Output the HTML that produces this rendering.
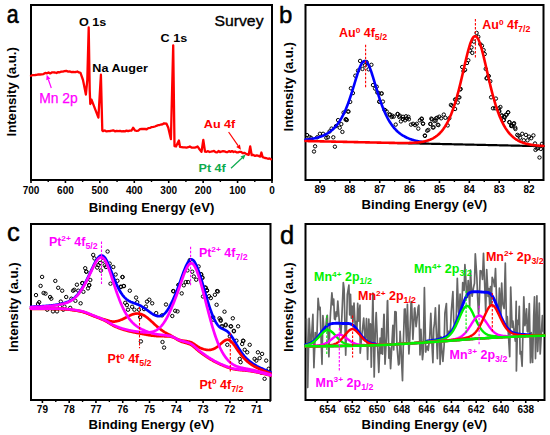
<!DOCTYPE html>
<html><head><meta charset="utf-8"><style>
html,body{margin:0;padding:0;background:#fff;}
svg{display:block;font-family:"Liberation Sans", sans-serif;}
</style></head><body>
<svg width="550" height="435" viewBox="0 0 550 435">
<rect width="550" height="435" fill="#fff"/>
<rect x="31" y="5" width="241" height="175" fill="none" stroke="#000" stroke-width="2"/>
<line x1="272.00" y1="180.00" x2="272.00" y2="183.00" stroke="#000" stroke-width="1.6" />
<line x1="237.57" y1="180.00" x2="237.57" y2="183.00" stroke="#000" stroke-width="1.6" />
<line x1="203.14" y1="180.00" x2="203.14" y2="183.00" stroke="#000" stroke-width="1.6" />
<line x1="168.71" y1="180.00" x2="168.71" y2="183.00" stroke="#000" stroke-width="1.6" />
<line x1="134.29" y1="180.00" x2="134.29" y2="183.00" stroke="#000" stroke-width="1.6" />
<line x1="99.86" y1="180.00" x2="99.86" y2="183.00" stroke="#000" stroke-width="1.6" />
<line x1="65.43" y1="180.00" x2="65.43" y2="183.00" stroke="#000" stroke-width="1.6" />
<line x1="31.00" y1="180.00" x2="31.00" y2="183.00" stroke="#000" stroke-width="1.6" />
<line x1="254.79" y1="180.00" x2="254.79" y2="182.00" stroke="#000" stroke-width="1.4" />
<line x1="220.36" y1="180.00" x2="220.36" y2="182.00" stroke="#000" stroke-width="1.4" />
<line x1="185.93" y1="180.00" x2="185.93" y2="182.00" stroke="#000" stroke-width="1.4" />
<line x1="151.50" y1="180.00" x2="151.50" y2="182.00" stroke="#000" stroke-width="1.4" />
<line x1="117.07" y1="180.00" x2="117.07" y2="182.00" stroke="#000" stroke-width="1.4" />
<line x1="82.64" y1="180.00" x2="82.64" y2="182.00" stroke="#000" stroke-width="1.4" />
<line x1="48.21" y1="180.00" x2="48.21" y2="182.00" stroke="#000" stroke-width="1.4" />
<text x="0" y="0" transform="translate(272.00,193.50) scale(1.0,1)" font-size="10" font-weight="bold" fill="#000" text-anchor="middle" >0</text>
<text x="0" y="0" transform="translate(237.57,193.50) scale(1.0,1)" font-size="10" font-weight="bold" fill="#000" text-anchor="middle" >100</text>
<text x="0" y="0" transform="translate(203.14,193.50) scale(1.0,1)" font-size="10" font-weight="bold" fill="#000" text-anchor="middle" >200</text>
<text x="0" y="0" transform="translate(168.71,193.50) scale(1.0,1)" font-size="10" font-weight="bold" fill="#000" text-anchor="middle" >300</text>
<text x="0" y="0" transform="translate(134.29,193.50) scale(1.0,1)" font-size="10" font-weight="bold" fill="#000" text-anchor="middle" >400</text>
<text x="0" y="0" transform="translate(99.86,193.50) scale(1.0,1)" font-size="10" font-weight="bold" fill="#000" text-anchor="middle" >500</text>
<text x="0" y="0" transform="translate(65.43,193.50) scale(1.0,1)" font-size="10" font-weight="bold" fill="#000" text-anchor="middle" >600</text>
<text x="0" y="0" transform="translate(31.00,193.50) scale(1.0,1)" font-size="10" font-weight="bold" fill="#000" text-anchor="middle" >700</text>
<text x="0" y="0" transform="translate(151.50,212.30) scale(1.07,1)" font-size="12.3" font-weight="bold" fill="#000" text-anchor="middle" >Binding Energy (eV)</text>
<text x="0" y="0" font-size="12" font-weight="bold" text-anchor="middle" transform="translate(16.30,91.80) rotate(-90) scale(1.1,1)">Intensity (a.u.)</text>
<text x="0" y="0" transform="translate(6.80,22.60) scale(0.84,1)" font-size="25.5" font-weight="normal" fill="#000" text-anchor="start" stroke="#000" stroke-width="0.6">a</text>
<path d="M31.00,75.80 L33.00,75.03 L35.00,75.00 L36.67,74.90 L38.33,74.48 L40.00,74.50 L41.75,74.35 L43.50,74.08 L45.25,72.99 L47.00,73.30 L48.60,72.46 L50.20,73.45 L51.80,72.48 L53.40,72.29 L55.00,72.50 L56.58,72.98 L58.17,72.03 L59.75,72.32 L61.33,71.60 L62.92,71.61 L64.50,71.20 L66.33,70.81 L68.17,71.59 L70.00,71.50 L71.50,72.14 L73.00,71.78 L74.50,72.21 L76.00,72.00 L77.30,71.50 L78.90,72.44 L80.50,72.90 L83.00,80.00 L85.90,94.50 L87.30,80.00 L88.70,27.50 L89.70,90.00 L90.30,104.00 L91.50,99.70 L98.40,117.60 L100.90,74.70 L102.30,130.40 L103.00,131.10 L104.75,130.46 L106.50,131.41 L108.25,131.15 L110.00,131.00 L111.67,130.69 L113.33,130.28 L115.00,131.41 L116.67,130.83 L118.33,131.14 L120.00,130.80 L121.63,131.32 L123.26,131.07 L124.89,131.35 L126.51,130.60 L128.14,131.15 L129.77,130.64 L131.40,130.70 L133.10,127.70 L135.00,130.50 L136.67,130.86 L138.33,130.53 L140.00,129.19 L141.67,128.99 L143.33,128.85 L145.00,129.00 L146.67,129.24 L148.33,128.08 L150.00,127.93 L151.67,127.05 L153.33,126.93 L155.00,126.50 L156.50,125.81 L158.00,125.22 L159.50,125.02 L161.00,124.48 L162.50,124.40 L164.00,123.30 L166.50,123.70 L168.20,127.50 L170.90,139.10 L173.20,45.30 L174.50,146.10 L176.00,146.50 L178.90,140.50 L180.00,146.80 L181.64,147.08 L183.28,147.46 L184.92,147.39 L186.56,147.61 L188.20,147.19 L189.84,146.51 L191.48,147.51 L193.12,147.69 L194.76,147.64 L196.40,147.10 L197.50,146.40 L199.50,149.25 L201.50,151.90 L203.30,139.80 L205.00,151.50 L206.50,151.81 L208.00,151.12 L209.50,152.00 L211.00,151.65 L212.50,151.26 L214.00,150.96 L215.50,152.08 L217.00,152.29 L218.50,151.04 L220.00,152.05 L221.50,151.51 L223.00,151.16 L224.50,151.37 L226.00,152.05 L227.50,152.21 L229.00,151.06 L230.50,151.87 L232.00,151.09 L233.50,152.04 L235.00,151.51 L236.50,152.30 L238.00,152.45 L239.50,151.80 L241.00,151.80 L242.67,153.16 L244.33,152.87 L246.00,153.80 L248.70,154.80 L250.20,146.50 L251.70,155.20 L253.40,154.89 L255.10,155.90 L256.80,155.38 L258.50,155.90 L260.20,156.60 L261.40,152.50 L262.70,157.20 L265.00,158.00 L266.50,158.20 L268.00,158.80 L269.50,158.49 L271.00,159.30" fill="none" stroke="#ff0000" stroke-width="2.3" stroke-linejoin="round" stroke-linecap="round" />
<text x="0" y="0" transform="translate(79.00,26.30) scale(1.07,1)" font-size="11.8" font-weight="bold" fill="#000" text-anchor="start" >O 1s</text>
<text x="0" y="0" transform="translate(92.30,72.40) scale(1.07,1)" font-size="11.8" font-weight="bold" fill="#000" text-anchor="start" >Na Auger</text>
<text x="0" y="0" transform="translate(160.60,41.80) scale(1.07,1)" font-size="11.8" font-weight="bold" fill="#000" text-anchor="start" >C 1s</text>
<text x="0" y="0" transform="translate(214.50,26.40) scale(1.03,1)" font-size="15.3" font-weight="normal" fill="#000" text-anchor="start" stroke="#000" stroke-width="0.35">Survey</text>
<text x="0" y="0" transform="translate(39.20,103.00) scale(1.0,1)" font-size="13.9" font-weight="normal" fill="#ff00ff" text-anchor="start" stroke="#ff00ff" stroke-width="0.25">Mn 2p</text>
<text x="0" y="0" transform="translate(203.80,127.50) scale(1.07,1)" font-size="11.8" font-weight="bold" fill="#ff0000" text-anchor="start" >Au 4f</text>
<text x="0" y="0" transform="translate(198.50,172.00) scale(1.07,1)" font-size="11.8" font-weight="bold" fill="#0daa4e" text-anchor="start" >Pt 4f</text>
<line x1="51.30" y1="88.00" x2="48.35" y2="79.52" stroke="#ff00ff" stroke-width="1.2" />
<path d="M46.70,74.80 L50.42,78.80 L46.27,80.25 Z" fill="#ff00ff"/>
<line x1="228.60" y1="132.00" x2="238.06" y2="145.69" stroke="#ff0000" stroke-width="1.2" />
<path d="M240.90,149.80 L236.25,146.94 L239.87,144.44 Z" fill="#ff0000"/>
<line x1="231.00" y1="168.20" x2="242.03" y2="158.00" stroke="#0daa4e" stroke-width="1.2" />
<path d="M245.70,154.60 L243.52,159.61 L240.54,156.38 Z" fill="#0daa4e"/>
<rect x="305.5" y="5" width="238.0" height="175" fill="none" stroke="#000" stroke-width="2"/>
<line x1="529.09" y1="180.00" x2="529.09" y2="183.00" stroke="#000" stroke-width="1.6" />
<line x1="499.22" y1="180.00" x2="499.22" y2="183.00" stroke="#000" stroke-width="1.6" />
<line x1="469.35" y1="180.00" x2="469.35" y2="183.00" stroke="#000" stroke-width="1.6" />
<line x1="439.48" y1="180.00" x2="439.48" y2="183.00" stroke="#000" stroke-width="1.6" />
<line x1="409.61" y1="180.00" x2="409.61" y2="183.00" stroke="#000" stroke-width="1.6" />
<line x1="379.74" y1="180.00" x2="379.74" y2="183.00" stroke="#000" stroke-width="1.6" />
<line x1="349.87" y1="180.00" x2="349.87" y2="183.00" stroke="#000" stroke-width="1.6" />
<line x1="320.00" y1="180.00" x2="320.00" y2="183.00" stroke="#000" stroke-width="1.6" />
<line x1="514.15" y1="180.00" x2="514.15" y2="182.00" stroke="#000" stroke-width="1.4" />
<line x1="484.28" y1="180.00" x2="484.28" y2="182.00" stroke="#000" stroke-width="1.4" />
<line x1="454.41" y1="180.00" x2="454.41" y2="182.00" stroke="#000" stroke-width="1.4" />
<line x1="424.55" y1="180.00" x2="424.55" y2="182.00" stroke="#000" stroke-width="1.4" />
<line x1="394.68" y1="180.00" x2="394.68" y2="182.00" stroke="#000" stroke-width="1.4" />
<line x1="364.81" y1="180.00" x2="364.81" y2="182.00" stroke="#000" stroke-width="1.4" />
<line x1="334.94" y1="180.00" x2="334.94" y2="182.00" stroke="#000" stroke-width="1.4" />
<text x="0" y="0" transform="translate(529.09,193.00) scale(1.0,1)" font-size="10" font-weight="bold" fill="#000" text-anchor="middle" >82</text>
<text x="0" y="0" transform="translate(499.22,193.00) scale(1.0,1)" font-size="10" font-weight="bold" fill="#000" text-anchor="middle" >83</text>
<text x="0" y="0" transform="translate(469.35,193.00) scale(1.0,1)" font-size="10" font-weight="bold" fill="#000" text-anchor="middle" >84</text>
<text x="0" y="0" transform="translate(439.48,193.00) scale(1.0,1)" font-size="10" font-weight="bold" fill="#000" text-anchor="middle" >85</text>
<text x="0" y="0" transform="translate(409.61,193.00) scale(1.0,1)" font-size="10" font-weight="bold" fill="#000" text-anchor="middle" >86</text>
<text x="0" y="0" transform="translate(379.74,193.00) scale(1.0,1)" font-size="10" font-weight="bold" fill="#000" text-anchor="middle" >87</text>
<text x="0" y="0" transform="translate(349.87,193.00) scale(1.0,1)" font-size="10" font-weight="bold" fill="#000" text-anchor="middle" >88</text>
<text x="0" y="0" transform="translate(320.00,193.00) scale(1.0,1)" font-size="10" font-weight="bold" fill="#000" text-anchor="middle" >89</text>
<text x="0" y="0" transform="translate(424.40,208.60) scale(1.07,1)" font-size="12.3" font-weight="bold" fill="#000" text-anchor="middle" >Binding Energy (eV)</text>
<text x="0" y="0" font-size="12" font-weight="bold" text-anchor="middle" transform="translate(292.70,86.80) rotate(-90) scale(1.1,1)">Intensity (a.u.)</text>
<text x="0" y="0" transform="translate(279.00,23.40) scale(1.0,1)" font-size="24" font-weight="normal" fill="#000" text-anchor="start" stroke="#000" stroke-width="0.5">b</text>
<g fill="none" stroke="#000" stroke-width="1.0"><circle cx="307.0" cy="135.1" r="1.7"/><circle cx="309.4" cy="137.0" r="1.7"/><circle cx="311.0" cy="137.8" r="1.7"/><circle cx="315.1" cy="146.3" r="1.7"/><circle cx="314.0" cy="151.5" r="1.7"/><circle cx="317.2" cy="137.3" r="1.7"/><circle cx="319.9" cy="133.8" r="1.7"/><circle cx="323.1" cy="133.8" r="1.7"/><circle cx="326.3" cy="137.8" r="1.7"/><circle cx="328.0" cy="137.3" r="1.7"/><circle cx="329.6" cy="131.4" r="1.7"/><circle cx="331.6" cy="128.6" r="1.7"/><circle cx="333.3" cy="137.3" r="1.7"/><circle cx="334.9" cy="146.7" r="1.7"/><circle cx="336.0" cy="126.1" r="1.7"/><circle cx="338.1" cy="120.1" r="1.7"/><circle cx="339.7" cy="127.7" r="1.7"/><circle cx="341.3" cy="124.1" r="1.7"/><circle cx="342.4" cy="131.9" r="1.7"/><circle cx="343.6" cy="112.6" r="1.7"/><circle cx="345.6" cy="119.6" r="1.7"/><circle cx="346.8" cy="120.1" r="1.7"/><circle cx="348.5" cy="111.6" r="1.7"/><circle cx="350.2" cy="101.9" r="1.7"/><circle cx="348.0" cy="111.5" r="1.7"/><circle cx="350.9" cy="88.3" r="1.7"/><circle cx="352.9" cy="93.1" r="1.7"/><circle cx="355.3" cy="75.7" r="1.7"/><circle cx="358.0" cy="70.6" r="1.7"/><circle cx="360.1" cy="60.9" r="1.7"/><circle cx="362.5" cy="69.0" r="1.7"/><circle cx="365.0" cy="65.3" r="1.7"/><circle cx="366.6" cy="62.1" r="1.7"/><circle cx="368.6" cy="69.3" r="1.7"/><circle cx="371.4" cy="64.8" r="1.7"/><circle cx="373.0" cy="85.1" r="1.7"/><circle cx="375.1" cy="88.6" r="1.7"/><circle cx="376.7" cy="86.7" r="1.7"/><circle cx="378.6" cy="93.1" r="1.7"/><circle cx="381.5" cy="93.5" r="1.7"/><circle cx="379.4" cy="101.8" r="1.7"/><circle cx="384.7" cy="109.9" r="1.7"/><circle cx="386.7" cy="111.5" r="1.7"/><circle cx="389.9" cy="114.4" r="1.7"/><circle cx="392.3" cy="115.7" r="1.7"/><circle cx="397.6" cy="114.0" r="1.7"/><circle cx="399.9" cy="115.7" r="1.7"/><circle cx="403.1" cy="116.8" r="1.7"/><circle cx="406.0" cy="116.3" r="1.7"/><circle cx="408.4" cy="116.8" r="1.7"/><circle cx="346.1" cy="119.2" r="1.7"/><circle cx="377.2" cy="92.4" r="1.7"/><circle cx="381.6" cy="93.5" r="1.7"/><circle cx="379.3" cy="101.6" r="1.7"/><circle cx="382.9" cy="101.6" r="1.7"/><circle cx="384.8" cy="110.1" r="1.7"/><circle cx="389.6" cy="114.9" r="1.7"/><circle cx="391.7" cy="117.0" r="1.7"/><circle cx="393.8" cy="116.6" r="1.7"/><circle cx="395.7" cy="124.6" r="1.7"/><circle cx="397.7" cy="114.1" r="1.7"/><circle cx="399.3" cy="117.0" r="1.7"/><circle cx="400.9" cy="121.4" r="1.7"/><circle cx="403.0" cy="119.0" r="1.7"/><circle cx="405.1" cy="120.3" r="1.7"/><circle cx="407.0" cy="118.6" r="1.7"/><circle cx="408.9" cy="119.3" r="1.7"/><circle cx="411.0" cy="124.6" r="1.7"/><circle cx="413.1" cy="123.8" r="1.7"/><circle cx="415.1" cy="125.1" r="1.7"/><circle cx="416.7" cy="123.8" r="1.7"/><circle cx="418.3" cy="128.6" r="1.7"/><circle cx="419.9" cy="120.3" r="1.7"/><circle cx="421.8" cy="119.0" r="1.7"/><circle cx="423.1" cy="123.8" r="1.7"/><circle cx="425.0" cy="135.9" r="1.7"/><circle cx="428.3" cy="129.9" r="1.7"/><circle cx="430.3" cy="124.1" r="1.7"/><circle cx="432.0" cy="119.3" r="1.7"/><circle cx="433.6" cy="127.3" r="1.7"/><circle cx="435.7" cy="120.6" r="1.7"/><circle cx="437.3" cy="117.7" r="1.7"/><circle cx="438.4" cy="125.1" r="1.7"/><circle cx="455.1" cy="99.5" r="1.7"/><circle cx="458.6" cy="97.3" r="1.7"/><circle cx="460.2" cy="89.5" r="1.7"/><circle cx="462.2" cy="67.0" r="1.7"/><circle cx="463.5" cy="71.0" r="1.7"/><circle cx="465.1" cy="69.9" r="1.7"/><circle cx="467.0" cy="63.0" r="1.7"/><circle cx="468.3" cy="60.3" r="1.7"/><circle cx="469.9" cy="50.6" r="1.7"/><circle cx="471.5" cy="47.4" r="1.7"/><circle cx="472.3" cy="52.9" r="1.7"/><circle cx="473.9" cy="41.6" r="1.7"/><circle cx="476.6" cy="32.9" r="1.7"/><circle cx="478.3" cy="36.8" r="1.7"/><circle cx="480.3" cy="44.2" r="1.7"/><circle cx="482.0" cy="45.8" r="1.7"/><circle cx="483.6" cy="50.1" r="1.7"/><circle cx="484.7" cy="54.1" r="1.7"/><circle cx="485.7" cy="68.9" r="1.7"/><circle cx="486.8" cy="78.0" r="1.7"/><circle cx="488.4" cy="75.9" r="1.7"/><circle cx="488.7" cy="76.1" r="1.7"/><circle cx="486.6" cy="78.5" r="1.7"/><circle cx="490.3" cy="81.2" r="1.7"/><circle cx="491.1" cy="97.3" r="1.7"/><circle cx="495.9" cy="98.6" r="1.7"/><circle cx="493.0" cy="108.3" r="1.7"/><circle cx="495.1" cy="108.3" r="1.7"/><circle cx="498.8" cy="108.3" r="1.7"/><circle cx="500.4" cy="107.0" r="1.7"/><circle cx="499.1" cy="110.7" r="1.7"/><circle cx="502.0" cy="115.5" r="1.7"/><circle cx="504.0" cy="116.6" r="1.7"/><circle cx="505.9" cy="114.7" r="1.7"/><circle cx="508.0" cy="112.3" r="1.7"/><circle cx="503.6" cy="120.3" r="1.7"/><circle cx="509.6" cy="122.4" r="1.7"/><circle cx="511.2" cy="126.0" r="1.7"/><circle cx="513.6" cy="124.0" r="1.7"/><circle cx="515.2" cy="127.6" r="1.7"/><circle cx="499.3" cy="111.6" r="1.7"/><circle cx="501.7" cy="115.6" r="1.7"/><circle cx="503.8" cy="120.0" r="1.7"/><circle cx="504.9" cy="117.2" r="1.7"/><circle cx="506.6" cy="114.8" r="1.7"/><circle cx="508.2" cy="112.4" r="1.7"/><circle cx="509.3" cy="122.1" r="1.7"/><circle cx="511.4" cy="125.3" r="1.7"/><circle cx="512.2" cy="126.1" r="1.7"/><circle cx="514.1" cy="123.2" r="1.7"/><circle cx="515.4" cy="129.0" r="1.7"/><circle cx="517.3" cy="134.9" r="1.7"/><circle cx="518.6" cy="135.7" r="1.7"/><circle cx="520.2" cy="137.7" r="1.7"/><circle cx="522.2" cy="133.8" r="1.7"/><circle cx="523.8" cy="140.3" r="1.7"/><circle cx="525.9" cy="134.9" r="1.7"/><circle cx="527.5" cy="140.3" r="1.7"/><circle cx="529.1" cy="136.6" r="1.7"/><circle cx="531.2" cy="138.2" r="1.7"/><circle cx="533.4" cy="135.4" r="1.7"/><circle cx="535.0" cy="143.5" r="1.7"/><circle cx="535.5" cy="149.9" r="1.7"/><circle cx="537.1" cy="148.6" r="1.7"/><circle cx="538.3" cy="147.8" r="1.7"/><circle cx="539.5" cy="157.5" r="1.7"/><circle cx="540.8" cy="148.9" r="1.7"/><circle cx="542.0" cy="143.8" r="1.7"/><circle cx="421.6" cy="118.6" r="1.7"/><circle cx="422.9" cy="123.5" r="1.7"/><circle cx="424.8" cy="135.5" r="1.7"/><circle cx="427.2" cy="130.7" r="1.7"/><circle cx="431.3" cy="118.6" r="1.7"/><circle cx="430.5" cy="123.8" r="1.7"/><circle cx="432.9" cy="127.5" r="1.7"/><circle cx="434.5" cy="121.0" r="1.7"/><circle cx="436.1" cy="118.3" r="1.7"/><circle cx="437.7" cy="124.7" r="1.7"/><circle cx="439.3" cy="116.7" r="1.7"/><circle cx="441.2" cy="118.3" r="1.7"/><circle cx="443.8" cy="114.6" r="1.7"/><circle cx="445.4" cy="117.8" r="1.7"/><circle cx="447.7" cy="125.4" r="1.7"/><circle cx="449.3" cy="118.3" r="1.7"/><circle cx="450.9" cy="104.9" r="1.7"/><circle cx="452.2" cy="105.7" r="1.7"/><circle cx="455.1" cy="109.0" r="1.7"/><circle cx="455.7" cy="99.6" r="1.7"/><circle cx="457.8" cy="102.5" r="1.7"/><circle cx="459.4" cy="97.4" r="1.7"/><circle cx="460.6" cy="88.9" r="1.7"/></g>
<path d="M305.50,139.66 L306.00,139.62 L306.50,139.57 L307.00,139.51 L307.50,139.46 L308.00,139.40 L308.50,139.34 L309.00,139.27 L309.50,139.21 L310.00,139.14 L310.50,139.06 L311.00,138.99 L311.50,138.91 L312.00,138.82 L312.50,138.73 L313.00,138.64 L313.50,138.55 L314.00,138.45 L314.50,138.34 L315.00,138.23 L315.50,138.12 L316.00,138.00 L316.50,137.88 L317.00,137.75 L317.50,137.61 L318.00,137.47 L318.50,137.33 L319.00,137.18 L319.50,137.02 L320.00,136.85 L320.50,136.68 L321.00,136.50 L321.50,136.32 L322.00,136.12 L322.50,135.92 L323.00,135.71 L323.50,135.49 L324.00,135.27 L324.50,135.03 L325.00,134.78 L325.50,134.53 L326.00,134.26 L326.50,133.98 L327.00,133.70 L327.50,133.40 L328.00,133.09 L328.50,132.76 L329.00,132.42 L329.50,132.07 L330.00,131.71 L330.50,131.33 L331.00,130.94 L331.50,130.53 L332.00,130.11 L332.50,129.67 L333.00,129.21 L333.50,128.73 L334.00,128.23 L334.50,127.72 L335.00,127.19 L335.50,126.63 L336.00,126.05 L336.50,125.46 L337.00,124.83 L337.50,124.19 L338.00,123.52 L338.50,122.82 L339.00,122.10 L339.50,121.35 L340.00,120.57 L340.50,119.77 L341.00,118.93 L341.50,118.06 L342.00,117.17 L342.50,116.24 L343.00,115.27 L343.50,114.27 L344.00,113.24 L344.50,112.18 L345.00,111.07 L345.50,109.93 L346.00,108.76 L346.50,107.54 L347.00,106.29 L347.50,105.00 L348.00,103.68 L348.50,102.32 L349.00,100.92 L349.50,99.49 L350.00,98.02 L350.50,96.52 L351.00,94.99 L351.50,93.43 L352.00,91.85 L352.50,90.24 L353.00,88.61 L353.50,86.97 L354.00,85.32 L354.50,83.66 L355.00,82.00 L355.50,80.35 L356.00,78.72 L356.50,77.10 L357.00,75.51 L357.50,73.96 L358.00,72.45 L358.50,71.00 L359.00,69.62 L359.50,68.30 L360.00,67.07 L360.50,65.93 L361.00,64.89 L361.50,63.96 L362.00,63.15 L362.50,62.46 L363.00,61.89 L363.50,61.47 L364.00,61.18 L364.50,61.03 L365.00,61.03 L365.50,61.17 L366.00,61.45 L366.50,61.87 L367.00,62.43 L367.50,63.12 L368.00,63.93 L368.50,64.86 L369.00,65.90 L369.50,67.04 L370.00,68.28 L370.50,69.60 L371.00,70.99 L371.50,72.45 L372.00,73.97 L372.50,75.54 L373.00,77.14 L373.50,78.77 L374.00,80.43 L374.50,82.10 L375.00,83.78 L375.50,85.46 L376.00,87.13 L376.50,88.80 L377.00,90.45 L377.50,92.09 L378.00,93.70 L378.50,95.28 L379.00,96.84 L379.50,98.37 L380.00,99.87 L380.50,101.33 L381.00,102.75 L381.50,104.15 L382.00,105.50 L382.50,106.82 L383.00,108.10 L383.50,109.34 L384.00,110.55 L384.50,111.71 L385.00,112.85 L385.50,113.94 L386.00,115.00 L386.50,116.03 L387.00,117.02 L387.50,117.98 L388.00,118.91 L388.50,119.80 L389.00,120.67 L389.50,121.50 L390.00,122.31 L390.50,123.08 L391.00,123.83 L391.50,124.55 L392.00,125.25 L392.50,125.92 L393.00,126.57 L393.50,127.20 L394.00,127.80 L394.50,128.38 L395.00,128.94 L395.50,129.48 L396.00,130.01 L396.50,130.51 L397.00,130.99 L397.50,131.46 L398.00,131.91 L398.50,132.34 L399.00,132.76 L399.50,133.16 L400.00,133.55 L400.50,133.93 L401.00,134.29 L401.50,134.64 L402.00,134.97 L402.50,135.30 L403.00,135.61 L403.50,135.91 L404.00,136.20 L404.50,136.48 L405.00,136.75 L405.50,137.01 L406.00,137.26 L406.50,137.50 L407.00,137.74 L407.50,137.96 L408.00,138.18 L408.50,138.39 L409.00,138.59 L409.50,138.79 L410.00,138.97 L410.50,139.16 L411.00,139.33 L411.50,139.50 L412.00,139.66 L412.50,139.82 L413.00,139.97 L413.50,140.12 L414.00,140.26 L414.50,140.40 L415.00,140.53 L415.50,140.66 L416.00,140.78 L416.50,140.90 L417.00,141.01 L417.50,141.12 L418.00,141.23 L418.50,141.33 L419.00,141.43 L419.50,141.53 L420.00,141.62 L420.50,141.71 L421.00,141.80 L421.50,141.88 L422.00,141.96 L422.50,142.04 L423.00,142.12 L423.50,142.19 L424.00,142.26 L424.50,142.33 L425.00,142.39" fill="none" stroke="#0000ff" stroke-width="2.6" stroke-linejoin="round" stroke-linecap="round" />
<path d="M395.00,142.98 L395.50,142.99 L396.00,143.00 L396.50,143.01 L397.00,143.02 L397.50,143.03 L398.00,143.05 L398.50,143.06 L399.00,143.07 L399.50,143.08 L400.00,143.09 L400.50,143.10 L401.00,143.11 L401.50,143.12 L402.00,143.13 L402.50,143.15 L403.00,143.16 L403.50,143.17 L404.00,143.18 L404.50,143.19 L405.00,143.20 L405.50,143.21 L406.00,143.22 L406.50,143.23 L407.00,143.24 L407.50,143.25 L408.00,143.27 L408.50,143.28 L409.00,143.29 L409.50,143.30 L410.00,143.31 L410.50,143.32 L411.00,143.33 L411.50,143.34 L412.00,143.35 L412.50,143.37 L413.00,143.38 L413.50,143.39 L414.00,143.40 L414.50,143.41 L415.00,143.42 L415.50,143.43 L416.00,143.44 L416.50,143.45 L417.00,143.46 L417.50,143.47 L418.00,143.49 L418.50,143.50 L419.00,143.51 L419.50,143.52 L420.00,143.53 L420.50,143.54 L421.00,143.55 L421.50,143.56 L422.00,143.57 L422.50,143.59 L423.00,143.60 L423.50,143.61 L424.00,143.62 L424.50,143.63 L425.00,143.64 L425.50,143.65 L426.00,143.66 L426.50,143.67 L427.00,143.68 L427.50,143.69 L428.00,143.71 L428.50,143.72 L429.00,143.73 L429.50,143.74 L430.00,143.75 L430.50,143.76 L431.00,143.77 L431.50,143.78 L432.00,143.79 L432.50,143.81 L433.00,143.82 L433.50,143.83 L434.00,143.84 L434.50,143.85 L435.00,143.86 L435.50,143.87 L436.00,143.88 L436.50,143.89 L437.00,143.90 L437.50,143.91 L438.00,143.93 L438.50,143.94 L439.00,143.95 L439.50,143.96 L440.00,143.97 L440.50,143.98 L441.00,143.99 L441.50,144.00 L442.00,144.01 L442.50,144.03 L443.00,144.04 L443.50,144.05 L444.00,144.06 L444.50,144.07 L445.00,144.08 L445.50,144.09 L446.00,144.10 L446.50,144.11 L447.00,144.12 L447.50,144.13 L448.00,144.15 L448.50,144.16 L449.00,144.17 L449.50,144.18 L450.00,144.19 L450.50,144.20 L451.00,144.21 L451.50,144.22 L452.00,144.23 L452.50,144.25 L453.00,144.26 L453.50,144.27 L454.00,144.28 L454.50,144.29 L455.00,144.30 L455.50,144.31 L456.00,144.32 L456.50,144.33 L457.00,144.34 L457.50,144.35 L458.00,144.37 L458.50,144.38 L459.00,144.39 L459.50,144.40 L460.00,144.41 L460.50,144.42 L461.00,144.43 L461.50,144.44 L462.00,144.45 L462.50,144.47 L463.00,144.48 L463.50,144.49 L464.00,144.50 L464.50,144.51 L465.00,144.52 L465.50,144.53 L466.00,144.54 L466.50,144.55 L467.00,144.56 L467.50,144.57 L468.00,144.59 L468.50,144.60 L469.00,144.61 L469.50,144.62 L470.00,144.63 L470.50,144.64 L471.00,144.65 L471.50,144.66 L472.00,144.67 L472.50,144.69 L473.00,144.70 L473.50,144.71 L474.00,144.72 L474.50,144.73 L475.00,144.74 L475.50,144.75 L476.00,144.76 L476.50,144.77 L477.00,144.78 L477.50,144.79 L478.00,144.81 L478.50,144.82 L479.00,144.83 L479.50,144.84 L480.00,144.85 L480.50,144.86 L481.00,144.87 L481.50,144.88 L482.00,144.89 L482.50,144.91 L483.00,144.92 L483.50,144.93 L484.00,144.94 L484.50,144.95 L485.00,144.96 L485.50,144.97 L486.00,144.98 L486.50,144.99 L487.00,145.00 L487.50,145.01 L488.00,145.03 L488.50,145.04 L489.00,145.05 L489.50,145.06 L490.00,145.07 L490.50,145.08 L491.00,145.09 L491.50,145.10 L492.00,145.11 L492.50,145.12 L493.00,145.14 L493.50,145.15 L494.00,145.16 L494.50,145.17 L495.00,145.18 L495.50,145.19 L496.00,145.20 L496.50,145.21 L497.00,145.22 L497.50,145.24 L498.00,145.25 L498.50,145.26 L499.00,145.27 L499.50,145.28 L500.00,145.29 L500.50,145.30 L501.00,145.31 L501.50,145.32 L502.00,145.33 L502.50,145.34 L503.00,145.36 L503.50,145.37 L504.00,145.38 L504.50,145.39 L505.00,145.40 L505.50,145.41 L506.00,145.42 L506.50,145.43 L507.00,145.44 L507.50,145.46 L508.00,145.47 L508.50,145.48 L509.00,145.49 L509.50,145.50 L510.00,145.51 L510.50,145.52 L511.00,145.53 L511.50,145.54 L512.00,145.55 L512.50,145.56 L513.00,145.58 L513.50,145.59 L514.00,145.60 L514.50,145.61 L515.00,145.62 L515.50,145.63 L516.00,145.64 L516.50,145.65 L517.00,145.66 L517.50,145.68 L518.00,145.69 L518.50,145.70 L519.00,145.71 L519.50,145.72 L520.00,145.73 L520.50,145.74 L521.00,145.75 L521.50,145.76 L522.00,145.77 L522.50,145.78 L523.00,145.80 L523.50,145.81 L524.00,145.82 L524.50,145.83 L525.00,145.84 L525.50,145.85 L526.00,145.86 L526.50,145.87 L527.00,145.88 L527.50,145.90 L528.00,145.91 L528.50,145.92 L529.00,145.93 L529.50,145.94 L530.00,145.95 L530.50,145.96 L531.00,145.97 L531.50,145.98 L532.00,145.99 L532.50,146.00 L533.00,146.02 L533.50,146.03 L534.00,146.04 L534.50,146.05 L535.00,146.06 L535.50,146.07 L536.00,146.08 L536.50,146.09 L537.00,146.10 L537.50,146.12 L538.00,146.13 L538.50,146.14 L539.00,146.15 L539.50,146.16 L540.00,146.17 L540.50,146.18 L541.00,146.19 L541.50,146.20 L542.00,146.21 L542.50,146.22 L543.00,146.24 L543.50,146.25" fill="none" stroke="#000" stroke-width="2.2" stroke-linejoin="round" stroke-linecap="round" />
<path d="M305.50,141.01 L306.00,141.02 L306.50,141.03 L307.00,141.04 L307.50,141.05 L308.00,141.07 L308.50,141.08 L309.00,141.09 L309.50,141.10 L310.00,141.11 L310.50,141.12 L311.00,141.13 L311.50,141.14 L312.00,141.15 L312.50,141.16 L313.00,141.18 L313.50,141.19 L314.00,141.20 L314.50,141.21 L315.00,141.22 L315.50,141.23 L316.00,141.24 L316.50,141.25 L317.00,141.26 L317.50,141.27 L318.00,141.29 L318.50,141.30 L319.00,141.31 L319.50,141.32 L320.00,141.33 L320.50,141.34 L321.00,141.35 L321.50,141.36 L322.00,141.37 L322.50,141.38 L323.00,141.40 L323.50,141.41 L324.00,141.42 L324.50,141.43 L325.00,141.44 L325.50,141.45 L326.00,141.46 L326.50,141.47 L327.00,141.48 L327.50,141.49 L328.00,141.51 L328.50,141.52 L329.00,141.53 L329.50,141.54 L330.00,141.55 L330.50,141.56 L331.00,141.57 L331.50,141.58 L332.00,141.59 L332.50,141.60 L333.00,141.62 L333.50,141.63 L334.00,141.64 L334.50,141.65 L335.00,141.66 L335.50,141.67 L336.00,141.68 L336.50,141.69 L337.00,141.70 L337.50,141.71 L338.00,141.73 L338.50,141.74 L339.00,141.75 L339.50,141.76 L340.00,141.77 L340.50,141.78 L341.00,141.79 L341.50,141.80 L342.00,141.81 L342.50,141.82 L343.00,141.84 L343.50,141.85 L344.00,141.86 L344.50,141.87 L345.00,141.88 L345.50,141.89 L346.00,141.90 L346.50,141.91 L347.00,141.92 L347.50,141.93 L348.00,141.95 L348.50,141.96 L349.00,141.97 L349.50,141.98 L350.00,141.99 L350.50,142.00 L351.00,142.01 L351.50,142.02 L352.00,142.03 L352.50,142.04 L353.00,142.06 L353.50,142.07 L354.00,142.08 L354.50,142.09 L355.00,142.10 L355.50,142.11 L356.00,142.12 L356.50,142.13 L357.00,142.14 L357.50,142.15 L358.00,142.17 L358.50,142.18 L359.00,142.19 L359.50,142.20 L360.00,142.21 L360.50,142.22 L361.00,142.23 L361.50,142.24 L362.00,142.25 L362.50,142.26 L363.00,142.28 L363.50,142.29 L364.00,142.30 L364.50,142.31 L365.00,142.32 L365.50,142.33 L366.00,142.34 L366.50,142.35 L367.00,142.36 L367.50,142.37 L368.00,142.39 L368.50,142.40 L369.00,142.41 L369.50,142.42 L370.00,142.43 L370.50,142.44 L371.00,142.45 L371.50,142.46 L372.00,142.47 L372.50,142.48 L373.00,142.49 L373.50,142.51 L374.00,142.52 L374.50,142.53 L375.00,142.54 L375.50,142.55 L376.00,142.56 L376.50,142.57 L377.00,142.58 L377.50,142.59 L378.00,142.60 L378.50,142.61 L379.00,142.62 L379.50,142.63 L380.00,142.64 L380.50,142.66 L381.00,142.67 L381.50,142.68 L382.00,142.69 L382.50,142.70 L383.00,142.71 L383.50,142.72 L384.00,142.73 L384.50,142.74 L385.00,142.75 L385.50,142.76 L386.00,142.77 L386.50,142.78 L387.00,142.79 L387.50,142.80 L388.00,142.81 L388.50,142.82 L389.00,142.83 L389.50,142.84 L390.00,142.84 L390.50,142.85 L391.00,142.86 L391.50,142.87 L392.00,142.88 L392.50,142.89 L393.00,142.90 L393.50,142.90 L394.00,142.91 L394.50,142.92 L395.00,142.93 L395.50,142.93 L396.00,142.94 L396.50,142.95 L397.00,142.95 L397.50,142.96 L398.00,142.97 L398.50,142.97 L399.00,142.98 L399.50,142.98 L400.00,142.98 L400.50,142.99 L401.00,142.99 L401.50,142.99 L402.00,142.99 L402.50,142.99 L403.00,143.00 L403.50,142.99 L404.00,142.99 L404.50,142.99 L405.00,142.99 L405.50,142.99 L406.00,142.98 L406.50,142.98 L407.00,142.97 L407.50,142.96 L408.00,142.95 L408.50,142.95 L409.00,142.93 L409.50,142.92 L410.00,142.91 L410.50,142.89 L411.00,142.88 L411.50,142.86 L412.00,142.84 L412.50,142.82 L413.00,142.79 L413.50,142.77 L414.00,142.74 L414.50,142.71 L415.00,142.67 L415.50,142.64 L416.00,142.60 L416.50,142.56 L417.00,142.52 L417.50,142.47 L418.00,142.42 L418.50,142.37 L419.00,142.31 L419.50,142.25 L420.00,142.19 L420.50,142.12 L421.00,142.04 L421.50,141.97 L422.00,141.89 L422.50,141.80 L423.00,141.71 L423.50,141.61 L424.00,141.51 L424.50,141.40 L425.00,141.28 L425.50,141.16 L426.00,141.03 L426.50,140.89 L427.00,140.75 L427.50,140.60 L428.00,140.44 L428.50,140.27 L429.00,140.09 L429.50,139.91 L430.00,139.71 L430.50,139.51 L431.00,139.29 L431.50,139.06 L432.00,138.82 L432.50,138.57 L433.00,138.31 L433.50,138.03 L434.00,137.74 L434.50,137.44 L435.00,137.12 L435.50,136.79 L436.00,136.44 L436.50,136.07 L437.00,135.69 L437.50,135.29 L438.00,134.87 L438.50,134.43 L439.00,133.97 L439.50,133.49 L440.00,132.99 L440.50,132.46 L441.00,131.91 L441.50,131.34 L442.00,130.74 L442.50,130.12 L443.00,129.47 L443.50,128.80 L444.00,128.09 L444.50,127.35 L445.00,126.59 L445.50,125.79 L446.00,124.96 L446.50,124.10 L447.00,123.20 L447.50,122.26 L448.00,121.29 L448.50,120.28 L449.00,119.23 L449.50,118.15 L450.00,117.02 L450.50,115.85 L451.00,114.64 L451.50,113.38 L452.00,112.08 L452.50,110.74 L453.00,109.34 L453.50,107.91 L454.00,106.42 L454.50,104.89 L455.00,103.31 L455.50,101.69 L456.00,100.02 L456.50,98.30 L457.00,96.53 L457.50,94.72 L458.00,92.87 L458.50,90.97 L459.00,89.03 L459.50,87.05 L460.00,85.03 L460.50,82.98 L461.00,80.90 L461.50,78.79 L462.00,76.65 L462.50,74.50 L463.00,72.34 L463.50,70.16 L464.00,67.98 L464.50,65.81 L465.00,63.65 L465.50,61.50 L466.00,59.39 L466.50,57.31 L467.00,55.27 L467.50,53.29 L468.00,51.37 L468.50,49.52 L469.00,47.75 L469.50,46.08 L470.00,44.51 L470.50,43.04 L471.00,41.70 L471.50,40.49 L472.00,39.41 L472.50,38.48 L473.00,37.69 L473.50,37.07 L474.00,36.60 L474.50,36.29 L475.00,36.15 L475.50,36.18 L476.00,36.38 L476.50,36.74 L477.00,37.26 L477.50,37.94 L478.00,38.78 L478.50,39.76 L479.00,40.89 L479.50,42.15 L480.00,43.54 L480.50,45.05 L481.00,46.66 L481.50,48.38 L482.00,50.18 L482.50,52.07 L483.00,54.02 L483.50,56.04 L484.00,58.11 L484.50,60.22 L485.00,62.36 L485.50,64.53 L486.00,66.72 L486.50,68.92 L487.00,71.11 L487.50,73.31 L488.00,75.50 L488.50,77.67 L489.00,79.82 L489.50,81.95 L490.00,84.04 L490.50,86.11 L491.00,88.14 L491.50,90.14 L492.00,92.09 L492.50,94.00 L493.00,95.87 L493.50,97.69 L494.00,99.47 L494.50,101.20 L495.00,102.89 L495.50,104.53 L496.00,106.12 L496.50,107.66 L497.00,109.16 L497.50,110.61 L498.00,112.01 L498.50,113.37 L499.00,114.68 L499.50,115.95 L500.00,117.18 L500.50,118.36 L501.00,119.50 L501.50,120.60 L502.00,121.67 L502.50,122.69 L503.00,123.68 L503.50,124.63 L504.00,125.54 L504.50,126.42 L505.00,127.26 L505.50,128.08 L506.00,128.86 L506.50,129.61 L507.00,130.33 L507.50,131.03 L508.00,131.69 L508.50,132.33 L509.00,132.95 L509.50,133.53 L510.00,134.10 L510.50,134.64 L511.00,135.16 L511.50,135.66 L512.00,136.14 L512.50,136.59 L513.00,137.03 L513.50,137.45 L514.00,137.85 L514.50,138.24 L515.00,138.61 L515.50,138.96 L516.00,139.30 L516.50,139.62 L517.00,139.93 L517.50,140.23 L518.00,140.51 L518.50,140.78 L519.00,141.04 L519.50,141.28 L520.00,141.52 L520.50,141.75 L521.00,141.96 L521.50,142.17 L522.00,142.37 L522.50,142.55 L523.00,142.73 L523.50,142.90 L524.00,143.07 L524.50,143.23 L525.00,143.37 L525.50,143.52 L526.00,143.65 L526.50,143.78 L527.00,143.91 L527.50,144.03 L528.00,144.14 L528.50,144.25 L529.00,144.35 L529.50,144.45 L530.00,144.54 L530.50,144.63 L531.00,144.72 L531.50,144.80 L532.00,144.88 L532.50,144.95 L533.00,145.02 L533.50,145.09 L534.00,145.16 L534.50,145.22 L535.00,145.28 L535.50,145.33 L536.00,145.39 L536.50,145.44 L537.00,145.49 L537.50,145.54 L538.00,145.58 L538.50,145.63 L539.00,145.67 L539.50,145.71 L540.00,145.75 L540.50,145.78 L541.00,145.82 L541.50,145.85 L542.00,145.89 L542.50,145.92 L543.00,145.95 L543.50,145.98" fill="none" stroke="#ff0000" stroke-width="2.6" stroke-linejoin="round" stroke-linecap="round" />
<line x1="365.60" y1="44.70" x2="365.60" y2="88.00" stroke="#ff0000" stroke-width="1.1" stroke-dasharray="2.5,1.5"/>
<line x1="475.40" y1="19.00" x2="475.40" y2="58.00" stroke="#ff0000" stroke-width="1.1" stroke-dasharray="2.5,1.5"/>
<text x="0" y="0" transform="translate(339.00,36.70) scale(1.04,1)" font-size="12" font-weight="bold" fill="#ff0000">Au<tspan font-size="8" dy="-3.5">0</tspan><tspan dy="3.5"> 4f</tspan><tspan font-size="8.5" dy="3.0">5/2</tspan></text>
<text x="0" y="0" transform="translate(482.30,28.90) scale(1.04,1)" font-size="12" font-weight="bold" fill="#ff0000">Au<tspan font-size="8" dy="-3.5">0</tspan><tspan dy="3.5"> 4f</tspan><tspan font-size="8.5" dy="3.0">7/2</tspan></text>
<rect x="31" y="224" width="239.5" height="176" fill="none" stroke="#000" stroke-width="2"/>
<line x1="256.64" y1="400.00" x2="256.64" y2="403.00" stroke="#000" stroke-width="1.6" />
<line x1="229.86" y1="400.00" x2="229.86" y2="403.00" stroke="#000" stroke-width="1.6" />
<line x1="203.08" y1="400.00" x2="203.08" y2="403.00" stroke="#000" stroke-width="1.6" />
<line x1="176.30" y1="400.00" x2="176.30" y2="403.00" stroke="#000" stroke-width="1.6" />
<line x1="149.52" y1="400.00" x2="149.52" y2="403.00" stroke="#000" stroke-width="1.6" />
<line x1="122.74" y1="400.00" x2="122.74" y2="403.00" stroke="#000" stroke-width="1.6" />
<line x1="95.96" y1="400.00" x2="95.96" y2="403.00" stroke="#000" stroke-width="1.6" />
<line x1="69.18" y1="400.00" x2="69.18" y2="403.00" stroke="#000" stroke-width="1.6" />
<line x1="42.40" y1="400.00" x2="42.40" y2="403.00" stroke="#000" stroke-width="1.6" />
<line x1="270.03" y1="400.00" x2="270.03" y2="402.00" stroke="#000" stroke-width="1.4" />
<line x1="243.25" y1="400.00" x2="243.25" y2="402.00" stroke="#000" stroke-width="1.4" />
<line x1="216.47" y1="400.00" x2="216.47" y2="402.00" stroke="#000" stroke-width="1.4" />
<line x1="189.69" y1="400.00" x2="189.69" y2="402.00" stroke="#000" stroke-width="1.4" />
<line x1="162.91" y1="400.00" x2="162.91" y2="402.00" stroke="#000" stroke-width="1.4" />
<line x1="136.13" y1="400.00" x2="136.13" y2="402.00" stroke="#000" stroke-width="1.4" />
<line x1="109.35" y1="400.00" x2="109.35" y2="402.00" stroke="#000" stroke-width="1.4" />
<line x1="82.57" y1="400.00" x2="82.57" y2="402.00" stroke="#000" stroke-width="1.4" />
<line x1="55.79" y1="400.00" x2="55.79" y2="402.00" stroke="#000" stroke-width="1.4" />
<text x="0" y="0" transform="translate(256.64,413.00) scale(1.0,1)" font-size="10" font-weight="bold" fill="#000" text-anchor="middle" >71</text>
<text x="0" y="0" transform="translate(229.86,413.00) scale(1.0,1)" font-size="10" font-weight="bold" fill="#000" text-anchor="middle" >72</text>
<text x="0" y="0" transform="translate(203.08,413.00) scale(1.0,1)" font-size="10" font-weight="bold" fill="#000" text-anchor="middle" >73</text>
<text x="0" y="0" transform="translate(176.30,413.00) scale(1.0,1)" font-size="10" font-weight="bold" fill="#000" text-anchor="middle" >74</text>
<text x="0" y="0" transform="translate(149.52,413.00) scale(1.0,1)" font-size="10" font-weight="bold" fill="#000" text-anchor="middle" >75</text>
<text x="0" y="0" transform="translate(122.74,413.00) scale(1.0,1)" font-size="10" font-weight="bold" fill="#000" text-anchor="middle" >76</text>
<text x="0" y="0" transform="translate(95.96,413.00) scale(1.0,1)" font-size="10" font-weight="bold" fill="#000" text-anchor="middle" >77</text>
<text x="0" y="0" transform="translate(69.18,413.00) scale(1.0,1)" font-size="10" font-weight="bold" fill="#000" text-anchor="middle" >78</text>
<text x="0" y="0" transform="translate(42.40,413.00) scale(1.0,1)" font-size="10" font-weight="bold" fill="#000" text-anchor="middle" >79</text>
<text x="0" y="0" transform="translate(151.30,428.70) scale(1.07,1)" font-size="12.3" font-weight="bold" fill="#000" text-anchor="middle" >Binding Energy (eV)</text>
<text x="0" y="0" font-size="12" font-weight="bold" text-anchor="middle" transform="translate(18.40,307.20) rotate(-90) scale(1.1,1)">Intensity (a.u.)</text>
<text x="0" y="0" transform="translate(7.00,241.00) scale(1.0,1)" font-size="25.5" font-weight="normal" fill="#000" text-anchor="start" stroke="#000" stroke-width="0.5">c</text>
<g fill="none" stroke="#000" stroke-width="1.0"><circle cx="42.1" cy="276.9" r="1.7"/><circle cx="40.6" cy="285.9" r="1.7"/><circle cx="36.0" cy="295.1" r="1.7"/><circle cx="43.6" cy="293.0" r="1.7"/><circle cx="45.5" cy="293.6" r="1.7"/><circle cx="50.1" cy="297.0" r="1.7"/><circle cx="51.3" cy="298.7" r="1.7"/><circle cx="39.2" cy="302.2" r="1.7"/><circle cx="38.0" cy="303.9" r="1.7"/><circle cx="55.3" cy="280.9" r="1.7"/><circle cx="58.2" cy="287.8" r="1.7"/><circle cx="62.2" cy="290.7" r="1.7"/><circle cx="60.8" cy="301.6" r="1.7"/><circle cx="66.2" cy="297.0" r="1.7"/><circle cx="47.2" cy="309.7" r="1.7"/><circle cx="49.0" cy="307.4" r="1.7"/><circle cx="53.0" cy="311.4" r="1.7"/><circle cx="57.0" cy="311.4" r="1.7"/><circle cx="59.9" cy="306.8" r="1.7"/><circle cx="63.3" cy="309.7" r="1.7"/><circle cx="64.5" cy="306.6" r="1.7"/><circle cx="70.2" cy="307.9" r="1.7"/><circle cx="71.4" cy="298.7" r="1.7"/><circle cx="73.1" cy="290.7" r="1.7"/><circle cx="74.3" cy="289.8" r="1.7"/><circle cx="75.4" cy="300.8" r="1.7"/><circle cx="76.9" cy="284.7" r="1.7"/><circle cx="78.3" cy="290.7" r="1.7"/><circle cx="80.6" cy="303.3" r="1.7"/><circle cx="82.3" cy="283.2" r="1.7"/><circle cx="83.4" cy="291.8" r="1.7"/><circle cx="86.3" cy="271.7" r="1.7"/><circle cx="88.0" cy="288.4" r="1.7"/><circle cx="89.2" cy="285.0" r="1.7"/><circle cx="34.0" cy="307.9" r="1.7"/><circle cx="93.2" cy="254.9" r="1.7"/><circle cx="94.4" cy="258.4" r="1.7"/><circle cx="107.6" cy="251.5" r="1.7"/><circle cx="85.2" cy="268.2" r="1.7"/><circle cx="86.3" cy="271.6" r="1.7"/><circle cx="97.2" cy="267.6" r="1.7"/><circle cx="98.4" cy="265.1" r="1.7"/><circle cx="100.1" cy="263.0" r="1.7"/><circle cx="100.9" cy="270.5" r="1.7"/><circle cx="103.0" cy="260.7" r="1.7"/><circle cx="104.7" cy="265.3" r="1.7"/><circle cx="105.9" cy="267.0" r="1.7"/><circle cx="109.7" cy="263.6" r="1.7"/><circle cx="113.3" cy="267.0" r="1.7"/><circle cx="115.6" cy="274.5" r="1.7"/><circle cx="117.4" cy="280.8" r="1.7"/><circle cx="122.5" cy="277.0" r="1.7"/><circle cx="82.3" cy="283.1" r="1.7"/><circle cx="90.3" cy="280.0" r="1.7"/><circle cx="89.2" cy="285.4" r="1.7"/><circle cx="110.5" cy="283.7" r="1.7"/><circle cx="120.8" cy="286.6" r="1.7"/><circle cx="123.7" cy="286.0" r="1.7"/><circle cx="122.5" cy="277.1" r="1.7"/><circle cx="124.0" cy="286.1" r="1.7"/><circle cx="121.1" cy="287.0" r="1.7"/><circle cx="129.8" cy="290.7" r="1.7"/><circle cx="136.1" cy="297.6" r="1.7"/><circle cx="125.2" cy="302.8" r="1.7"/><circle cx="126.9" cy="305.1" r="1.7"/><circle cx="128.0" cy="309.7" r="1.7"/><circle cx="132.1" cy="306.8" r="1.7"/><circle cx="134.4" cy="309.7" r="1.7"/><circle cx="137.2" cy="302.2" r="1.7"/><circle cx="139.0" cy="309.7" r="1.7"/><circle cx="140.1" cy="317.1" r="1.7"/><circle cx="144.1" cy="309.1" r="1.7"/><circle cx="145.9" cy="306.6" r="1.7"/><circle cx="147.0" cy="301.6" r="1.7"/><circle cx="149.3" cy="299.7" r="1.7"/><circle cx="152.2" cy="303.3" r="1.7"/><circle cx="156.2" cy="313.1" r="1.7"/><circle cx="162.0" cy="315.4" r="1.7"/><circle cx="166.0" cy="304.5" r="1.7"/><circle cx="172.3" cy="316.0" r="1.7"/><circle cx="173.4" cy="291.3" r="1.7"/><circle cx="175.2" cy="310.8" r="1.7"/><circle cx="177.5" cy="311.4" r="1.7"/><circle cx="178.6" cy="285.0" r="1.7"/><circle cx="189.8" cy="260.1" r="1.7"/><circle cx="198.6" cy="266.5" r="1.7"/><circle cx="192.2" cy="271.7" r="1.7"/><circle cx="193.8" cy="276.5" r="1.7"/><circle cx="196.2" cy="279.7" r="1.7"/><circle cx="201.0" cy="274.1" r="1.7"/><circle cx="202.2" cy="277.3" r="1.7"/><circle cx="187.4" cy="270.4" r="1.7"/><circle cx="185.7" cy="282.1" r="1.7"/><circle cx="188.2" cy="282.1" r="1.7"/><circle cx="183.8" cy="285.3" r="1.7"/><circle cx="178.5" cy="284.9" r="1.7"/><circle cx="173.2" cy="291.0" r="1.7"/><circle cx="181.7" cy="293.4" r="1.7"/><circle cx="205.9" cy="287.8" r="1.7"/><circle cx="207.0" cy="290.2" r="1.7"/><circle cx="217.1" cy="291.0" r="1.7"/><circle cx="201.3" cy="274.6" r="1.7"/><circle cx="202.5" cy="277.9" r="1.7"/><circle cx="205.0" cy="287.4" r="1.7"/><circle cx="207.0" cy="290.7" r="1.7"/><circle cx="209.1" cy="296.2" r="1.7"/><circle cx="210.8" cy="298.1" r="1.7"/><circle cx="214.9" cy="294.8" r="1.7"/><circle cx="217.9" cy="291.5" r="1.7"/><circle cx="203.0" cy="296.5" r="1.7"/><circle cx="216.6" cy="304.8" r="1.7"/><circle cx="224.5" cy="311.7" r="1.7"/><circle cx="213.2" cy="317.2" r="1.7"/><circle cx="213.2" cy="319.7" r="1.7"/><circle cx="219.5" cy="318.3" r="1.7"/><circle cx="220.7" cy="319.7" r="1.7"/><circle cx="232.8" cy="318.3" r="1.7"/><circle cx="225.7" cy="324.6" r="1.7"/><circle cx="222.4" cy="326.3" r="1.7"/><circle cx="231.1" cy="326.3" r="1.7"/><circle cx="238.1" cy="326.3" r="1.7"/><circle cx="233.9" cy="331.3" r="1.7"/><circle cx="229.8" cy="336.2" r="1.7"/><circle cx="243.4" cy="340.9" r="1.7"/><circle cx="220.7" cy="320.8" r="1.7"/><circle cx="221.5" cy="326.3" r="1.7"/><circle cx="225.7" cy="325.3" r="1.7"/><circle cx="230.6" cy="326.3" r="1.7"/><circle cx="233.9" cy="330.8" r="1.7"/><circle cx="227.3" cy="344.8" r="1.7"/><circle cx="236.4" cy="340.7" r="1.7"/><circle cx="243.0" cy="340.7" r="1.7"/><circle cx="242.2" cy="344.0" r="1.7"/><circle cx="249.7" cy="344.8" r="1.7"/><circle cx="244.7" cy="349.8" r="1.7"/><circle cx="247.2" cy="352.3" r="1.7"/><circle cx="239.7" cy="358.9" r="1.7"/><circle cx="240.6" cy="362.2" r="1.7"/><circle cx="254.6" cy="358.9" r="1.7"/><circle cx="256.3" cy="360.6" r="1.7"/><circle cx="257.9" cy="352.3" r="1.7"/><circle cx="259.6" cy="358.1" r="1.7"/><circle cx="262.1" cy="353.9" r="1.7"/><circle cx="266.2" cy="360.6" r="1.7"/><circle cx="268.7" cy="368.8" r="1.7"/><circle cx="264.6" cy="378.8" r="1.7"/><circle cx="261.3" cy="372.6" r="1.7"/><circle cx="164.1" cy="347.6" r="1.7"/><circle cx="140.9" cy="341.4" r="1.7"/><circle cx="162.5" cy="342.0" r="1.7"/></g>
<path d="M31.00,306.87 L31.50,306.84 L32.00,306.82 L32.50,306.80 L33.00,306.77 L33.50,306.75 L34.00,306.72 L34.50,306.70 L35.00,306.67 L35.50,306.65 L36.00,306.62 L36.50,306.59 L37.00,306.56 L37.50,306.54 L38.00,306.51 L38.50,306.48 L39.00,306.45 L39.50,306.42 L40.00,306.39 L40.50,306.36 L41.00,306.32 L41.50,306.29 L42.00,306.26 L42.50,306.22 L43.00,306.19 L43.50,306.15 L44.00,306.12 L44.50,306.08 L45.00,306.04 L45.50,306.00 L46.00,305.96 L46.50,305.92 L47.00,305.88 L47.50,305.83 L48.00,305.79 L48.50,305.74 L49.00,305.70 L49.50,305.65 L50.00,305.60 L50.50,305.55 L51.00,305.49 L51.50,305.44 L52.00,305.38 L52.50,305.32 L53.00,305.26 L53.50,305.20 L54.00,305.13 L54.50,305.07 L55.00,305.00 L55.50,304.92 L56.00,304.85 L56.50,304.77 L57.00,304.68 L57.50,304.60 L58.00,304.51 L58.50,304.41 L59.00,304.31 L59.50,304.21 L60.00,304.10 L60.50,303.99 L61.00,303.87 L61.50,303.75 L62.00,303.63 L62.50,303.51 L63.00,303.38 L63.50,303.24 L64.00,303.10 L64.50,302.96 L65.00,302.80 L65.50,302.64 L66.00,302.47 L66.50,302.30 L67.00,302.11 L67.50,301.91 L68.00,301.71 L68.50,301.49 L69.00,301.26 L69.50,301.01 L70.00,300.76 L70.50,300.48 L71.00,300.19 L71.50,299.89 L72.00,299.57 L72.50,299.22 L73.00,298.86 L73.50,298.48 L74.00,298.08 L74.50,297.66 L75.00,297.22 L75.50,296.75 L76.00,296.26 L76.50,295.74 L77.00,295.20 L77.50,294.63 L78.00,294.04 L78.50,293.42 L79.00,292.77 L79.50,292.09 L80.00,291.38 L80.50,290.65 L81.00,289.91 L81.50,289.14 L82.00,288.35 L82.50,287.54 L83.00,286.71 L83.50,285.86 L84.00,284.99 L84.50,284.10 L85.00,283.19 L85.50,282.26 L86.00,281.31 L86.50,280.34 L87.00,279.35 L87.50,278.35 L88.00,277.33 L88.50,276.29 L89.00,275.25 L89.50,274.19 L90.00,273.13 L90.50,272.05 L91.00,270.98 L91.50,269.91 L92.00,268.84 L92.50,267.77 L93.00,266.72 L93.50,265.68 L94.00,264.65 L94.50,263.66 L95.00,262.69 L95.50,261.75 L96.00,260.86 L96.50,260.02 L97.00,259.23 L97.50,258.50 L98.00,257.84 L98.50,257.26 L99.00,256.75 L99.50,256.32 L100.00,255.99 L100.50,255.74 L101.00,255.59 L101.50,255.53 L102.00,255.57 L102.50,255.71 L103.00,255.95 L103.50,256.29 L104.00,256.72 L104.50,257.25 L105.00,257.87 L105.50,258.58 L106.00,259.37 L106.50,260.26 L107.00,261.21 L107.50,262.24 L108.00,263.32 L108.50,264.46 L109.00,265.64 L109.50,266.87 L110.00,268.12 L110.50,269.39 L111.00,270.68 L111.50,271.98 L112.00,273.29 L112.50,274.59 L113.00,275.88 L113.50,277.15 L114.00,278.40 L114.50,279.63 L115.00,280.83 L115.50,282.00 L116.00,283.14 L116.50,284.25 L117.00,285.34 L117.50,286.40 L118.00,287.42 L118.50,288.40 L119.00,289.36 L119.50,290.27 L120.00,291.15 L120.50,291.99 L121.00,292.79 L121.50,293.56 L122.00,294.28 L122.50,294.97 L123.00,295.62 L123.50,296.24 L124.00,296.82 L124.50,297.36 L125.00,297.87 L125.50,298.35 L126.00,298.79 L126.50,299.21 L127.00,299.60 L127.50,299.97 L128.00,300.30 L128.50,300.62 L129.00,300.92 L129.50,301.19 L130.00,301.45 L130.50,301.70 L131.00,301.93 L131.50,302.14 L132.00,302.35 L132.50,302.55 L133.00,302.74 L133.50,302.93 L134.00,303.11 L134.50,303.29 L135.00,303.47 L135.50,303.65 L136.00,303.84 L136.50,304.02 L137.00,304.22 L137.50,304.41 L138.00,304.62 L138.50,304.83 L139.00,305.05 L139.50,305.28 L140.00,305.52 L140.50,305.77 L141.00,306.04 L141.50,306.31 L142.00,306.60 L142.50,306.89 L143.00,307.20 L143.50,307.52 L144.00,307.85 L144.50,308.19 L145.00,308.53 L145.50,308.89 L146.00,309.25 L146.50,309.61 L147.00,309.98 L147.50,310.35 L148.00,310.73 L148.50,311.10 L149.00,311.48 L149.50,311.85 L150.00,312.22 L150.50,312.58 L151.00,312.93 L151.50,313.28 L152.00,313.61 L152.50,313.93 L153.00,314.24 L153.50,314.53 L154.00,314.80 L154.50,315.06 L155.00,315.29 L155.50,315.49 L156.00,315.67 L156.50,315.83 L157.00,315.96 L157.50,316.06 L158.00,316.12 L158.50,316.16 L159.00,316.16 L159.50,316.13 L160.00,316.06 L160.50,315.95 L161.00,315.81 L161.50,315.63 L162.00,315.40 L162.50,315.14 L163.00,314.83 L163.50,314.48 L164.00,314.09 L164.50,313.65 L165.00,313.17 L165.50,312.64 L166.00,312.07 L166.50,311.45 L167.00,310.78 L167.50,310.07 L168.00,309.31 L168.50,308.51 L169.00,307.66 L169.50,306.77 L170.00,305.84 L170.50,304.87 L171.00,303.89 L171.50,302.89 L172.00,301.86 L172.50,300.82 L173.00,299.74 L173.50,298.65 L174.00,297.53 L174.50,296.38 L175.00,295.21 L175.50,294.01 L176.00,292.78 L176.50,291.53 L177.00,290.26 L177.50,288.95 L178.00,287.63 L178.50,286.28 L179.00,284.90 L179.50,283.51 L180.00,282.10 L180.50,280.67 L181.00,279.24 L181.50,277.81 L182.00,276.39 L182.50,274.99 L183.00,273.60 L183.50,272.25 L184.00,270.92 L184.50,269.64 L185.00,268.40 L185.50,267.22 L186.00,266.09 L186.50,265.03 L187.00,264.04 L187.50,263.13 L188.00,262.31 L188.50,261.58 L189.00,260.94 L189.50,260.40 L190.00,259.97 L190.50,259.66 L191.00,259.49 L191.50,259.44 L192.00,259.53 L192.50,259.75 L193.00,260.09 L193.50,260.55 L194.00,261.13 L194.50,261.83 L195.00,262.63 L195.50,263.54 L196.00,264.54 L196.50,265.63 L197.00,266.81 L197.50,268.07 L198.00,269.39 L198.50,270.77 L199.00,272.20 L199.50,273.68 L200.00,275.20 L200.50,276.75 L201.00,278.34 L201.50,279.98 L202.00,281.65 L202.50,283.34 L203.00,285.05 L203.50,286.79 L204.00,288.53 L204.50,290.27 L205.00,292.02 L205.50,293.76 L206.00,295.49 L206.50,297.20 L207.00,298.90 L207.50,300.57 L208.00,302.21 L208.50,303.83 L209.00,305.40 L209.50,306.94 L210.00,308.43 L210.50,309.89 L211.00,311.29 L211.50,312.66 L212.00,313.97 L212.50,315.23 L213.00,316.44 L213.50,317.60 L214.00,318.70 L214.50,319.74 L215.00,320.72 L215.50,321.65 L216.00,322.51 L216.50,323.32 L217.00,324.06 L217.50,324.75 L218.00,325.38 L218.50,325.95 L219.00,326.46 L219.50,326.93 L220.00,327.34 L220.50,327.71 L221.00,328.04 L221.50,328.34 L222.00,328.62 L222.50,328.87 L223.00,329.11 L223.50,329.34 L224.00,329.56 L224.50,329.79 L225.00,330.02 L225.50,330.27 L226.00,330.55 L226.50,330.85 L227.00,331.18 L227.50,331.56 L228.00,331.97 L228.50,332.43 L229.00,332.93 L229.50,333.49 L230.00,334.09 L230.50,334.73 L231.00,335.42 L231.50,336.15 L232.00,336.91 L232.50,337.70 L233.00,338.52 L233.50,339.37 L234.00,340.22 L234.50,341.09 L235.00,341.96 L235.50,342.84 L236.00,343.71 L236.50,344.58 L237.00,345.45 L237.50,346.30 L238.00,347.14 L238.50,347.96 L239.00,348.77 L239.50,349.55 L240.00,350.32 L240.50,351.07 L241.00,351.80 L241.50,352.50 L242.00,353.19 L242.50,353.85 L243.00,354.49 L243.50,355.11 L244.00,355.71 L244.50,356.29 L245.00,356.84 L245.50,357.38 L246.00,357.91 L246.50,358.41 L247.00,358.90 L247.50,359.37 L248.00,359.83 L248.50,360.27 L249.00,360.70 L249.50,361.11 L250.00,361.52 L250.50,361.91 L251.00,362.29 L251.50,362.66 L252.00,363.02 L252.50,363.37 L253.00,363.70 L253.50,364.03 L254.00,364.35 L254.50,364.66 L255.00,364.96 L255.50,365.26 L256.00,365.54 L256.50,365.82 L257.00,366.10 L257.50,366.36 L258.00,366.62 L258.50,366.88 L259.00,367.13 L259.50,367.38 L260.00,367.62 L260.50,367.86 L261.00,368.10 L261.50,368.33 L262.00,368.56 L262.50,368.79 L263.00,369.01 L263.50,369.23 L264.00,369.45 L264.50,369.66 L265.00,369.88 L265.50,370.09 L266.00,370.30 L266.50,370.51 L267.00,370.72 L267.50,370.93 L268.00,371.13 L268.50,371.34 L269.00,371.54 L269.50,371.74 L270.00,371.95 L270.50,372.15" fill="none" stroke="#0000ff" stroke-width="2.7" stroke-linejoin="round" stroke-linecap="round" />
<path d="M31.00,308.79 L31.50,308.79 L32.00,308.79 L32.50,308.79 L33.00,308.79 L33.50,308.79 L34.00,308.79 L34.50,308.79 L35.00,308.80 L35.50,308.80 L36.00,308.80 L36.50,308.80 L37.00,308.80 L37.50,308.80 L38.00,308.80 L38.50,308.80 L39.00,308.81 L39.50,308.81 L40.00,308.81 L40.50,308.81 L41.00,308.82 L41.50,308.82 L42.00,308.82 L42.50,308.82 L43.00,308.83 L43.50,308.83 L44.00,308.83 L44.50,308.83 L45.00,308.84 L45.50,308.84 L46.00,308.84 L46.50,308.85 L47.00,308.85 L47.50,308.86 L48.00,308.86 L48.50,308.86 L49.00,308.87 L49.50,308.87 L50.00,308.88 L50.50,308.88 L51.00,308.89 L51.50,308.89 L52.00,308.90 L52.50,308.90 L53.00,308.91 L53.50,308.91 L54.00,308.92 L54.50,308.92 L55.00,308.93 L55.50,308.93 L56.00,308.94 L56.50,308.95 L57.00,308.95 L57.50,308.96 L58.00,308.96 L58.50,308.97 L59.00,308.98 L59.50,308.98 L60.00,308.99 L60.50,309.00 L61.00,309.01 L61.50,309.03 L62.00,309.04 L62.50,309.07 L63.00,309.09 L63.50,309.12 L64.00,309.15 L64.50,309.18 L65.00,309.22 L65.50,309.26 L66.00,309.30 L66.50,309.35 L67.00,309.39 L67.50,309.44 L68.00,309.50 L68.50,309.55 L69.00,309.61 L69.50,309.67 L70.00,309.73 L70.50,309.79 L71.00,309.86 L71.50,309.92 L72.00,309.99 L72.50,310.06 L73.00,310.13 L73.50,310.21 L74.00,310.28 L74.50,310.36 L75.00,310.44 L75.50,310.52 L76.00,310.60 L76.50,310.68 L77.00,310.77 L77.50,310.85 L78.00,310.94 L78.50,311.02 L79.00,311.11 L79.50,311.20 L80.00,311.28 L80.50,311.38 L81.00,311.48 L81.50,311.60 L82.00,311.72 L82.50,311.85 L83.00,311.99 L83.50,312.14 L84.00,312.30 L84.50,312.46 L85.00,312.63 L85.50,312.81 L86.00,312.99 L86.50,313.17 L87.00,313.36 L87.50,313.55 L88.00,313.75 L88.50,313.94 L89.00,314.14 L89.50,314.35 L90.00,314.55 L90.50,314.75 L91.00,314.95 L91.50,315.15 L92.00,315.35 L92.50,315.55 L93.00,315.74 L93.50,315.94 L94.00,316.12 L94.50,316.31 L95.00,316.48 L95.50,316.66 L96.00,316.83 L96.50,317.00 L97.00,317.17 L97.50,317.34 L98.00,317.51 L98.50,317.67 L99.00,317.84 L99.50,318.00 L100.00,318.16 L100.50,318.32 L101.00,318.47 L101.50,318.63 L102.00,318.78 L102.50,318.94 L103.00,319.08 L103.50,319.23 L104.00,319.38 L104.50,319.52 L105.00,319.66 L105.50,319.80 L106.00,319.94 L106.50,320.09 L107.00,320.24 L107.50,320.39 L108.00,320.54 L108.50,320.69 L109.00,320.83 L109.50,320.96 L110.00,321.09 L110.50,321.20 L111.00,321.31 L111.50,321.39 L112.00,321.47 L112.50,321.53 L113.00,321.56 L113.50,321.58 L114.00,321.58 L114.50,321.56 L115.00,321.51 L115.50,321.44 L116.00,321.36 L116.50,321.27 L117.00,321.16 L117.50,321.04 L118.00,320.91 L118.50,320.76 L119.00,320.60 L119.50,320.43 L120.00,320.25 L120.50,320.06 L121.00,319.86 L121.50,319.65 L122.00,319.43 L122.50,319.20 L123.00,318.97 L123.50,318.73 L124.00,318.48 L124.50,318.22 L125.00,317.96 L125.50,317.70 L126.00,317.44 L126.50,317.17 L127.00,316.91 L127.50,316.65 L128.00,316.39 L128.50,316.14 L129.00,315.89 L129.50,315.65 L130.00,315.42 L130.50,315.19 L131.00,314.98 L131.50,314.78 L132.00,314.58 L132.50,314.40 L133.00,314.24 L133.50,314.09 L134.00,313.95 L134.50,313.83 L135.00,313.73 L135.50,313.65 L136.00,313.59 L136.50,313.54 L137.00,313.52 L137.50,313.52 L138.00,313.53 L138.50,313.57 L139.00,313.63 L139.50,313.72 L140.00,313.82 L140.50,313.95 L141.00,314.10 L141.50,314.27 L142.00,314.47 L142.50,314.69 L143.00,314.92 L143.50,315.18 L144.00,315.46 L144.50,315.76 L145.00,316.08 L145.50,316.41 L146.00,316.76 L146.50,317.13 L147.00,317.51 L147.50,317.90 L148.00,318.31 L148.50,318.73 L149.00,319.16 L149.50,319.59 L150.00,320.04 L150.50,320.49 L151.00,320.95 L151.50,321.41 L152.00,321.87 L152.50,322.34 L153.00,322.81 L153.50,323.27 L154.00,323.74 L154.50,324.20 L155.00,324.66 L155.50,325.12 L156.00,325.57 L156.50,326.01 L157.00,326.45 L157.50,326.88 L158.00,327.30 L158.50,327.72 L159.00,328.13 L159.50,328.53 L160.00,328.92 L160.50,329.31 L161.00,329.69 L161.50,330.05 L162.00,330.41 L162.50,330.76 L163.00,331.10 L163.50,331.44 L164.00,331.76 L164.50,332.08 L165.00,332.38 L165.50,332.68 L166.00,332.97 L166.50,333.26 L167.00,333.53 L167.50,333.80 L168.00,334.07 L168.50,334.33 L169.00,334.58 L169.50,334.82 L170.00,335.06 L170.50,335.31 L171.00,335.58 L171.50,335.87 L172.00,336.17 L172.50,336.48 L173.00,336.81 L173.50,337.14 L174.00,337.47 L174.50,337.81 L175.00,338.15 L175.50,338.49 L176.00,338.83 L176.50,339.16 L177.00,339.48 L177.50,339.79 L178.00,340.09 L178.50,340.37 L179.00,340.64 L179.50,340.88 L180.00,341.11 L180.50,341.31 L181.00,341.50 L181.50,341.68 L182.00,341.85 L182.50,342.01 L183.00,342.16 L183.50,342.31 L184.00,342.45 L184.50,342.59 L185.00,342.73 L185.50,342.87 L186.00,343.01 L186.50,343.15 L187.00,343.30 L187.50,343.45 L188.00,343.61 L188.50,343.78 L189.00,343.96 L189.50,344.16 L190.00,344.36 L190.50,344.59 L191.00,344.86 L191.50,345.15 L192.00,345.48 L192.50,345.83 L193.00,346.21 L193.50,346.60 L194.00,347.01 L194.50,347.43 L195.00,347.87 L195.50,348.31 L196.00,348.76 L196.50,349.21 L197.00,349.65 L197.50,350.10 L198.00,350.53 L198.50,350.96 L199.00,351.37 L199.50,351.76 L200.00,352.13 L200.50,352.50 L201.00,352.86 L201.50,353.22 L202.00,353.59 L202.50,353.95 L203.00,354.30 L203.50,354.66 L204.00,355.02 L204.50,355.37 L205.00,355.72 L205.50,356.07 L206.00,356.41 L206.50,356.75 L207.00,357.08 L207.50,357.41 L208.00,357.74 L208.50,358.06 L209.00,358.37 L209.50,358.68 L210.00,358.98 L210.50,359.28 L211.00,359.58 L211.50,359.87 L212.00,360.16 L212.50,360.45 L213.00,360.74 L213.50,361.03 L214.00,361.31 L214.50,361.58 L215.00,361.86 L215.50,362.13 L216.00,362.39 L216.50,362.65 L217.00,362.90 L217.50,363.15 L218.00,363.39 L218.50,363.62 L219.00,363.85 L219.50,364.07 L220.00,364.29 L220.50,364.50 L221.00,364.71 L221.50,364.92 L222.00,365.13 L222.50,365.34 L223.00,365.54 L223.50,365.75 L224.00,365.95 L224.50,366.16 L225.00,366.35 L225.50,366.55 L226.00,366.74 L226.50,366.94 L227.00,367.12 L227.50,367.31 L228.00,367.48 L228.50,367.66 L229.00,367.83 L229.50,367.99 L230.00,368.15 L230.50,368.31 L231.00,368.45 L231.50,368.59 L232.00,368.73 L232.50,368.86 L233.00,368.98 L233.50,369.09 L234.00,369.20 L234.50,369.29 L235.00,369.38 L235.50,369.47 L236.00,369.55 L236.50,369.62 L237.00,369.69 L237.50,369.76 L238.00,369.82 L238.50,369.88 L239.00,369.94 L239.50,369.99 L240.00,370.04 L240.50,370.09 L241.00,370.14 L241.50,370.19 L242.00,370.24 L242.50,370.28 L243.00,370.33 L243.50,370.37 L244.00,370.42 L244.50,370.46 L245.00,370.51 L245.50,370.56 L246.00,370.61 L246.50,370.66 L247.00,370.71 L247.50,370.77 L248.00,370.83 L248.50,370.89 L249.00,370.95 L249.50,371.02 L250.00,371.09 L250.50,371.17 L251.00,371.24 L251.50,371.32 L252.00,371.40 L252.50,371.48 L253.00,371.57 L253.50,371.66 L254.00,371.74 L254.50,371.83 L255.00,371.92 L255.50,372.02 L256.00,372.11 L256.50,372.21 L257.00,372.31 L257.50,372.41 L258.00,372.51 L258.50,372.62 L259.00,372.72 L259.50,372.83 L260.00,372.94 L260.50,373.05 L261.00,373.16 L261.50,373.27 L262.00,373.39 L262.50,373.51 L263.00,373.62 L263.50,373.74 L264.00,373.87 L264.50,373.99 L265.00,374.11 L265.50,374.24 L266.00,374.37 L266.50,374.49 L267.00,374.62 L267.50,374.76 L268.00,374.89 L268.50,375.02 L269.00,375.16 L269.50,375.29 L270.00,375.43 L270.50,375.57" fill="none" stroke="#ff0000" stroke-width="2.7" stroke-linejoin="round" stroke-linecap="round" />
<path d="M31.00,308.69 L31.50,308.69 L32.00,308.69 L32.50,308.68 L33.00,308.68 L33.50,308.68 L34.00,308.68 L34.50,308.69 L35.00,308.69 L35.50,308.69 L36.00,308.69 L36.50,308.69 L37.00,308.69 L37.50,308.69 L38.00,308.69 L38.50,308.69 L39.00,308.69 L39.50,308.69 L40.00,308.69 L40.50,308.70 L41.00,308.70 L41.50,308.70 L42.00,308.70 L42.50,308.70 L43.00,308.71 L43.50,308.71 L44.00,308.71 L44.50,308.71 L45.00,308.72 L45.50,308.72 L46.00,308.72 L46.50,308.72 L47.00,308.73 L47.50,308.73 L48.00,308.73 L48.50,308.74 L49.00,308.74 L49.50,308.74 L50.00,308.75 L50.50,308.75 L51.00,308.76 L51.50,308.76 L52.00,308.76 L52.50,308.77 L53.00,308.77 L53.50,308.78 L54.00,308.78 L54.50,308.79 L55.00,308.79 L55.50,308.80 L56.00,308.80 L56.50,308.81 L57.00,308.81 L57.50,308.82 L58.00,308.82 L58.50,308.83 L59.00,308.83 L59.50,308.84 L60.00,308.85 L60.50,308.85 L61.00,308.86 L61.50,308.88 L62.00,308.90 L62.50,308.92 L63.00,308.94 L63.50,308.97 L64.00,309.00 L64.50,309.03 L65.00,309.07 L65.50,309.11 L66.00,309.15 L66.50,309.19 L67.00,309.24 L67.50,309.29 L68.00,309.34 L68.50,309.39 L69.00,309.45 L69.50,309.50 L70.00,309.56 L70.50,309.63 L71.00,309.69 L71.50,309.76 L72.00,309.83 L72.50,309.90 L73.00,309.97 L73.50,310.04 L74.00,310.11 L74.50,310.19 L75.00,310.27 L75.50,310.35 L76.00,310.43 L76.50,310.51 L77.00,310.59 L77.50,310.68 L78.00,310.76 L78.50,310.85 L79.00,310.93 L79.50,311.02 L80.00,311.11 L80.50,311.20 L81.00,311.31 L81.50,311.42 L82.00,311.54 L82.50,311.68 L83.00,311.82 L83.50,311.97 L84.00,312.13 L84.50,312.29 L85.00,312.46 L85.50,312.64 L86.00,312.82 L86.50,313.01 L87.00,313.20 L87.50,313.40 L88.00,313.60 L88.50,313.80 L89.00,314.01 L89.50,314.21 L90.00,314.42 L90.50,314.63 L91.00,314.85 L91.50,315.06 L92.00,315.27 L92.50,315.48 L93.00,315.69 L93.50,315.90 L94.00,316.10 L94.50,316.30 L95.00,316.50 L95.50,316.70 L96.00,316.90 L96.50,317.10 L97.00,317.30 L97.50,317.50 L98.00,317.71 L98.50,317.91 L99.00,318.12 L99.50,318.33 L100.00,318.54 L100.50,318.76 L101.00,318.97 L101.50,319.19 L102.00,319.41 L102.50,319.64 L103.00,319.87 L103.50,320.10 L104.00,320.34 L104.50,320.58 L105.00,320.82 L105.50,321.07 L106.00,321.33 L106.50,321.61 L107.00,321.89 L107.50,322.18 L108.00,322.48 L108.50,322.78 L109.00,323.09 L109.50,323.39 L110.00,323.70 L110.50,324.01 L111.00,324.31 L111.50,324.61 L112.00,324.91 L112.50,325.19 L113.00,325.47 L113.50,325.74 L114.00,326.00 L114.50,326.24 L115.00,326.48 L115.50,326.70 L116.00,326.91 L116.50,327.13 L117.00,327.34 L117.50,327.55 L118.00,327.75 L118.50,327.95 L119.00,328.14 L119.50,328.33 L120.00,328.52 L120.50,328.70 L121.00,328.88 L121.50,329.06 L122.00,329.23 L122.50,329.39 L123.00,329.55 L123.50,329.71 L124.00,329.86 L124.50,330.01 L125.00,330.16 L125.50,330.30 L126.00,330.43 L126.50,330.57 L127.00,330.70 L127.50,330.83 L128.00,330.96 L128.50,331.08 L129.00,331.20 L129.50,331.32 L130.00,331.44 L130.50,331.55 L131.00,331.67 L131.50,331.78 L132.00,331.89 L132.50,332.00 L133.00,332.11 L133.50,332.21 L134.00,332.31 L134.50,332.42 L135.00,332.52 L135.50,332.62 L136.00,332.72 L136.50,332.82 L137.00,332.92 L137.50,333.01 L138.00,333.11 L138.50,333.20 L139.00,333.30 L139.50,333.39 L140.00,333.49 L140.50,333.58 L141.00,333.68 L141.50,333.78 L142.00,333.87 L142.50,333.97 L143.00,334.07 L143.50,334.16 L144.00,334.26 L144.50,334.36 L145.00,334.45 L145.50,334.55 L146.00,334.64 L146.50,334.73 L147.00,334.82 L147.50,334.91 L148.00,335.00 L148.50,335.08 L149.00,335.17 L149.50,335.25 L150.00,335.32 L150.50,335.40 L151.00,335.47 L151.50,335.54 L152.00,335.61 L152.50,335.67 L153.00,335.73 L153.50,335.78 L154.00,335.83 L154.50,335.88 L155.00,335.92 L155.50,335.96 L156.00,336.00 L156.50,336.03 L157.00,336.06 L157.50,336.08 L158.00,336.10 L158.50,336.12 L159.00,336.14 L159.50,336.16 L160.00,336.17 L160.50,336.19 L161.00,336.20 L161.50,336.21 L162.00,336.22 L162.50,336.23 L163.00,336.24 L163.50,336.25 L164.00,336.27 L164.50,336.28 L165.00,336.29 L165.50,336.31 L166.00,336.33 L166.50,336.35 L167.00,336.37 L167.50,336.39 L168.00,336.42 L168.50,336.45 L169.00,336.48 L169.50,336.52 L170.00,336.56 L170.50,336.62 L171.00,336.71 L171.50,336.82 L172.00,336.95 L172.50,337.10 L173.00,337.27 L173.50,337.46 L174.00,337.66 L174.50,337.86 L175.00,338.08 L175.50,338.30 L176.00,338.52 L176.50,338.73 L177.00,338.95 L177.50,339.16 L178.00,339.36 L178.50,339.55 L179.00,339.73 L179.50,339.89 L180.00,340.03 L180.50,340.16 L181.00,340.27 L181.50,340.38 L182.00,340.48 L182.50,340.57 L183.00,340.65 L183.50,340.73 L184.00,340.81 L184.50,340.88 L185.00,340.95 L185.50,341.03 L186.00,341.11 L186.50,341.19 L187.00,341.27 L187.50,341.36 L188.00,341.46 L188.50,341.56 L189.00,341.68 L189.50,341.80 L190.00,341.94 L190.50,342.10 L191.00,342.30 L191.50,342.53 L192.00,342.78 L192.50,343.05 L193.00,343.35 L193.50,343.66 L194.00,343.99 L194.50,344.33 L195.00,344.67 L195.50,345.02 L196.00,345.37 L196.50,345.72 L197.00,346.06 L197.50,346.39 L198.00,346.71 L198.50,347.01 L199.00,347.30 L199.50,347.56 L200.00,347.80 L200.50,348.01 L201.00,348.22 L201.50,348.43 L202.00,348.62 L202.50,348.81 L203.00,348.98 L203.50,349.14 L204.00,349.30 L204.50,349.44 L205.00,349.56 L205.50,349.67 L206.00,349.77 L206.50,349.85 L207.00,349.91 L207.50,349.96 L208.00,349.98 L208.50,349.99 L209.00,349.98 L209.50,349.94 L210.00,349.89 L210.50,349.81 L211.00,349.72 L211.50,349.61 L212.00,349.48 L212.50,349.32 L213.00,349.15 L213.50,348.96 L214.00,348.74 L214.50,348.51 L215.00,348.25 L215.50,347.97 L216.00,347.66 L216.50,347.34 L217.00,346.99 L217.50,346.63 L218.00,346.24 L218.50,345.83 L219.00,345.41 L219.50,344.97 L220.00,344.52 L220.50,344.06 L221.00,343.61 L221.50,343.15 L222.00,342.71 L222.50,342.27 L223.00,341.85 L223.50,341.46 L224.00,341.09 L224.50,340.75 L225.00,340.46 L225.50,340.20 L226.00,340.00 L226.50,339.84 L227.00,339.75 L227.50,339.72 L228.00,339.75 L228.50,339.85 L229.00,340.02 L229.50,340.25 L230.00,340.55 L230.50,340.91 L231.00,341.34 L231.50,341.81 L232.00,342.34 L232.50,342.92 L233.00,343.53 L233.50,344.18 L234.00,344.85 L234.50,345.55 L235.00,346.26 L235.50,346.99 L236.00,347.72 L236.50,348.46 L237.00,349.20 L237.50,349.93 L238.00,350.66 L238.50,351.38 L239.00,352.09 L239.50,352.78 L240.00,353.47 L240.50,354.13 L241.00,354.78 L241.50,355.41 L242.00,356.03 L242.50,356.63 L243.00,357.20 L243.50,357.77 L244.00,358.31 L244.50,358.83 L245.00,359.34 L245.50,359.83 L246.00,360.31 L246.50,360.77 L247.00,361.21 L247.50,361.64 L248.00,362.06 L248.50,362.46 L249.00,362.86 L249.50,363.24 L250.00,363.61 L250.50,363.97 L251.00,364.32 L251.50,364.66 L252.00,364.99 L252.50,365.30 L253.00,365.61 L253.50,365.91 L254.00,366.21 L254.50,366.49 L255.00,366.77 L255.50,367.04 L256.00,367.30 L256.50,367.55 L257.00,367.81 L257.50,368.05 L258.00,368.29 L258.50,368.53 L259.00,368.76 L259.50,368.98 L260.00,369.21 L260.50,369.43 L261.00,369.64 L261.50,369.86 L262.00,370.07 L262.50,370.28 L263.00,370.48 L263.50,370.68 L264.00,370.89 L264.50,371.09 L265.00,371.28 L265.50,371.48 L266.00,371.68 L266.50,371.87 L267.00,372.06 L267.50,372.26 L268.00,372.45 L268.50,372.64 L269.00,372.83 L269.50,373.02 L270.00,373.20 L270.50,373.39" fill="none" stroke="#ff0000" stroke-width="2.7" stroke-linejoin="round" stroke-linecap="round" />
<path d="M31.00,307.20 L31.50,307.18 L32.00,307.16 L32.50,307.14 L33.00,307.12 L33.50,307.09 L34.00,307.07 L34.50,307.05 L35.00,307.02 L35.50,307.00 L36.00,306.97 L36.50,306.95 L37.00,306.92 L37.50,306.90 L38.00,306.87 L38.50,306.84 L39.00,306.82 L39.50,306.79 L40.00,306.76 L40.50,306.73 L41.00,306.70 L41.50,306.67 L42.00,306.64 L42.50,306.61 L43.00,306.57 L43.50,306.54 L44.00,306.51 L44.50,306.47 L45.00,306.44 L45.50,306.40 L46.00,306.36 L46.50,306.32 L47.00,306.28 L47.50,306.24 L48.00,306.20 L48.50,306.16 L49.00,306.11 L49.50,306.07 L50.00,306.02 L50.50,305.97 L51.00,305.92 L51.50,305.87 L52.00,305.82 L52.50,305.76 L53.00,305.70 L53.50,305.64 L54.00,305.58 L54.50,305.51 L55.00,305.45 L55.50,305.38 L56.00,305.30 L56.50,305.23 L57.00,305.15 L57.50,305.06 L58.00,304.98 L58.50,304.89 L59.00,304.79 L59.50,304.69 L60.00,304.58 L60.50,304.47 L61.00,304.36 L61.50,304.25 L62.00,304.13 L62.50,304.01 L63.00,303.88 L63.50,303.75 L64.00,303.61 L64.50,303.47 L65.00,303.32 L65.50,303.17 L66.00,303.00 L66.50,302.83 L67.00,302.65 L67.50,302.45 L68.00,302.25 L68.50,302.04 L69.00,301.81 L69.50,301.57 L70.00,301.31 L70.50,301.05 L71.00,300.76 L71.50,300.46 L72.00,300.14 L72.50,299.81 L73.00,299.45 L73.50,299.08 L74.00,298.68 L74.50,298.26 L75.00,297.82 L75.50,297.36 L76.00,296.87 L76.50,296.36 L77.00,295.83 L77.50,295.26 L78.00,294.68 L78.50,294.06 L79.00,293.42 L79.50,292.75 L80.00,292.05 L80.50,291.32 L81.00,290.58 L81.50,289.82 L82.00,289.04 L82.50,288.24 L83.00,287.42 L83.50,286.57 L84.00,285.71 L84.50,284.83 L85.00,283.93 L85.50,283.01 L86.00,282.06 L86.50,281.11 L87.00,280.13 L87.50,279.14 L88.00,278.13 L88.50,277.11 L89.00,276.08 L89.50,275.04 L90.00,273.99 L90.50,272.93 L91.00,271.88 L91.50,270.82 L92.00,269.77 L92.50,268.73 L93.00,267.70 L93.50,266.68 L94.00,265.69 L94.50,264.72 L95.00,263.78 L95.50,262.88 L96.00,262.02 L96.50,261.22 L97.00,260.47 L97.50,259.79 L98.00,259.18 L98.50,258.65 L99.00,258.19 L99.50,257.82 L100.00,257.55 L100.50,257.37 L101.00,257.28 L101.50,257.30 L102.00,257.42 L102.50,257.65 L103.00,257.98 L103.50,258.42 L104.00,258.95 L104.50,259.59 L105.00,260.32 L105.50,261.16 L106.00,262.08 L106.50,263.10 L107.00,264.20 L107.50,265.38 L108.00,266.63 L108.50,267.94 L109.00,269.30 L109.50,270.71 L110.00,272.16 L110.50,273.64 L111.00,275.15 L111.50,276.68 L112.00,278.22 L112.50,279.76 L113.00,281.31 L113.50,282.85 L114.00,284.38 L114.50,285.89 L115.00,287.38 L115.50,288.86 L116.00,290.32 L116.50,291.76 L117.00,293.18 L117.50,294.58 L118.00,295.96 L118.50,297.31 L119.00,298.63 L119.50,299.93 L120.00,301.19 L120.50,302.43 L121.00,303.63 L121.50,304.80 L122.00,305.94 L122.50,307.04 L123.00,308.11 L123.50,309.15 L124.00,310.16 L124.50,311.13 L125.00,312.06 L125.50,312.97 L126.00,313.84 L126.50,314.68 L127.00,315.49 L127.50,316.27 L128.00,317.02 L128.50,317.75 L129.00,318.44 L129.50,319.11 L130.00,319.75 L130.50,320.36 L131.00,320.95 L131.50,321.52 L132.00,322.06 L132.50,322.58 L133.00,323.08 L133.50,323.56 L134.00,324.02 L134.50,324.46 L135.00,324.88 L135.50,325.29 L136.00,325.67 L136.50,326.05 L137.00,326.41 L137.50,326.75 L138.00,327.08 L138.50,327.40 L139.00,327.71 L139.50,328.00 L140.00,328.29 L140.50,328.57 L141.00,328.84 L141.50,329.10 L142.00,329.35 L142.50,329.60 L143.00,329.84 L143.50,330.07 L144.00,330.30 L144.50,330.52 L145.00,330.73 L145.50,330.94 L146.00,331.15 L146.50,331.34 L147.00,331.53 L147.50,331.72 L148.00,331.90 L148.50,332.08 L149.00,332.25 L149.50,332.41 L150.00,332.57 L150.50,332.72 L151.00,332.87 L151.50,333.01 L152.00,333.15 L152.50,333.28 L153.00,333.41 L153.50,333.53 L154.00,333.65 L154.50,333.76 L155.00,333.86 L155.50,333.96 L156.00,334.05 L156.50,334.14 L157.00,334.23 L157.50,334.31 L158.00,334.38 L158.50,334.46 L159.00,334.53 L159.50,334.59 L160.00,334.66 L160.50,334.72 L161.00,334.78 L161.50,334.84 L162.00,334.90 L162.50,334.96 L163.00,335.02 L163.50,335.08 L164.00,335.14 L164.50,335.20 L165.00,335.26 L165.50,335.32 L166.00,335.38 L166.50,335.44 L167.00,335.51 L167.50,335.58 L168.00,335.65 L168.50,335.72 L169.00,335.80 L169.50,335.88 L170.00,335.96 L170.50,336.07 L171.00,336.19 L171.50,336.35 L172.00,336.52 L172.50,336.72 L173.00,336.93 L173.50,337.16 L174.00,337.40 L174.50,337.65 L175.00,337.91 L175.50,338.17 L176.00,338.44 L176.50,338.70 L177.00,338.96 L177.50,339.22 L178.00,339.46 L178.50,339.70 L179.00,339.92 L179.50,340.13 L180.00,340.32 L180.50,340.49 L181.00,340.66 L181.50,340.81 L182.00,340.96 L182.50,341.10 L183.00,341.24 L183.50,341.37 L184.00,341.50 L184.50,341.63 L185.00,341.76 L185.50,341.89 L186.00,342.02 L186.50,342.16 L187.00,342.31 L187.50,342.46 L188.00,342.62 L188.50,342.79 L189.00,342.97 L189.50,343.16 L190.00,343.37 L190.50,343.61 L191.00,343.88 L191.50,344.18 L192.00,344.51 L192.50,344.87 L193.00,345.25 L193.50,345.65 L194.00,346.06 L194.50,346.50 L195.00,346.94 L195.50,347.39 L196.00,347.84 L196.50,348.30 L197.00,348.75 L197.50,349.20 L198.00,349.64 L198.50,350.08 L199.00,350.50 L199.50,350.90 L200.00,351.28 L200.50,351.65 L201.00,352.02 L201.50,352.39 L202.00,352.76 L202.50,353.13 L203.00,353.49 L203.50,353.86 L204.00,354.22 L204.50,354.58 L205.00,354.94 L205.50,355.29 L206.00,355.64 L206.50,355.99 L207.00,356.33 L207.50,356.67 L208.00,357.00 L208.50,357.32 L209.00,357.65 L209.50,357.96 L210.00,358.27 L210.50,358.57 L211.00,358.88 L211.50,359.18 L212.00,359.48 L212.50,359.77 L213.00,360.07 L213.50,360.36 L214.00,360.64 L214.50,360.93 L215.00,361.20 L215.50,361.48 L216.00,361.75 L216.50,362.01 L217.00,362.27 L217.50,362.52 L218.00,362.77 L218.50,363.01 L219.00,363.24 L219.50,363.47 L220.00,363.69 L220.50,363.90 L221.00,364.12 L221.50,364.33 L222.00,364.55 L222.50,364.76 L223.00,364.97 L223.50,365.18 L224.00,365.39 L224.50,365.60 L225.00,365.80 L225.50,366.00 L226.00,366.20 L226.50,366.40 L227.00,366.59 L227.50,366.77 L228.00,366.96 L228.50,367.14 L229.00,367.31 L229.50,367.48 L230.00,367.64 L230.50,367.80 L231.00,367.95 L231.50,368.09 L232.00,368.23 L232.50,368.37 L233.00,368.49 L233.50,368.61 L234.00,368.72 L234.50,368.82 L235.00,368.91 L235.50,369.00 L236.00,369.08 L236.50,369.16 L237.00,369.23 L237.50,369.30 L238.00,369.37 L238.50,369.43 L239.00,369.49 L239.50,369.55 L240.00,369.60 L240.50,369.66 L241.00,369.71 L241.50,369.76 L242.00,369.81 L242.50,369.86 L243.00,369.90 L243.50,369.95 L244.00,370.00 L244.50,370.05 L245.00,370.10 L245.50,370.15 L246.00,370.20 L246.50,370.26 L247.00,370.31 L247.50,370.37 L248.00,370.43 L248.50,370.50 L249.00,370.56 L249.50,370.63 L250.00,370.71 L250.50,370.79 L251.00,370.86 L251.50,370.95 L252.00,371.03 L252.50,371.11 L253.00,371.20 L253.50,371.29 L254.00,371.38 L254.50,371.47 L255.00,371.57 L255.50,371.66 L256.00,371.76 L256.50,371.86 L257.00,371.96 L257.50,372.06 L258.00,372.17 L258.50,372.27 L259.00,372.38 L259.50,372.49 L260.00,372.60 L260.50,372.71 L261.00,372.83 L261.50,372.94 L262.00,373.06 L262.50,373.18 L263.00,373.30 L263.50,373.42 L264.00,373.55 L264.50,373.67 L265.00,373.80 L265.50,373.92 L266.00,374.05 L266.50,374.18 L267.00,374.32 L267.50,374.45 L268.00,374.58 L268.50,374.72 L269.00,374.86 L269.50,374.99 L270.00,375.13 L270.50,375.27" fill="none" stroke="#ff00ff" stroke-width="2.7" stroke-linejoin="round" stroke-linecap="round" />
<path d="M31.00,308.56 L31.50,308.56 L32.00,308.56 L32.50,308.56 L33.00,308.56 L33.50,308.56 L34.00,308.56 L34.50,308.56 L35.00,308.56 L35.50,308.56 L36.00,308.56 L36.50,308.56 L37.00,308.56 L37.50,308.56 L38.00,308.56 L38.50,308.56 L39.00,308.56 L39.50,308.56 L40.00,308.56 L40.50,308.56 L41.00,308.56 L41.50,308.56 L42.00,308.56 L42.50,308.56 L43.00,308.56 L43.50,308.56 L44.00,308.56 L44.50,308.56 L45.00,308.57 L45.50,308.57 L46.00,308.57 L46.50,308.57 L47.00,308.57 L47.50,308.57 L48.00,308.58 L48.50,308.58 L49.00,308.58 L49.50,308.58 L50.00,308.59 L50.50,308.59 L51.00,308.59 L51.50,308.59 L52.00,308.60 L52.50,308.60 L53.00,308.60 L53.50,308.61 L54.00,308.61 L54.50,308.61 L55.00,308.62 L55.50,308.62 L56.00,308.62 L56.50,308.63 L57.00,308.63 L57.50,308.63 L58.00,308.64 L58.50,308.64 L59.00,308.65 L59.50,308.65 L60.00,308.65 L60.50,308.66 L61.00,308.67 L61.50,308.68 L62.00,308.70 L62.50,308.72 L63.00,308.74 L63.50,308.77 L64.00,308.79 L64.50,308.82 L65.00,308.86 L65.50,308.90 L66.00,308.93 L66.50,308.98 L67.00,309.02 L67.50,309.07 L68.00,309.12 L68.50,309.17 L69.00,309.22 L69.50,309.28 L70.00,309.34 L70.50,309.40 L71.00,309.46 L71.50,309.52 L72.00,309.59 L72.50,309.66 L73.00,309.73 L73.50,309.80 L74.00,309.87 L74.50,309.94 L75.00,310.02 L75.50,310.09 L76.00,310.17 L76.50,310.25 L77.00,310.33 L77.50,310.41 L78.00,310.49 L78.50,310.58 L79.00,310.66 L79.50,310.75 L80.00,310.83 L80.50,310.92 L81.00,311.02 L81.50,311.13 L82.00,311.26 L82.50,311.39 L83.00,311.52 L83.50,311.67 L84.00,311.83 L84.50,311.99 L85.00,312.15 L85.50,312.33 L86.00,312.51 L86.50,312.69 L87.00,312.88 L87.50,313.07 L88.00,313.27 L88.50,313.47 L89.00,313.67 L89.50,313.88 L90.00,314.08 L90.50,314.29 L91.00,314.50 L91.50,314.70 L92.00,314.91 L92.50,315.12 L93.00,315.32 L93.50,315.53 L94.00,315.73 L94.50,315.93 L95.00,316.12 L95.50,316.31 L96.00,316.51 L96.50,316.70 L97.00,316.90 L97.50,317.10 L98.00,317.30 L98.50,317.50 L99.00,317.70 L99.50,317.91 L100.00,318.11 L100.50,318.32 L101.00,318.53 L101.50,318.75 L102.00,318.96 L102.50,319.18 L103.00,319.41 L103.50,319.63 L104.00,319.86 L104.50,320.10 L105.00,320.33 L105.50,320.58 L106.00,320.83 L106.50,321.10 L107.00,321.38 L107.50,321.66 L108.00,321.95 L108.50,322.25 L109.00,322.55 L109.50,322.85 L110.00,323.15 L110.50,323.45 L111.00,323.74 L111.50,324.04 L112.00,324.32 L112.50,324.60 L113.00,324.87 L113.50,325.13 L114.00,325.38 L114.50,325.62 L115.00,325.84 L115.50,326.05 L116.00,326.26 L116.50,326.47 L117.00,326.67 L117.50,326.86 L118.00,327.06 L118.50,327.25 L119.00,327.43 L119.50,327.61 L120.00,327.79 L120.50,327.96 L121.00,328.12 L121.50,328.29 L122.00,328.45 L122.50,328.60 L123.00,328.75 L123.50,328.89 L124.00,329.03 L124.50,329.17 L125.00,329.30 L125.50,329.43 L126.00,329.55 L126.50,329.67 L127.00,329.78 L127.50,329.90 L128.00,330.01 L128.50,330.12 L129.00,330.22 L129.50,330.33 L130.00,330.42 L130.50,330.52 L131.00,330.62 L131.50,330.71 L132.00,330.80 L132.50,330.89 L133.00,330.97 L133.50,331.06 L134.00,331.14 L134.50,331.22 L135.00,331.29 L135.50,331.37 L136.00,331.44 L136.50,331.51 L137.00,331.58 L137.50,331.64 L138.00,331.71 L138.50,331.77 L139.00,331.83 L139.50,331.89 L140.00,331.94 L140.50,332.00 L141.00,332.05 L141.50,332.10 L142.00,332.15 L142.50,332.19 L143.00,332.24 L143.50,332.28 L144.00,332.31 L144.50,332.34 L145.00,332.37 L145.50,332.39 L146.00,332.40 L146.50,332.41 L147.00,332.41 L147.50,332.40 L148.00,332.38 L148.50,332.36 L149.00,332.32 L149.50,332.28 L150.00,332.22 L150.50,332.15 L151.00,332.07 L151.50,331.97 L152.00,331.86 L152.50,331.74 L153.00,331.60 L153.50,331.44 L154.00,331.26 L154.50,331.06 L155.00,330.84 L155.50,330.60 L156.00,330.34 L156.50,330.06 L157.00,329.75 L157.50,329.42 L158.00,329.06 L158.50,328.68 L159.00,328.27 L159.50,327.84 L160.00,327.37 L160.50,326.88 L161.00,326.36 L161.50,325.81 L162.00,325.23 L162.50,324.62 L163.00,323.97 L163.50,323.30 L164.00,322.59 L164.50,321.84 L165.00,321.07 L165.50,320.26 L166.00,319.41 L166.50,318.53 L167.00,317.61 L167.50,316.66 L168.00,315.67 L168.50,314.65 L169.00,313.60 L169.50,312.51 L170.00,311.39 L170.50,310.24 L171.00,309.09 L171.50,307.93 L172.00,306.75 L172.50,305.57 L173.00,304.36 L173.50,303.14 L174.00,301.91 L174.50,300.65 L175.00,299.38 L175.50,298.09 L176.00,296.78 L176.50,295.45 L177.00,294.10 L177.50,292.73 L178.00,291.35 L178.50,289.94 L179.00,288.52 L179.50,287.08 L180.00,285.63 L180.50,284.17 L181.00,282.72 L181.50,281.27 L182.00,279.83 L182.50,278.41 L183.00,277.01 L183.50,275.65 L184.00,274.32 L184.50,273.04 L185.00,271.81 L185.50,270.63 L186.00,269.52 L186.50,268.47 L187.00,267.50 L187.50,266.62 L188.00,265.82 L188.50,265.11 L189.00,264.51 L189.50,264.00 L190.00,263.61 L190.50,263.34 L191.00,263.21 L191.50,263.22 L192.00,263.35 L192.50,263.62 L193.00,264.02 L193.50,264.55 L194.00,265.19 L194.50,265.96 L195.00,266.84 L195.50,267.82 L196.00,268.91 L196.50,270.09 L197.00,271.36 L197.50,272.71 L198.00,274.14 L198.50,275.63 L199.00,277.18 L199.50,278.77 L200.00,280.42 L200.50,282.10 L201.00,283.84 L201.50,285.63 L202.00,287.45 L202.50,289.31 L203.00,291.20 L203.50,293.12 L204.00,295.05 L204.50,297.00 L205.00,298.97 L205.50,300.93 L206.00,302.90 L206.50,304.87 L207.00,306.83 L207.50,308.78 L208.00,310.71 L208.50,312.63 L209.00,314.53 L209.50,316.40 L210.00,318.24 L210.50,320.06 L211.00,321.86 L211.50,323.62 L212.00,325.35 L212.50,327.05 L213.00,328.71 L213.50,330.34 L214.00,331.93 L214.50,333.48 L215.00,334.99 L215.50,336.46 L216.00,337.88 L216.50,339.27 L217.00,340.60 L217.50,341.90 L218.00,343.15 L218.50,344.36 L219.00,345.52 L219.50,346.64 L220.00,347.71 L220.50,348.74 L221.00,349.74 L221.50,350.70 L222.00,351.62 L222.50,352.52 L223.00,353.37 L223.50,354.20 L224.00,354.99 L224.50,355.75 L225.00,356.48 L225.50,357.18 L226.00,357.84 L226.50,358.48 L227.00,359.09 L227.50,359.68 L228.00,360.23 L228.50,360.76 L229.00,361.27 L229.50,361.74 L230.00,362.20 L230.50,362.63 L231.00,363.04 L231.50,363.43 L232.00,363.79 L232.50,364.14 L233.00,364.46 L233.50,364.77 L234.00,365.05 L234.50,365.31 L235.00,365.56 L235.50,365.79 L236.00,366.01 L236.50,366.21 L237.00,366.40 L237.50,366.58 L238.00,366.75 L238.50,366.91 L239.00,367.06 L239.50,367.21 L240.00,367.34 L240.50,367.47 L241.00,367.59 L241.50,367.71 L242.00,367.82 L242.50,367.93 L243.00,368.04 L243.50,368.14 L244.00,368.24 L244.50,368.33 L245.00,368.43 L245.50,368.52 L246.00,368.61 L246.50,368.71 L247.00,368.80 L247.50,368.89 L248.00,368.99 L248.50,369.08 L249.00,369.18 L249.50,369.28 L250.00,369.39 L250.50,369.49 L251.00,369.60 L251.50,369.70 L252.00,369.81 L252.50,369.92 L253.00,370.03 L253.50,370.14 L254.00,370.25 L254.50,370.37 L255.00,370.48 L255.50,370.60 L256.00,370.71 L256.50,370.83 L257.00,370.95 L257.50,371.07 L258.00,371.19 L258.50,371.32 L259.00,371.44 L259.50,371.57 L260.00,371.69 L260.50,371.82 L261.00,371.95 L261.50,372.08 L262.00,372.21 L262.50,372.34 L263.00,372.48 L263.50,372.61 L264.00,372.75 L264.50,372.89 L265.00,373.03 L265.50,373.17 L266.00,373.31 L266.50,373.45 L267.00,373.59 L267.50,373.74 L268.00,373.88 L268.50,374.03 L269.00,374.18 L269.50,374.32 L270.00,374.47 L270.50,374.63" fill="none" stroke="#ff00ff" stroke-width="2.7" stroke-linejoin="round" stroke-linecap="round" />
<line x1="101.50" y1="241.60" x2="101.50" y2="284.80" stroke="#ff00ff" stroke-width="1.1" stroke-dasharray="2.5,1.5"/>
<line x1="190.60" y1="246.70" x2="190.60" y2="286.20" stroke="#ff00ff" stroke-width="1.1" stroke-dasharray="2.5,1.5"/>
<line x1="139.50" y1="307.00" x2="139.50" y2="348.20" stroke="#ff0000" stroke-width="1.1" stroke-dasharray="2.5,1.5"/>
<line x1="230.30" y1="332.90" x2="230.30" y2="372.20" stroke="#ff0000" stroke-width="1.1" stroke-dasharray="2.5,1.5"/>
<text x="0" y="0" transform="translate(48.90,245.70) scale(1.04,1)" font-size="12" font-weight="bold" fill="#ff00ff">Pt<tspan font-size="8" dy="-4.5">2+</tspan><tspan dy="4.5"> 4f</tspan><tspan font-size="8.5" dy="3.0">5/2</tspan></text>
<text x="0" y="0" transform="translate(198.90,256.60) scale(1.04,1)" font-size="12" font-weight="bold" fill="#ff00ff">Pt<tspan font-size="8" dy="-4.5">2+</tspan><tspan dy="4.5"> 4f</tspan><tspan font-size="8.5" dy="3.0">7/2</tspan></text>
<text x="0" y="0" transform="translate(107.60,363.20) scale(1.04,1)" font-size="12" font-weight="bold" fill="#ff0000">Pt<tspan font-size="8" dy="-4.5">0</tspan><tspan dy="4.5"> 4f</tspan><tspan font-size="8.5" dy="3.0">5/2</tspan></text>
<text x="0" y="0" transform="translate(199.50,388.50) scale(1.04,1)" font-size="12" font-weight="bold" fill="#ff0000">Pt<tspan font-size="8" dy="-4.5">0</tspan><tspan dy="4.5"> 4f</tspan><tspan font-size="8.5" dy="3.0">7/2</tspan></text>
<rect x="305.5" y="224" width="239.0" height="176" fill="none" stroke="#000" stroke-width="2"/>
<line x1="525.74" y1="400.00" x2="525.74" y2="403.00" stroke="#000" stroke-width="1.6" />
<line x1="500.96" y1="400.00" x2="500.96" y2="403.00" stroke="#000" stroke-width="1.6" />
<line x1="476.18" y1="400.00" x2="476.18" y2="403.00" stroke="#000" stroke-width="1.6" />
<line x1="451.40" y1="400.00" x2="451.40" y2="403.00" stroke="#000" stroke-width="1.6" />
<line x1="426.62" y1="400.00" x2="426.62" y2="403.00" stroke="#000" stroke-width="1.6" />
<line x1="401.84" y1="400.00" x2="401.84" y2="403.00" stroke="#000" stroke-width="1.6" />
<line x1="377.06" y1="400.00" x2="377.06" y2="403.00" stroke="#000" stroke-width="1.6" />
<line x1="352.28" y1="400.00" x2="352.28" y2="403.00" stroke="#000" stroke-width="1.6" />
<line x1="327.50" y1="400.00" x2="327.50" y2="403.00" stroke="#000" stroke-width="1.6" />
<line x1="538.13" y1="400.00" x2="538.13" y2="402.00" stroke="#000" stroke-width="1.4" />
<line x1="513.35" y1="400.00" x2="513.35" y2="402.00" stroke="#000" stroke-width="1.4" />
<line x1="488.57" y1="400.00" x2="488.57" y2="402.00" stroke="#000" stroke-width="1.4" />
<line x1="463.79" y1="400.00" x2="463.79" y2="402.00" stroke="#000" stroke-width="1.4" />
<line x1="439.01" y1="400.00" x2="439.01" y2="402.00" stroke="#000" stroke-width="1.4" />
<line x1="414.23" y1="400.00" x2="414.23" y2="402.00" stroke="#000" stroke-width="1.4" />
<line x1="389.45" y1="400.00" x2="389.45" y2="402.00" stroke="#000" stroke-width="1.4" />
<line x1="364.67" y1="400.00" x2="364.67" y2="402.00" stroke="#000" stroke-width="1.4" />
<line x1="339.89" y1="400.00" x2="339.89" y2="402.00" stroke="#000" stroke-width="1.4" />
<line x1="315.11" y1="400.00" x2="315.11" y2="402.00" stroke="#000" stroke-width="1.4" />
<text x="0" y="0" transform="translate(525.74,413.00) scale(1.0,1)" font-size="10" font-weight="bold" fill="#000" text-anchor="middle" >638</text>
<text x="0" y="0" transform="translate(500.96,413.00) scale(1.0,1)" font-size="10" font-weight="bold" fill="#000" text-anchor="middle" >640</text>
<text x="0" y="0" transform="translate(476.18,413.00) scale(1.0,1)" font-size="10" font-weight="bold" fill="#000" text-anchor="middle" >642</text>
<text x="0" y="0" transform="translate(451.40,413.00) scale(1.0,1)" font-size="10" font-weight="bold" fill="#000" text-anchor="middle" >644</text>
<text x="0" y="0" transform="translate(426.62,413.00) scale(1.0,1)" font-size="10" font-weight="bold" fill="#000" text-anchor="middle" >646</text>
<text x="0" y="0" transform="translate(401.84,413.00) scale(1.0,1)" font-size="10" font-weight="bold" fill="#000" text-anchor="middle" >648</text>
<text x="0" y="0" transform="translate(377.06,413.00) scale(1.0,1)" font-size="10" font-weight="bold" fill="#000" text-anchor="middle" >650</text>
<text x="0" y="0" transform="translate(352.28,413.00) scale(1.0,1)" font-size="10" font-weight="bold" fill="#000" text-anchor="middle" >652</text>
<text x="0" y="0" transform="translate(327.50,413.00) scale(1.0,1)" font-size="10" font-weight="bold" fill="#000" text-anchor="middle" >654</text>
<text x="0" y="0" transform="translate(424.40,428.70) scale(1.07,1)" font-size="12.3" font-weight="bold" fill="#000" text-anchor="middle" >Binding Energy (eV)</text>
<text x="0" y="0" font-size="12" font-weight="bold" text-anchor="middle" transform="translate(293.00,307.20) rotate(-90) scale(1.1,1)">Intensity (a.u.)</text>
<text x="0" y="0" transform="translate(280.00,244.00) scale(1.0,1)" font-size="25.5" font-weight="normal" fill="#000" text-anchor="start" stroke="#000" stroke-width="0.5">d</text>
<path d="M306.50,319.05 L307.70,387.50 L309.10,318.30 L310.50,343.24 L311.30,341.90 L312.10,328.07 L312.90,314.46 L313.90,367.70 L315.30,332.64 L316.10,338.30 L316.90,337.51 L318.10,298.30 L319.30,309.66 L320.10,307.38 L320.90,333.15 L322.00,364.30 L322.90,315.50 L324.10,330.05 L324.90,329.48 L325.70,329.04 L326.50,318.70 L327.30,315.27 L328.90,356.80 L329.70,328.99 L330.50,313.33 L331.90,292.80 L332.90,304.91 L333.70,299.18 L334.50,318.88 L335.30,319.64 L336.10,311.77 L336.90,316.29 L337.80,301.00 L339.30,321.68 L340.10,328.42 L340.90,333.35 L341.70,320.77 L343.30,282.70 L344.10,288.85 L345.70,355.20 L346.50,328.69 L347.30,294.74 L348.90,285.20 L349.70,314.94 L350.50,294.32 L351.30,318.25 L352.10,306.19 L352.90,322.62 L354.00,303.10 L355.30,328.76 L356.10,321.71 L356.90,330.17 L357.70,303.42 L358.50,321.08 L360.00,305.20 L360.20,353.10 L361.70,335.67 L362.50,329.46 L363.70,318.00 L364.90,338.91 L365.70,335.83 L366.50,318.71 L367.60,359.50 L368.80,319.00 L369.70,345.65 L370.50,323.94 L371.30,367.14 L372.90,293.20 L374.20,377.00 L375.30,329.85 L376.20,312.50 L377.70,349.07 L378.80,372.40 L380.10,338.17 L380.90,353.37 L381.70,328.49 L382.50,354.10 L383.90,314.40 L384.10,314.40 L385.00,364.10 L386.50,336.03 L387.40,301.00 L387.60,300.60 L388.90,358.13 L389.70,347.87 L390.60,368.70 L392.10,340.03 L392.90,325.24 L393.70,349.97 L394.90,311.60 L396.10,312.10 L396.90,345.00 L398.50,365.00 L399.30,363.63 L400.10,331.28 L400.90,346.14 L402.50,380.70 L403.30,345.24 L404.40,309.30 L405.10,308.90 L406.50,341.43 L407.40,304.30 L408.90,354.00 L409.70,340.01 L411.10,301.50 L411.70,303.80 L412.90,339.34 L414.50,308.40 L414.80,307.90 L416.10,326.59 L416.90,319.86 L418.20,307.00 L418.90,305.20 L420.00,354.90 L420.90,329.38 L421.70,345.09 L422.50,359.74 L423.30,351.11 L424.40,287.70 L425.70,352.07 L426.50,347.57 L427.30,346.22 L428.20,350.30 L429.70,337.68 L430.80,313.40 L432.10,346.78 L432.90,362.70 L433.70,328.96 L434.50,322.98 L435.40,307.90 L437.40,358.60 L439.10,305.20 L440.10,364.34 L440.90,336.68 L441.70,348.06 L442.90,361.50 L444.10,345.61 L444.90,313.08 L446.40,303.50 L447.30,335.52 L448.10,334.94 L448.90,331.22 L449.70,333.51 L450.50,328.68 L451.30,311.46 L452.90,291.50 L453.70,319.97 L454.50,326.21 L455.30,325.27 L456.10,323.66 L457.30,278.40 L458.50,311.62 L459.30,316.49 L460.10,294.03 L460.90,312.80 L461.70,311.04 L462.70,282.70 L464.10,290.50 L464.90,264.64 L465.70,277.10 L466.50,293.94 L467.30,297.37 L468.20,280.50 L469.70,306.21 L470.50,270.21 L471.30,286.06 L472.10,296.26 L473.60,287.10 L474.50,283.21 L475.30,253.73 L476.90,278.40 L477.70,298.65 L478.50,314.26 L479.30,301.89 L480.20,270.70 L481.70,271.35 L482.50,279.50 L483.50,253.30 L484.90,289.76 L485.70,311.89 L486.70,269.60 L488.10,296.41 L488.90,288.62 L489.70,304.84 L490.50,286.52 L491.30,303.69 L492.20,277.30 L493.70,281.47 L494.50,286.52 L495.50,268.50 L496.90,309.17 L497.70,310.77 L498.50,312.45 L499.40,288.20 L500.90,315.12 L501.70,283.02 L502.50,302.53 L503.30,305.83 L504.10,308.60 L505.30,263.10 L506.50,327.13 L507.30,316.67 L508.10,328.92 L509.70,356.70 L510.70,287.10 L512.10,327.43 L512.90,321.18 L513.70,328.74 L514.50,333.99 L515.30,341.11 L516.20,301.30 L516.40,371.00 L517.70,320.26 L518.50,324.31 L519.30,306.32 L520.10,353.89 L520.90,351.54 L522.10,366.30 L523.80,296.90 L524.90,325.71 L525.70,320.95 L526.50,308.86 L527.30,331.38 L528.10,331.99 L529.30,303.50 L530.50,362.74 L531.30,332.70 L532.60,362.50 L533.70,316.35 L534.50,296.80 L535.50,358.60 L536.90,295.80 L537.70,351.38 L538.50,331.86 L539.30,303.09 L540.20,353.90 L542.40,315.50 L543.30,331.73" fill="none" stroke="#666666" stroke-width="1.7" stroke-linejoin="round" stroke-linecap="round" stroke-linejoin="miter"/>
<path d="M305.50,344.85 L306.00,344.75 L306.50,344.64 L307.00,344.51 L307.50,344.37 L308.00,344.22 L308.50,344.05 L309.00,343.87 L309.50,343.66 L310.00,343.44 L310.50,343.20 L311.00,342.93 L311.50,342.65 L312.00,342.34 L312.50,342.01 L313.00,341.65 L313.50,341.27 L314.00,340.86 L314.50,340.43 L315.00,339.98 L315.50,339.49 L316.00,338.99 L316.50,338.46 L317.00,337.90 L317.50,337.33 L318.00,336.73 L318.50,336.12 L319.00,335.49 L319.50,334.85 L320.00,334.20 L320.50,333.54 L321.00,332.88 L321.50,332.21 L322.00,331.55 L322.50,330.89 L323.00,330.25 L323.50,329.61 L324.00,329.00 L324.50,328.41 L325.00,327.84 L325.50,327.30 L326.00,326.80 L326.50,326.33 L327.00,325.90 L327.50,325.51 L328.00,325.15 L328.50,324.84 L329.00,324.56 L329.50,324.33 L330.00,324.12 L330.50,323.95 L331.00,323.81 L331.50,323.69 L332.00,323.60 L332.50,323.52 L333.00,323.46 L333.50,323.41 L334.00,323.38 L334.50,323.35 L335.00,323.33 L335.50,323.31 L336.00,323.29 L336.50,323.29 L337.00,323.28 L337.50,323.28 L338.00,323.28 L338.50,323.29 L339.00,323.30 L339.50,323.32 L340.00,323.34 L340.50,323.36 L341.00,323.38 L341.50,323.41 L342.00,323.43 L342.50,323.45 L343.00,323.47 L343.50,323.48 L344.00,323.49 L344.50,323.49 L345.00,323.48 L345.50,323.48 L346.00,323.47 L346.50,323.46 L347.00,323.46 L347.50,323.46 L348.00,323.48 L348.50,323.51 L349.00,323.56 L349.50,323.64 L350.00,323.76 L350.50,323.90 L351.00,324.09 L351.50,324.31 L352.00,324.59 L352.50,324.91 L353.00,325.27 L353.50,325.68 L354.00,326.14 L354.50,326.64 L355.00,327.18 L355.50,327.76 L356.00,328.36 L356.50,329.00 L357.00,329.65 L357.50,330.32 L358.00,331.00 L358.50,331.69 L359.00,332.38 L359.50,333.07 L360.00,333.75 L360.50,334.42 L361.00,335.08 L361.50,335.72 L362.00,336.35 L362.50,336.95 L363.00,337.52 L363.50,338.08 L364.00,338.60 L364.50,339.10 L365.00,339.57 L365.50,340.01 L366.00,340.42 L366.50,340.80 L367.00,341.16 L367.50,341.49 L368.00,341.79 L368.50,342.06 L369.00,342.32 L369.50,342.54 L370.00,342.75 L370.50,342.94 L371.00,343.10 L371.50,343.25 L372.00,343.38 L372.50,343.50 L373.00,343.60 L373.50,343.69 L374.00,343.77 L374.50,343.84 L375.00,343.90 L375.50,343.95" fill="none" stroke="#0000ff" stroke-width="2.9" stroke-linejoin="round" stroke-linecap="round" />
<path d="M426.50,341.13 L427.00,341.08 L427.50,341.02 L428.00,340.96 L428.50,340.90 L429.00,340.84 L429.50,340.77 L430.00,340.71 L430.50,340.65 L431.00,340.58 L431.50,340.51 L432.00,340.45 L432.50,340.38 L433.00,340.30 L433.50,340.23 L434.00,340.15 L434.50,340.08 L435.00,340.00 L435.50,339.91 L436.00,339.83 L436.50,339.74 L437.00,339.65 L437.50,339.55 L438.00,339.46 L438.50,339.35 L439.00,339.24 L439.50,339.13 L440.00,339.00 L440.50,338.88 L441.00,338.74 L441.50,338.59 L442.00,338.43 L442.50,338.26 L443.00,338.08 L443.50,337.89 L444.00,337.67 L444.50,337.44 L445.00,337.20 L445.50,336.93 L446.00,336.64 L446.50,336.32 L447.00,335.98 L447.50,335.61 L448.00,335.20 L448.50,334.77 L449.00,334.30 L449.50,333.79 L450.00,333.24 L450.50,332.65 L451.00,332.01 L451.50,331.33 L452.00,330.60 L452.50,329.83 L453.00,329.00 L453.50,328.13 L454.00,327.20 L454.50,326.22 L455.00,325.19 L455.50,324.11 L456.00,322.98 L456.50,321.80 L457.00,320.58 L457.50,319.32 L458.00,318.01 L458.50,316.67 L459.00,315.30 L459.50,313.91 L460.00,312.49 L460.50,311.06 L461.00,309.63 L461.50,308.20 L462.00,306.78 L462.50,305.38 L463.00,304.02 L463.50,302.69 L464.00,301.42 L464.50,300.21 L465.00,299.07 L465.50,298.01 L466.00,297.03 L466.50,296.15 L467.00,295.36 L467.50,294.66 L468.00,294.06 L468.50,293.55 L469.00,293.12 L469.50,292.77 L470.00,292.50 L470.50,292.28 L471.00,292.11 L471.50,291.99 L472.00,291.90 L472.50,291.84 L473.00,291.79 L473.50,291.77 L474.00,291.75 L474.50,291.74 L475.00,291.73 L475.50,291.73 L476.00,291.72 L476.50,291.73 L477.00,291.73 L477.50,291.74 L478.00,291.75 L478.50,291.77 L479.00,291.80 L479.50,291.83 L480.00,291.87 L480.50,291.92 L481.00,291.96 L481.50,292.01 L482.00,292.05 L482.50,292.09 L483.00,292.13 L483.50,292.16 L484.00,292.18 L484.50,292.20 L485.00,292.22 L485.50,292.23 L486.00,292.25 L486.50,292.28 L487.00,292.33 L487.50,292.40 L488.00,292.51 L488.50,292.65 L489.00,292.84 L489.50,293.10 L490.00,293.42 L490.50,293.82 L491.00,294.30 L491.50,294.87 L492.00,295.53 L492.50,296.28 L493.00,297.12 L493.50,298.04 L494.00,299.04 L494.50,300.12 L495.00,301.26 L495.50,302.45 L496.00,303.68 L496.50,304.95 L497.00,306.25 L497.50,307.56 L498.00,308.88 L498.50,310.20 L499.00,311.51 L499.50,312.80 L500.00,314.07 L500.50,315.32 L501.00,316.53 L501.50,317.71 L502.00,318.84 L502.50,319.94 L503.00,320.99 L503.50,321.99 L504.00,322.95 L504.50,323.86 L505.00,324.71 L505.50,325.52 L506.00,326.28 L506.50,326.99 L507.00,327.66 L507.50,328.28 L508.00,328.85 L508.50,329.38 L509.00,329.87 L509.50,330.32 L510.00,330.73 L510.50,331.11 L511.00,331.46 L511.50,331.77 L512.00,332.06 L512.50,332.32 L513.00,332.55 L513.50,332.77 L514.00,332.96 L514.50,333.13 L515.00,333.29 L515.50,333.43 L516.00,333.56 L516.50,333.67 L517.00,333.78 L517.50,333.87 L518.00,333.95 L518.50,334.03 L519.00,334.10 L519.50,334.16 L520.00,334.22 L520.50,334.27 L521.00,334.32 L521.50,334.36 L522.00,334.40 L522.50,334.43 L523.00,334.47 L523.50,334.50 L524.00,334.52 L524.50,334.55 L525.00,334.57 L525.50,334.59 L526.00,334.62 L526.50,334.63 L527.00,334.65 L527.50,334.67 L528.00,334.68 L528.50,334.70 L529.00,334.71 L529.50,334.72 L530.00,334.73" fill="none" stroke="#0000ff" stroke-width="2.9" stroke-linejoin="round" stroke-linecap="round" />
<path d="M305.50,345.33 L306.00,345.24 L306.50,345.14 L307.00,345.02 L307.50,344.90 L308.00,344.76 L308.50,344.60 L309.00,344.43 L309.50,344.24 L310.00,344.03 L310.50,343.81 L311.00,343.56 L311.50,343.30 L312.00,343.01 L312.50,342.70 L313.00,342.36 L313.50,342.01 L314.00,341.63 L314.50,341.23 L315.00,340.81 L315.50,340.36 L316.00,339.90 L316.50,339.41 L317.00,338.91 L317.50,338.39 L318.00,337.86 L318.50,337.32 L319.00,336.77 L319.50,336.21 L320.00,335.65 L320.50,335.09 L321.00,334.55 L321.50,334.01 L322.00,333.48 L322.50,332.98 L323.00,332.50 L323.50,332.05 L324.00,331.63 L324.50,331.25 L325.00,330.92 L325.50,330.64 L326.00,330.40 L326.50,330.23 L327.00,330.11 L327.50,330.05 L328.00,330.05 L328.50,330.11 L329.00,330.23 L329.50,330.41 L330.00,330.64 L330.50,330.92 L331.00,331.26 L331.50,331.63 L332.00,332.04 L332.50,332.49 L333.00,332.97 L333.50,333.47 L334.00,333.98 L334.50,334.51 L335.00,335.06 L335.50,335.60 L336.00,336.15 L336.50,336.70 L337.00,337.24 L337.50,337.77 L338.00,338.29 L338.50,338.79 L339.00,339.28 L339.50,339.75 L340.00,340.21 L340.50,340.64 L341.00,341.05 L341.50,341.43 L342.00,341.80 L342.50,342.14 L343.00,342.46 L343.50,342.75 L344.00,343.03 L344.50,343.28 L345.00,343.51 L345.50,343.72 L346.00,343.92 L346.50,344.09 L347.00,344.25 L347.50,344.39 L348.00,344.52 L348.50,344.64 L349.00,344.74 L349.50,344.83 L350.00,344.91 L350.50,344.98 L351.00,345.04 L351.50,345.10 L352.00,345.14 L352.50,345.19 L353.00,345.22 L353.50,345.25 L354.00,345.28 L354.50,345.30 L355.00,345.32 L355.50,345.33 L356.00,345.35 L356.50,345.36 L357.00,345.36 L357.50,345.37 L358.00,345.38 L358.50,345.38 L359.00,345.38 L359.50,345.38 L360.00,345.38 L360.50,345.38 L361.00,345.38 L361.50,345.38 L362.00,345.37 L362.50,345.37 L363.00,345.37 L363.50,345.36 L364.00,345.36 L364.50,345.35 L365.00,345.34 L365.50,345.34 L366.00,345.33 L366.50,345.32 L367.00,345.32 L367.50,345.31 L368.00,345.30 L368.50,345.29 L369.00,345.29 L369.50,345.28 L370.00,345.27 L370.50,345.26 L371.00,345.25 L371.50,345.24 L372.00,345.23 L372.50,345.22 L373.00,345.21 L373.50,345.20 L374.00,345.19 L374.50,345.17 L375.00,345.16 L375.50,345.15 L376.00,345.14 L376.50,345.12 L377.00,345.11 L377.50,345.10 L378.00,345.08 L378.50,345.06 L379.00,345.05 L379.50,345.03 L380.00,345.01 L380.50,345.00 L381.00,344.98 L381.50,344.96 L382.00,344.94 L382.50,344.92 L383.00,344.90 L383.50,344.88 L384.00,344.86 L384.50,344.84 L385.00,344.81 L385.50,344.79 L386.00,344.77 L386.50,344.74 L387.00,344.72 L387.50,344.70 L388.00,344.67 L388.50,344.65 L389.00,344.62 L389.50,344.60 L390.00,344.57 L390.50,344.55 L391.00,344.52 L391.50,344.50 L392.00,344.47 L392.50,344.44 L393.00,344.42 L393.50,344.39 L394.00,344.36 L394.50,344.33 L395.00,344.31 L395.50,344.28 L396.00,344.25 L396.50,344.22 L397.00,344.20 L397.50,344.17 L398.00,344.14 L398.50,344.11 L399.00,344.08 L399.50,344.06 L400.00,344.03 L400.50,344.00 L401.00,343.97 L401.50,343.94 L402.00,343.91 L402.50,343.89 L403.00,343.86 L403.50,343.83 L404.00,343.80 L404.50,343.77 L405.00,343.75 L405.50,343.72 L406.00,343.69 L406.50,343.66 L407.00,343.63 L407.50,343.61 L408.00,343.58 L408.50,343.55 L409.00,343.52 L409.50,343.49 L410.00,343.46 L410.50,343.43 L411.00,343.40 L411.50,343.37 L412.00,343.34 L412.50,343.31 L413.00,343.28 L413.50,343.25 L414.00,343.22 L414.50,343.19 L415.00,343.16 L415.50,343.13 L416.00,343.09 L416.50,343.06 L417.00,343.03 L417.50,343.00 L418.00,342.97 L418.50,342.93 L419.00,342.90 L419.50,342.87 L420.00,342.84 L420.50,342.80 L421.00,342.77 L421.50,342.74 L422.00,342.71 L422.50,342.67 L423.00,342.64 L423.50,342.61 L424.00,342.57 L424.50,342.54 L425.00,342.51 L425.50,342.47 L426.00,342.44 L426.50,342.41 L427.00,342.37 L427.50,342.34 L428.00,342.30 L428.50,342.27 L429.00,342.24 L429.50,342.20 L430.00,342.17 L430.50,342.13 L431.00,342.10 L431.50,342.06 L432.00,342.03 L432.50,341.99 L433.00,341.96 L433.50,341.93 L434.00,341.89 L434.50,341.86 L435.00,341.82 L435.50,341.79 L436.00,341.75 L436.50,341.72 L437.00,341.68 L437.50,341.65 L438.00,341.61 L438.50,341.58 L439.00,341.54 L439.50,341.51 L440.00,341.47 L440.50,341.44 L441.00,341.40 L441.50,341.37 L442.00,341.33 L442.50,341.30 L443.00,341.26 L443.50,341.22 L444.00,341.19 L444.50,341.15 L445.00,341.11 L445.50,341.08 L446.00,341.04 L446.50,341.00 L447.00,340.96 L447.50,340.93 L448.00,340.89 L448.50,340.85 L449.00,340.81 L449.50,340.77 L450.00,340.73 L450.50,340.69 L451.00,340.65 L451.50,340.61 L452.00,340.58 L452.50,340.54 L453.00,340.50 L453.50,340.46 L454.00,340.42 L454.50,340.38 L455.00,340.34 L455.50,340.30 L456.00,340.26 L456.50,340.22 L457.00,340.18 L457.50,340.14 L458.00,340.10 L458.50,340.06 L459.00,340.02 L459.50,339.98 L460.00,339.94 L460.50,339.90 L461.00,339.86 L461.50,339.82 L462.00,339.78 L462.50,339.74 L463.00,339.70 L463.50,339.66 L464.00,339.63 L464.50,339.59 L465.00,339.55 L465.50,339.51 L466.00,339.47 L466.50,339.43 L467.00,339.39 L467.50,339.36 L468.00,339.32 L468.50,339.28 L469.00,339.24 L469.50,339.21 L470.00,339.17 L470.50,339.13 L471.00,339.10 L471.50,339.06 L472.00,339.02 L472.50,338.99 L473.00,338.95 L473.50,338.92 L474.00,338.88 L474.50,338.85 L475.00,338.81 L475.50,338.78 L476.00,338.74 L476.50,338.71 L477.00,338.68 L477.50,338.64 L478.00,338.61 L478.50,338.58 L479.00,338.55 L479.50,338.52 L480.00,338.49 L480.50,338.46 L481.00,338.42 L481.50,338.39 L482.00,338.36 L482.50,338.33 L483.00,338.30 L483.50,338.27 L484.00,338.24 L484.50,338.21 L485.00,338.18 L485.50,338.15 L486.00,338.12 L486.50,338.09 L487.00,338.06 L487.50,338.03 L488.00,338.00 L488.50,337.97 L489.00,337.94 L489.50,337.91 L490.00,337.89 L490.50,337.86 L491.00,337.83 L491.50,337.80 L492.00,337.77 L492.50,337.74 L493.00,337.71 L493.50,337.68 L494.00,337.66 L494.50,337.63 L495.00,337.60 L495.50,337.57 L496.00,337.54 L496.50,337.52 L497.00,337.49 L497.50,337.46 L498.00,337.43 L498.50,337.41 L499.00,337.38 L499.50,337.35 L500.00,337.33 L500.50,337.30 L501.00,337.27 L501.50,337.25 L502.00,337.22 L502.50,337.19 L503.00,337.17 L503.50,337.14 L504.00,337.12 L504.50,337.09 L505.00,337.07 L505.50,337.04 L506.00,337.02 L506.50,336.99 L507.00,336.97 L507.50,336.94 L508.00,336.92 L508.50,336.89 L509.00,336.87 L509.50,336.85 L510.00,336.82 L510.50,336.80 L511.00,336.78 L511.50,336.75 L512.00,336.73 L512.50,336.71 L513.00,336.68 L513.50,336.66 L514.00,336.64 L514.50,336.62 L515.00,336.60 L515.50,336.58 L516.00,336.55 L516.50,336.53 L517.00,336.51 L517.50,336.49 L518.00,336.47 L518.50,336.45 L519.00,336.43 L519.50,336.41 L520.00,336.39 L520.50,336.37 L521.00,336.35 L521.50,336.33 L522.00,336.31 L522.50,336.30 L523.00,336.28 L523.50,336.26 L524.00,336.24 L524.50,336.22 L525.00,336.20 L525.50,336.18 L526.00,336.17 L526.50,336.15 L527.00,336.13 L527.50,336.11 L528.00,336.10 L528.50,336.08 L529.00,336.06 L529.50,336.04 L530.00,336.03 L530.50,336.01 L531.00,335.99 L531.50,335.98 L532.00,335.96 L532.50,335.95 L533.00,335.93 L533.50,335.91 L534.00,335.90 L534.50,335.88 L535.00,335.87 L535.50,335.85 L536.00,335.84 L536.50,335.82 L537.00,335.81 L537.50,335.79 L538.00,335.78 L538.50,335.76 L539.00,335.75 L539.50,335.74 L540.00,335.72 L540.50,335.71 L541.00,335.69 L541.50,335.68 L542.00,335.67 L542.50,335.66 L543.00,335.64 L543.50,335.63 L544.00,335.62 L544.50,335.61" fill="none" stroke="#00f000" stroke-width="2.4" stroke-linejoin="round" stroke-linecap="round" />
<path d="M305.50,346.05 L306.00,346.04 L306.50,346.04 L307.00,346.03 L307.50,346.02 L308.00,346.00 L308.50,345.99 L309.00,345.98 L309.50,345.97 L310.00,345.95 L310.50,345.94 L311.00,345.92 L311.50,345.91 L312.00,345.89 L312.50,345.87 L313.00,345.85 L313.50,345.82 L314.00,345.80 L314.50,345.77 L315.00,345.73 L315.50,345.70 L316.00,345.66 L316.50,345.62 L317.00,345.57 L317.50,345.52 L318.00,345.46 L318.50,345.39 L319.00,345.32 L319.50,345.24 L320.00,345.15 L320.50,345.06 L321.00,344.95 L321.50,344.83 L322.00,344.70 L322.50,344.55 L323.00,344.40 L323.50,344.22 L324.00,344.04 L324.50,343.84 L325.00,343.62 L325.50,343.38 L326.00,343.13 L326.50,342.87 L327.00,342.58 L327.50,342.28 L328.00,341.96 L328.50,341.63 L329.00,341.28 L329.50,340.92 L330.00,340.54 L330.50,340.15 L331.00,339.76 L331.50,339.36 L332.00,338.95 L332.50,338.54 L333.00,338.13 L333.50,337.73 L334.00,337.34 L334.50,336.96 L335.00,336.59 L335.50,336.24 L336.00,335.92 L336.50,335.63 L337.00,335.37 L337.50,335.15 L338.00,334.97 L338.50,334.84 L339.00,334.75 L339.50,334.71 L340.00,334.72 L340.50,334.77 L341.00,334.88 L341.50,335.03 L342.00,335.22 L342.50,335.45 L343.00,335.72 L343.50,336.02 L344.00,336.34 L344.50,336.69 L345.00,337.05 L345.50,337.43 L346.00,337.81 L346.50,338.21 L347.00,338.60 L347.50,339.00 L348.00,339.39 L348.50,339.77 L349.00,340.15 L349.50,340.52 L350.00,340.87 L350.50,341.21 L351.00,341.54 L351.50,341.85 L352.00,342.14 L352.50,342.42 L353.00,342.68 L353.50,342.93 L354.00,343.15 L354.50,343.36 L355.00,343.56 L355.50,343.74 L356.00,343.90 L356.50,344.05 L357.00,344.18 L357.50,344.30 L358.00,344.41 L358.50,344.51 L359.00,344.60 L359.50,344.68 L360.00,344.75 L360.50,344.81 L361.00,344.86 L361.50,344.91 L362.00,344.95 L362.50,344.98 L363.00,345.01 L363.50,345.04 L364.00,345.06 L364.50,345.07 L365.00,345.09 L365.50,345.10 L366.00,345.11 L366.50,345.12 L367.00,345.13 L367.50,345.13 L368.00,345.13 L368.50,345.13 L369.00,345.13 L369.50,345.13 L370.00,345.13 L370.50,345.13 L371.00,345.12 L371.50,345.12 L372.00,345.11 L372.50,345.11 L373.00,345.10 L373.50,345.09 L374.00,345.09 L374.50,345.08 L375.00,345.07 L375.50,345.06 L376.00,345.05 L376.50,345.04 L377.00,345.03 L377.50,345.02 L378.00,345.01 L378.50,344.99 L379.00,344.98 L379.50,344.97 L380.00,344.95 L380.50,344.93 L381.00,344.92 L381.50,344.90 L382.00,344.88 L382.50,344.86 L383.00,344.85 L383.50,344.83 L384.00,344.81 L384.50,344.79 L385.00,344.77 L385.50,344.75 L386.00,344.72 L386.50,344.70 L387.00,344.68 L387.50,344.66 L388.00,344.63 L388.50,344.61 L389.00,344.59 L389.50,344.56 L390.00,344.54 L390.50,344.51 L391.00,344.49 L391.50,344.46 L392.00,344.44 L392.50,344.41 L393.00,344.39 L393.50,344.36 L394.00,344.33 L394.50,344.31 L395.00,344.28 L395.50,344.25 L396.00,344.23 L396.50,344.20 L397.00,344.17 L397.50,344.14 L398.00,344.12 L398.50,344.09 L399.00,344.06 L399.50,344.03 L400.00,344.01 L400.50,343.98 L401.00,343.95 L401.50,343.92 L402.00,343.89 L402.50,343.87 L403.00,343.84 L403.50,343.81 L404.00,343.78 L404.50,343.76 L405.00,343.73 L405.50,343.70 L406.00,343.68 L406.50,343.65 L407.00,343.62 L407.50,343.59 L408.00,343.56 L408.50,343.53 L409.00,343.51 L409.50,343.48 L410.00,343.45 L410.50,343.42 L411.00,343.39 L411.50,343.36 L412.00,343.33 L412.50,343.30 L413.00,343.27 L413.50,343.24 L414.00,343.21 L414.50,343.18 L415.00,343.15 L415.50,343.11 L416.00,343.08 L416.50,343.05 L417.00,343.02 L417.50,342.99 L418.00,342.96 L418.50,342.92 L419.00,342.89 L419.50,342.86 L420.00,342.83 L420.50,342.80 L421.00,342.76 L421.50,342.73 L422.00,342.70 L422.50,342.66 L423.00,342.63 L423.50,342.60 L424.00,342.57 L424.50,342.53 L425.00,342.50 L425.50,342.47 L426.00,342.43 L426.50,342.40 L427.00,342.36 L427.50,342.33 L428.00,342.30 L428.50,342.26 L429.00,342.23 L429.50,342.19 L430.00,342.16 L430.50,342.13 L431.00,342.09 L431.50,342.06 L432.00,342.02 L432.50,341.99 L433.00,341.95 L433.50,341.92 L434.00,341.89 L434.50,341.85 L435.00,341.82 L435.50,341.78 L436.00,341.75 L436.50,341.71 L437.00,341.68 L437.50,341.64 L438.00,341.61 L438.50,341.57 L439.00,341.54 L439.50,341.50 L440.00,341.47 L440.50,341.44 L441.00,341.40 L441.50,341.36 L442.00,341.33 L442.50,341.29 L443.00,341.26 L443.50,341.22 L444.00,341.18 L444.50,341.15 L445.00,341.11 L445.50,341.07 L446.00,341.03 L446.50,341.00 L447.00,340.96 L447.50,340.92 L448.00,340.88 L448.50,340.84 L449.00,340.81 L449.50,340.77 L450.00,340.73 L450.50,340.69 L451.00,340.65 L451.50,340.61 L452.00,340.57 L452.50,340.53 L453.00,340.49 L453.50,340.45 L454.00,340.41 L454.50,340.37 L455.00,340.34 L455.50,340.30 L456.00,340.26 L456.50,340.22 L457.00,340.18 L457.50,340.14 L458.00,340.10 L458.50,340.06 L459.00,340.02 L459.50,339.98 L460.00,339.94 L460.50,339.90 L461.00,339.86 L461.50,339.82 L462.00,339.78 L462.50,339.74 L463.00,339.70 L463.50,339.66 L464.00,339.62 L464.50,339.58 L465.00,339.55 L465.50,339.51 L466.00,339.47 L466.50,339.43 L467.00,339.39 L467.50,339.35 L468.00,339.32 L468.50,339.28 L469.00,339.24 L469.50,339.20 L470.00,339.17 L470.50,339.13 L471.00,339.09 L471.50,339.06 L472.00,339.02 L472.50,338.99 L473.00,338.95 L473.50,338.91 L474.00,338.88 L474.50,338.84 L475.00,338.81 L475.50,338.78 L476.00,338.74 L476.50,338.71 L477.00,338.68 L477.50,338.64 L478.00,338.61 L478.50,338.58 L479.00,338.55 L479.50,338.52 L480.00,338.48 L480.50,338.45 L481.00,338.42 L481.50,338.39 L482.00,338.36 L482.50,338.33 L483.00,338.30 L483.50,338.27 L484.00,338.24 L484.50,338.21 L485.00,338.18 L485.50,338.15 L486.00,338.12 L486.50,338.09 L487.00,338.06 L487.50,338.03 L488.00,338.00 L488.50,337.97 L489.00,337.94 L489.50,337.91 L490.00,337.88 L490.50,337.86 L491.00,337.83 L491.50,337.80 L492.00,337.77 L492.50,337.74 L493.00,337.71 L493.50,337.68 L494.00,337.65 L494.50,337.63 L495.00,337.60 L495.50,337.57 L496.00,337.54 L496.50,337.51 L497.00,337.49 L497.50,337.46 L498.00,337.43 L498.50,337.41 L499.00,337.38 L499.50,337.35 L500.00,337.32 L500.50,337.30 L501.00,337.27 L501.50,337.25 L502.00,337.22 L502.50,337.19 L503.00,337.17 L503.50,337.14 L504.00,337.12 L504.50,337.09 L505.00,337.06 L505.50,337.04 L506.00,337.01 L506.50,336.99 L507.00,336.97 L507.50,336.94 L508.00,336.92 L508.50,336.89 L509.00,336.87 L509.50,336.84 L510.00,336.82 L510.50,336.80 L511.00,336.77 L511.50,336.75 L512.00,336.73 L512.50,336.71 L513.00,336.68 L513.50,336.66 L514.00,336.64 L514.50,336.62 L515.00,336.60 L515.50,336.57 L516.00,336.55 L516.50,336.53 L517.00,336.51 L517.50,336.49 L518.00,336.47 L518.50,336.45 L519.00,336.43 L519.50,336.41 L520.00,336.39 L520.50,336.37 L521.00,336.35 L521.50,336.33 L522.00,336.31 L522.50,336.29 L523.00,336.28 L523.50,336.26 L524.00,336.24 L524.50,336.22 L525.00,336.20 L525.50,336.18 L526.00,336.17 L526.50,336.15 L527.00,336.13 L527.50,336.11 L528.00,336.10 L528.50,336.08 L529.00,336.06 L529.50,336.04 L530.00,336.03 L530.50,336.01 L531.00,335.99 L531.50,335.98 L532.00,335.96 L532.50,335.95 L533.00,335.93 L533.50,335.91 L534.00,335.90 L534.50,335.88 L535.00,335.87 L535.50,335.85 L536.00,335.84 L536.50,335.82 L537.00,335.81 L537.50,335.79 L538.00,335.78 L538.50,335.76 L539.00,335.75 L539.50,335.74 L540.00,335.72 L540.50,335.71 L541.00,335.69 L541.50,335.68 L542.00,335.67 L542.50,335.66 L543.00,335.64 L543.50,335.63 L544.00,335.62 L544.50,335.60" fill="none" stroke="#ff00ff" stroke-width="2.4" stroke-linejoin="round" stroke-linecap="round" />
<path d="M305.50,346.17 L306.00,346.16 L306.50,346.16 L307.00,346.15 L307.50,346.15 L308.00,346.14 L308.50,346.14 L309.00,346.13 L309.50,346.13 L310.00,346.12 L310.50,346.11 L311.00,346.11 L311.50,346.10 L312.00,346.09 L312.50,346.09 L313.00,346.08 L313.50,346.07 L314.00,346.06 L314.50,346.06 L315.00,346.05 L315.50,346.04 L316.00,346.03 L316.50,346.02 L317.00,346.01 L317.50,346.00 L318.00,345.99 L318.50,345.98 L319.00,345.97 L319.50,345.95 L320.00,345.94 L320.50,345.93 L321.00,345.91 L321.50,345.90 L322.00,345.88 L322.50,345.87 L323.00,345.85 L323.50,345.83 L324.00,345.81 L324.50,345.79 L325.00,345.76 L325.50,345.73 L326.00,345.71 L326.50,345.67 L327.00,345.64 L327.50,345.60 L328.00,345.55 L328.50,345.50 L329.00,345.44 L329.50,345.38 L330.00,345.31 L330.50,345.23 L331.00,345.14 L331.50,345.04 L332.00,344.93 L332.50,344.80 L333.00,344.67 L333.50,344.51 L334.00,344.34 L334.50,344.15 L335.00,343.94 L335.50,343.71 L336.00,343.46 L336.50,343.19 L337.00,342.89 L337.50,342.57 L338.00,342.22 L338.50,341.85 L339.00,341.45 L339.50,341.02 L340.00,340.57 L340.50,340.10 L341.00,339.59 L341.50,339.07 L342.00,338.53 L342.50,337.96 L343.00,337.38 L343.50,336.79 L344.00,336.18 L344.50,335.57 L345.00,334.96 L345.50,334.35 L346.00,333.75 L346.50,333.16 L347.00,332.59 L347.50,332.04 L348.00,331.53 L348.50,331.05 L349.00,330.61 L349.50,330.21 L350.00,329.88 L350.50,329.59 L351.00,329.38 L351.50,329.22 L352.00,329.14 L352.50,329.12 L353.00,329.18 L353.50,329.30 L354.00,329.49 L354.50,329.74 L355.00,330.05 L355.50,330.41 L356.00,330.83 L356.50,331.28 L357.00,331.78 L357.50,332.30 L358.00,332.85 L358.50,333.42 L359.00,334.00 L359.50,334.59 L360.00,335.18 L360.50,335.78 L361.00,336.36 L361.50,336.94 L362.00,337.51 L362.50,338.06 L363.00,338.59 L363.50,339.10 L364.00,339.59 L364.50,340.05 L365.00,340.49 L365.50,340.91 L366.00,341.29 L366.50,341.65 L367.00,341.99 L367.50,342.30 L368.00,342.58 L368.50,342.84 L369.00,343.08 L369.50,343.29 L370.00,343.49 L370.50,343.66 L371.00,343.82 L371.50,343.95 L372.00,344.08 L372.50,344.18 L373.00,344.28 L373.50,344.36 L374.00,344.43 L374.50,344.49 L375.00,344.55 L375.50,344.59 L376.00,344.63 L376.50,344.66 L377.00,344.68 L377.50,344.70 L378.00,344.72 L378.50,344.73 L379.00,344.74 L379.50,344.74 L380.00,344.74 L380.50,344.74 L381.00,344.73 L381.50,344.73 L382.00,344.72 L382.50,344.71 L383.00,344.70 L383.50,344.69 L384.00,344.67 L384.50,344.66 L385.00,344.64 L385.50,344.63 L386.00,344.61 L386.50,344.59 L387.00,344.58 L387.50,344.56 L388.00,344.54 L388.50,344.52 L389.00,344.50 L389.50,344.48 L390.00,344.45 L390.50,344.43 L391.00,344.41 L391.50,344.39 L392.00,344.36 L392.50,344.34 L393.00,344.32 L393.50,344.29 L394.00,344.27 L394.50,344.24 L395.00,344.22 L395.50,344.19 L396.00,344.17 L396.50,344.14 L397.00,344.12 L397.50,344.09 L398.00,344.07 L398.50,344.04 L399.00,344.01 L399.50,343.99 L400.00,343.96 L400.50,343.93 L401.00,343.91 L401.50,343.88 L402.00,343.85 L402.50,343.83 L403.00,343.80 L403.50,343.77 L404.00,343.75 L404.50,343.72 L405.00,343.69 L405.50,343.67 L406.00,343.64 L406.50,343.61 L407.00,343.59 L407.50,343.56 L408.00,343.53 L408.50,343.50 L409.00,343.48 L409.50,343.45 L410.00,343.42 L410.50,343.39 L411.00,343.36 L411.50,343.33 L412.00,343.30 L412.50,343.27 L413.00,343.24 L413.50,343.21 L414.00,343.18 L414.50,343.15 L415.00,343.12 L415.50,343.09 L416.00,343.06 L416.50,343.03 L417.00,343.00 L417.50,342.97 L418.00,342.94 L418.50,342.91 L419.00,342.87 L419.50,342.84 L420.00,342.81 L420.50,342.78 L421.00,342.75 L421.50,342.71 L422.00,342.68 L422.50,342.65 L423.00,342.62 L423.50,342.58 L424.00,342.55 L424.50,342.52 L425.00,342.48 L425.50,342.45 L426.00,342.42 L426.50,342.38 L427.00,342.35 L427.50,342.32 L428.00,342.28 L428.50,342.25 L429.00,342.22 L429.50,342.18 L430.00,342.15 L430.50,342.11 L431.00,342.08 L431.50,342.05 L432.00,342.01 L432.50,341.98 L433.00,341.94 L433.50,341.91 L434.00,341.87 L434.50,341.84 L435.00,341.81 L435.50,341.77 L436.00,341.74 L436.50,341.70 L437.00,341.67 L437.50,341.63 L438.00,341.60 L438.50,341.56 L439.00,341.53 L439.50,341.50 L440.00,341.46 L440.50,341.43 L441.00,341.39 L441.50,341.36 L442.00,341.32 L442.50,341.29 L443.00,341.25 L443.50,341.21 L444.00,341.18 L444.50,341.14 L445.00,341.10 L445.50,341.07 L446.00,341.03 L446.50,340.99 L447.00,340.95 L447.50,340.91 L448.00,340.88 L448.50,340.84 L449.00,340.80 L449.50,340.76 L450.00,340.72 L450.50,340.68 L451.00,340.64 L451.50,340.61 L452.00,340.57 L452.50,340.53 L453.00,340.49 L453.50,340.45 L454.00,340.41 L454.50,340.37 L455.00,340.33 L455.50,340.29 L456.00,340.25 L456.50,340.21 L457.00,340.17 L457.50,340.13 L458.00,340.09 L458.50,340.05 L459.00,340.01 L459.50,339.97 L460.00,339.93 L460.50,339.89 L461.00,339.85 L461.50,339.81 L462.00,339.78 L462.50,339.74 L463.00,339.70 L463.50,339.66 L464.00,339.62 L464.50,339.58 L465.00,339.54 L465.50,339.50 L466.00,339.46 L466.50,339.43 L467.00,339.39 L467.50,339.35 L468.00,339.31 L468.50,339.27 L469.00,339.24 L469.50,339.20 L470.00,339.16 L470.50,339.13 L471.00,339.09 L471.50,339.05 L472.00,339.02 L472.50,338.98 L473.00,338.95 L473.50,338.91 L474.00,338.88 L474.50,338.84 L475.00,338.81 L475.50,338.77 L476.00,338.74 L476.50,338.71 L477.00,338.67 L477.50,338.64 L478.00,338.61 L478.50,338.58 L479.00,338.54 L479.50,338.51 L480.00,338.48 L480.50,338.45 L481.00,338.42 L481.50,338.39 L482.00,338.36 L482.50,338.33 L483.00,338.30 L483.50,338.27 L484.00,338.24 L484.50,338.21 L485.00,338.18 L485.50,338.15 L486.00,338.12 L486.50,338.09 L487.00,338.06 L487.50,338.03 L488.00,338.00 L488.50,337.97 L489.00,337.94 L489.50,337.91 L490.00,337.88 L490.50,337.85 L491.00,337.82 L491.50,337.79 L492.00,337.77 L492.50,337.74 L493.00,337.71 L493.50,337.68 L494.00,337.65 L494.50,337.62 L495.00,337.60 L495.50,337.57 L496.00,337.54 L496.50,337.51 L497.00,337.49 L497.50,337.46 L498.00,337.43 L498.50,337.40 L499.00,337.38 L499.50,337.35 L500.00,337.32 L500.50,337.30 L501.00,337.27 L501.50,337.24 L502.00,337.22 L502.50,337.19 L503.00,337.17 L503.50,337.14 L504.00,337.11 L504.50,337.09 L505.00,337.06 L505.50,337.04 L506.00,337.01 L506.50,336.99 L507.00,336.96 L507.50,336.94 L508.00,336.92 L508.50,336.89 L509.00,336.87 L509.50,336.84 L510.00,336.82 L510.50,336.80 L511.00,336.77 L511.50,336.75 L512.00,336.73 L512.50,336.70 L513.00,336.68 L513.50,336.66 L514.00,336.64 L514.50,336.62 L515.00,336.59 L515.50,336.57 L516.00,336.55 L516.50,336.53 L517.00,336.51 L517.50,336.49 L518.00,336.47 L518.50,336.45 L519.00,336.43 L519.50,336.41 L520.00,336.39 L520.50,336.37 L521.00,336.35 L521.50,336.33 L522.00,336.31 L522.50,336.29 L523.00,336.27 L523.50,336.26 L524.00,336.24 L524.50,336.22 L525.00,336.20 L525.50,336.18 L526.00,336.17 L526.50,336.15 L527.00,336.13 L527.50,336.11 L528.00,336.09 L528.50,336.08 L529.00,336.06 L529.50,336.04 L530.00,336.03 L530.50,336.01 L531.00,335.99 L531.50,335.98 L532.00,335.96 L532.50,335.94 L533.00,335.93 L533.50,335.91 L534.00,335.90 L534.50,335.88 L535.00,335.87 L535.50,335.85 L536.00,335.84 L536.50,335.82 L537.00,335.81 L537.50,335.79 L538.00,335.78 L538.50,335.76 L539.00,335.75 L539.50,335.73 L540.00,335.72 L540.50,335.71 L541.00,335.69 L541.50,335.68 L542.00,335.67 L542.50,335.65 L543.00,335.64 L543.50,335.63 L544.00,335.62 L544.50,335.60" fill="none" stroke="#ff0000" stroke-width="2.4" stroke-linejoin="round" stroke-linecap="round" />
<path d="M305.50,346.25 L306.00,346.25 L306.50,346.25 L307.00,346.25 L307.50,346.25 L308.00,346.24 L308.50,346.24 L309.00,346.24 L309.50,346.24 L310.00,346.23 L310.50,346.23 L311.00,346.23 L311.50,346.22 L312.00,346.22 L312.50,346.22 L313.00,346.21 L313.50,346.21 L314.00,346.21 L314.50,346.20 L315.00,346.20 L315.50,346.20 L316.00,346.19 L316.50,346.19 L317.00,346.18 L317.50,346.18 L318.00,346.18 L318.50,346.17 L319.00,346.17 L319.50,346.16 L320.00,346.16 L320.50,346.15 L321.00,346.15 L321.50,346.14 L322.00,346.14 L322.50,346.13 L323.00,346.13 L323.50,346.12 L324.00,346.12 L324.50,346.11 L325.00,346.11 L325.50,346.10 L326.00,346.10 L326.50,346.09 L327.00,346.09 L327.50,346.08 L328.00,346.08 L328.50,346.07 L329.00,346.06 L329.50,346.06 L330.00,346.05 L330.50,346.05 L331.00,346.04 L331.50,346.03 L332.00,346.03 L332.50,346.02 L333.00,346.02 L333.50,346.01 L334.00,346.00 L334.50,346.00 L335.00,345.99 L335.50,345.99 L336.00,345.98 L336.50,345.97 L337.00,345.97 L337.50,345.96 L338.00,345.95 L338.50,345.95 L339.00,345.94 L339.50,345.93 L340.00,345.93 L340.50,345.92 L341.00,345.91 L341.50,345.91 L342.00,345.90 L342.50,345.89 L343.00,345.89 L343.50,345.88 L344.00,345.87 L344.50,345.86 L345.00,345.86 L345.50,345.85 L346.00,345.84 L346.50,345.83 L347.00,345.82 L347.50,345.82 L348.00,345.81 L348.50,345.80 L349.00,345.79 L349.50,345.78 L350.00,345.77 L350.50,345.76 L351.00,345.76 L351.50,345.75 L352.00,345.74 L352.50,345.73 L353.00,345.72 L353.50,345.71 L354.00,345.70 L354.50,345.69 L355.00,345.68 L355.50,345.67 L356.00,345.66 L356.50,345.65 L357.00,345.64 L357.50,345.63 L358.00,345.62 L358.50,345.60 L359.00,345.59 L359.50,345.58 L360.00,345.57 L360.50,345.56 L361.00,345.55 L361.50,345.54 L362.00,345.52 L362.50,345.51 L363.00,345.50 L363.50,345.49 L364.00,345.48 L364.50,345.46 L365.00,345.45 L365.50,345.44 L366.00,345.42 L366.50,345.41 L367.00,345.40 L367.50,345.38 L368.00,345.37 L368.50,345.36 L369.00,345.34 L369.50,345.33 L370.00,345.31 L370.50,345.30 L371.00,345.29 L371.50,345.27 L372.00,345.26 L372.50,345.24 L373.00,345.23 L373.50,345.21 L374.00,345.19 L374.50,345.18 L375.00,345.16 L375.50,345.15 L376.00,345.13 L376.50,345.11 L377.00,345.09 L377.50,345.08 L378.00,345.06 L378.50,345.04 L379.00,345.02 L379.50,345.00 L380.00,344.97 L380.50,344.95 L381.00,344.93 L381.50,344.91 L382.00,344.88 L382.50,344.86 L383.00,344.84 L383.50,344.81 L384.00,344.79 L384.50,344.76 L385.00,344.74 L385.50,344.71 L386.00,344.68 L386.50,344.66 L387.00,344.63 L387.50,344.60 L388.00,344.57 L388.50,344.55 L389.00,344.52 L389.50,344.49 L390.00,344.46 L390.50,344.43 L391.00,344.40 L391.50,344.37 L392.00,344.34 L392.50,344.31 L393.00,344.28 L393.50,344.25 L394.00,344.22 L394.50,344.19 L395.00,344.15 L395.50,344.12 L396.00,344.09 L396.50,344.06 L397.00,344.03 L397.50,343.99 L398.00,343.96 L398.50,343.93 L399.00,343.90 L399.50,343.86 L400.00,343.83 L400.50,343.80 L401.00,343.77 L401.50,343.73 L402.00,343.70 L402.50,343.67 L403.00,343.63 L403.50,343.60 L404.00,343.57 L404.50,343.53 L405.00,343.50 L405.50,343.47 L406.00,343.44 L406.50,343.40 L407.00,343.37 L407.50,343.33 L408.00,343.30 L408.50,343.26 L409.00,343.23 L409.50,343.19 L410.00,343.16 L410.50,343.12 L411.00,343.08 L411.50,343.05 L412.00,343.01 L412.50,342.97 L413.00,342.93 L413.50,342.90 L414.00,342.86 L414.50,342.82 L415.00,342.78 L415.50,342.74 L416.00,342.70 L416.50,342.66 L417.00,342.62 L417.50,342.58 L418.00,342.53 L418.50,342.49 L419.00,342.45 L419.50,342.41 L420.00,342.36 L420.50,342.32 L421.00,342.28 L421.50,342.23 L422.00,342.19 L422.50,342.14 L423.00,342.10 L423.50,342.05 L424.00,342.00 L424.50,341.96 L425.00,341.91 L425.50,341.86 L426.00,341.81 L426.50,341.76 L427.00,341.71 L427.50,341.66 L428.00,341.61 L428.50,341.56 L429.00,341.50 L429.50,341.45 L430.00,341.39 L430.50,341.34 L431.00,341.28 L431.50,341.22 L432.00,341.16 L432.50,341.10 L433.00,341.04 L433.50,340.98 L434.00,340.92 L434.50,340.85 L435.00,340.78 L435.50,340.71 L436.00,340.64 L436.50,340.56 L437.00,340.49 L437.50,340.40 L438.00,340.32 L438.50,340.23 L439.00,340.14 L439.50,340.04 L440.00,339.93 L440.50,339.82 L441.00,339.70 L441.50,339.57 L442.00,339.43 L442.50,339.28 L443.00,339.12 L443.50,338.95 L444.00,338.76 L444.50,338.55 L445.00,338.33 L445.50,338.09 L446.00,337.82 L446.50,337.54 L447.00,337.22 L447.50,336.88 L448.00,336.51 L448.50,336.11 L449.00,335.68 L449.50,335.21 L450.00,334.71 L450.50,334.16 L451.00,333.58 L451.50,332.95 L452.00,332.28 L452.50,331.57 L453.00,330.81 L453.50,330.01 L454.00,329.17 L454.50,328.28 L455.00,327.35 L455.50,326.37 L456.00,325.36 L456.50,324.32 L457.00,323.24 L457.50,322.13 L458.00,321.00 L458.50,319.85 L459.00,318.69 L459.50,317.53 L460.00,316.36 L460.50,315.21 L461.00,314.08 L461.50,312.97 L462.00,311.91 L462.50,310.90 L463.00,309.95 L463.50,309.07 L464.00,308.29 L464.50,307.59 L465.00,307.01 L465.50,306.55 L466.00,306.20 L466.50,305.99 L467.00,305.91 L467.50,305.97 L468.00,306.16 L468.50,306.47 L469.00,306.91 L469.50,307.46 L470.00,308.12 L470.50,308.86 L471.00,309.69 L471.50,310.59 L472.00,311.55 L472.50,312.56 L473.00,313.60 L473.50,314.66 L474.00,315.75 L474.50,316.84 L475.00,317.93 L475.50,319.01 L476.00,320.08 L476.50,321.13 L477.00,322.15 L477.50,323.14 L478.00,324.10 L478.50,325.03 L479.00,325.91 L479.50,326.75 L480.00,327.56 L480.50,328.31 L481.00,329.03 L481.50,329.69 L482.00,330.32 L482.50,330.90 L483.00,331.44 L483.50,331.94 L484.00,332.40 L484.50,332.82 L485.00,333.20 L485.50,333.56 L486.00,333.88 L486.50,334.16 L487.00,334.42 L487.50,334.66 L488.00,334.87 L488.50,335.06 L489.00,335.23 L489.50,335.38 L490.00,335.51 L490.50,335.63 L491.00,335.73 L491.50,335.82 L492.00,335.90 L492.50,335.97 L493.00,336.03 L493.50,336.08 L494.00,336.13 L494.50,336.17 L495.00,336.20 L495.50,336.23 L496.00,336.26 L496.50,336.28 L497.00,336.29 L497.50,336.31 L498.00,336.32 L498.50,336.33 L499.00,336.34 L499.50,336.34 L500.00,336.34 L500.50,336.35 L501.00,336.35 L501.50,336.35 L502.00,336.35 L502.50,336.34 L503.00,336.34 L503.50,336.34 L504.00,336.33 L504.50,336.33 L505.00,336.32 L505.50,336.31 L506.00,336.31 L506.50,336.30 L507.00,336.29 L507.50,336.28 L508.00,336.27 L508.50,336.26 L509.00,336.25 L509.50,336.24 L510.00,336.23 L510.50,336.22 L511.00,336.21 L511.50,336.20 L512.00,336.19 L512.50,336.18 L513.00,336.17 L513.50,336.16 L514.00,336.14 L514.50,336.13 L515.00,336.12 L515.50,336.11 L516.00,336.10 L516.50,336.08 L517.00,336.07 L517.50,336.06 L518.00,336.05 L518.50,336.04 L519.00,336.02 L519.50,336.01 L520.00,336.00 L520.50,335.99 L521.00,335.97 L521.50,335.96 L522.00,335.95 L522.50,335.94 L523.00,335.92 L523.50,335.91 L524.00,335.90 L524.50,335.89 L525.00,335.87 L525.50,335.86 L526.00,335.85 L526.50,335.84 L527.00,335.82 L527.50,335.81 L528.00,335.80 L528.50,335.79 L529.00,335.77 L529.50,335.76 L530.00,335.75 L530.50,335.74 L531.00,335.72 L531.50,335.71 L532.00,335.70 L532.50,335.69 L533.00,335.67 L533.50,335.66 L534.00,335.65 L534.50,335.64 L535.00,335.63 L535.50,335.62 L536.00,335.60 L536.50,335.59 L537.00,335.58 L537.50,335.57 L538.00,335.56 L538.50,335.55 L539.00,335.54 L539.50,335.52 L540.00,335.51 L540.50,335.50 L541.00,335.49 L541.50,335.48 L542.00,335.47 L542.50,335.46 L543.00,335.45 L543.50,335.44 L544.00,335.43 L544.50,335.42" fill="none" stroke="#00f000" stroke-width="2.4" stroke-linejoin="round" stroke-linecap="round" />
<path d="M305.50,346.28 L306.00,346.27 L306.50,346.27 L307.00,346.27 L307.50,346.27 L308.00,346.27 L308.50,346.26 L309.00,346.26 L309.50,346.26 L310.00,346.26 L310.50,346.25 L311.00,346.25 L311.50,346.25 L312.00,346.24 L312.50,346.24 L313.00,346.24 L313.50,346.24 L314.00,346.23 L314.50,346.23 L315.00,346.23 L315.50,346.22 L316.00,346.22 L316.50,346.21 L317.00,346.21 L317.50,346.21 L318.00,346.20 L318.50,346.20 L319.00,346.19 L319.50,346.19 L320.00,346.18 L320.50,346.18 L321.00,346.18 L321.50,346.17 L322.00,346.17 L322.50,346.16 L323.00,346.16 L323.50,346.15 L324.00,346.15 L324.50,346.14 L325.00,346.14 L325.50,346.13 L326.00,346.13 L326.50,346.12 L327.00,346.12 L327.50,346.11 L328.00,346.11 L328.50,346.10 L329.00,346.10 L329.50,346.09 L330.00,346.08 L330.50,346.08 L331.00,346.07 L331.50,346.07 L332.00,346.06 L332.50,346.06 L333.00,346.05 L333.50,346.04 L334.00,346.04 L334.50,346.03 L335.00,346.03 L335.50,346.02 L336.00,346.01 L336.50,346.01 L337.00,346.00 L337.50,346.00 L338.00,345.99 L338.50,345.98 L339.00,345.98 L339.50,345.97 L340.00,345.96 L340.50,345.96 L341.00,345.95 L341.50,345.95 L342.00,345.94 L342.50,345.93 L343.00,345.93 L343.50,345.92 L344.00,345.91 L344.50,345.90 L345.00,345.90 L345.50,345.89 L346.00,345.88 L346.50,345.87 L347.00,345.87 L347.50,345.86 L348.00,345.85 L348.50,345.84 L349.00,345.83 L349.50,345.83 L350.00,345.82 L350.50,345.81 L351.00,345.80 L351.50,345.79 L352.00,345.78 L352.50,345.77 L353.00,345.77 L353.50,345.76 L354.00,345.75 L354.50,345.74 L355.00,345.73 L355.50,345.72 L356.00,345.71 L356.50,345.70 L357.00,345.69 L357.50,345.68 L358.00,345.67 L358.50,345.66 L359.00,345.65 L359.50,345.64 L360.00,345.62 L360.50,345.61 L361.00,345.60 L361.50,345.59 L362.00,345.58 L362.50,345.57 L363.00,345.56 L363.50,345.55 L364.00,345.53 L364.50,345.52 L365.00,345.51 L365.50,345.50 L366.00,345.48 L366.50,345.47 L367.00,345.46 L367.50,345.45 L368.00,345.43 L368.50,345.42 L369.00,345.41 L369.50,345.39 L370.00,345.38 L370.50,345.37 L371.00,345.35 L371.50,345.34 L372.00,345.32 L372.50,345.31 L373.00,345.30 L373.50,345.28 L374.00,345.27 L374.50,345.25 L375.00,345.24 L375.50,345.22 L376.00,345.21 L376.50,345.19 L377.00,345.17 L377.50,345.15 L378.00,345.14 L378.50,345.12 L379.00,345.10 L379.50,345.08 L380.00,345.06 L380.50,345.04 L381.00,345.02 L381.50,345.00 L382.00,344.97 L382.50,344.95 L383.00,344.93 L383.50,344.90 L384.00,344.88 L384.50,344.86 L385.00,344.83 L385.50,344.81 L386.00,344.78 L386.50,344.76 L387.00,344.73 L387.50,344.70 L388.00,344.68 L388.50,344.65 L389.00,344.62 L389.50,344.60 L390.00,344.57 L390.50,344.54 L391.00,344.51 L391.50,344.48 L392.00,344.46 L392.50,344.43 L393.00,344.40 L393.50,344.37 L394.00,344.34 L394.50,344.31 L395.00,344.28 L395.50,344.25 L396.00,344.22 L396.50,344.19 L397.00,344.16 L397.50,344.13 L398.00,344.10 L398.50,344.07 L399.00,344.04 L399.50,344.01 L400.00,343.98 L400.50,343.95 L401.00,343.92 L401.50,343.89 L402.00,343.86 L402.50,343.83 L403.00,343.80 L403.50,343.77 L404.00,343.74 L404.50,343.71 L405.00,343.68 L405.50,343.65 L406.00,343.62 L406.50,343.59 L407.00,343.56 L407.50,343.52 L408.00,343.49 L408.50,343.46 L409.00,343.43 L409.50,343.40 L410.00,343.37 L410.50,343.33 L411.00,343.30 L411.50,343.27 L412.00,343.24 L412.50,343.20 L413.00,343.17 L413.50,343.14 L414.00,343.10 L414.50,343.07 L415.00,343.03 L415.50,343.00 L416.00,342.97 L416.50,342.93 L417.00,342.90 L417.50,342.86 L418.00,342.83 L418.50,342.79 L419.00,342.76 L419.50,342.72 L420.00,342.68 L420.50,342.65 L421.00,342.61 L421.50,342.57 L422.00,342.54 L422.50,342.50 L423.00,342.46 L423.50,342.43 L424.00,342.39 L424.50,342.35 L425.00,342.31 L425.50,342.27 L426.00,342.24 L426.50,342.20 L427.00,342.16 L427.50,342.12 L428.00,342.08 L428.50,342.04 L429.00,342.00 L429.50,341.96 L430.00,341.92 L430.50,341.88 L431.00,341.84 L431.50,341.80 L432.00,341.76 L432.50,341.72 L433.00,341.68 L433.50,341.64 L434.00,341.60 L434.50,341.56 L435.00,341.51 L435.50,341.47 L436.00,341.43 L436.50,341.39 L437.00,341.34 L437.50,341.30 L438.00,341.26 L438.50,341.21 L439.00,341.17 L439.50,341.12 L440.00,341.08 L440.50,341.03 L441.00,340.99 L441.50,340.94 L442.00,340.89 L442.50,340.84 L443.00,340.79 L443.50,340.74 L444.00,340.69 L444.50,340.64 L445.00,340.59 L445.50,340.53 L446.00,340.48 L446.50,340.42 L447.00,340.37 L447.50,340.31 L448.00,340.25 L448.50,340.18 L449.00,340.12 L449.50,340.05 L450.00,339.98 L450.50,339.91 L451.00,339.84 L451.50,339.76 L452.00,339.67 L452.50,339.59 L453.00,339.50 L453.50,339.40 L454.00,339.29 L454.50,339.18 L455.00,339.06 L455.50,338.93 L456.00,338.80 L456.50,338.65 L457.00,338.49 L457.50,338.31 L458.00,338.13 L458.50,337.92 L459.00,337.70 L459.50,337.46 L460.00,337.20 L460.50,336.92 L461.00,336.62 L461.50,336.29 L462.00,335.94 L462.50,335.56 L463.00,335.15 L463.50,334.71 L464.00,334.25 L464.50,333.75 L465.00,333.23 L465.50,332.67 L466.00,332.08 L466.50,331.46 L467.00,330.81 L467.50,330.14 L468.00,329.43 L468.50,328.71 L469.00,327.95 L469.50,327.18 L470.00,326.40 L470.50,325.60 L471.00,324.79 L471.50,323.98 L472.00,323.17 L472.50,322.36 L473.00,321.57 L473.50,320.80 L474.00,320.06 L474.50,319.35 L475.00,318.68 L475.50,318.06 L476.00,317.49 L476.50,316.99 L477.00,316.56 L477.50,316.21 L478.00,315.94 L478.50,315.76 L479.00,315.66 L479.50,315.66 L480.00,315.74 L480.50,315.92 L481.00,316.17 L481.50,316.51 L482.00,316.92 L482.50,317.39 L483.00,317.93 L483.50,318.51 L484.00,319.14 L484.50,319.81 L485.00,320.51 L485.50,321.22 L486.00,321.96 L486.50,322.70 L487.00,323.44 L487.50,324.19 L488.00,324.92 L488.50,325.65 L489.00,326.36 L489.50,327.05 L490.00,327.72 L490.50,328.37 L491.00,328.99 L491.50,329.58 L492.00,330.14 L492.50,330.68 L493.00,331.18 L493.50,331.65 L494.00,332.09 L494.50,332.50 L495.00,332.88 L495.50,333.24 L496.00,333.56 L496.50,333.86 L497.00,334.13 L497.50,334.37 L498.00,334.59 L498.50,334.79 L499.00,334.98 L499.50,335.14 L500.00,335.28 L500.50,335.41 L501.00,335.52 L501.50,335.62 L502.00,335.71 L502.50,335.78 L503.00,335.85 L503.50,335.91 L504.00,335.95 L504.50,336.00 L505.00,336.03 L505.50,336.06 L506.00,336.09 L506.50,336.11 L507.00,336.12 L507.50,336.13 L508.00,336.14 L508.50,336.15 L509.00,336.16 L509.50,336.16 L510.00,336.16 L510.50,336.16 L511.00,336.16 L511.50,336.15 L512.00,336.15 L512.50,336.14 L513.00,336.14 L513.50,336.13 L514.00,336.12 L514.50,336.12 L515.00,336.11 L515.50,336.10 L516.00,336.09 L516.50,336.08 L517.00,336.07 L517.50,336.06 L518.00,336.05 L518.50,336.04 L519.00,336.03 L519.50,336.02 L520.00,336.01 L520.50,336.00 L521.00,335.99 L521.50,335.98 L522.00,335.97 L522.50,335.96 L523.00,335.95 L523.50,335.93 L524.00,335.92 L524.50,335.91 L525.00,335.90 L525.50,335.89 L526.00,335.88 L526.50,335.86 L527.00,335.85 L527.50,335.84 L528.00,335.83 L528.50,335.82 L529.00,335.80 L529.50,335.79 L530.00,335.78 L530.50,335.77 L531.00,335.76 L531.50,335.74 L532.00,335.73 L532.50,335.72 L533.00,335.71 L533.50,335.70 L534.00,335.69 L534.50,335.67 L535.00,335.66 L535.50,335.65 L536.00,335.64 L536.50,335.63 L537.00,335.62 L537.50,335.60 L538.00,335.59 L538.50,335.58 L539.00,335.57 L539.50,335.56 L540.00,335.55 L540.50,335.54 L541.00,335.53 L541.50,335.52 L542.00,335.51 L542.50,335.50 L543.00,335.49 L543.50,335.48 L544.00,335.47 L544.50,335.46" fill="none" stroke="#ff00ff" stroke-width="2.4" stroke-linejoin="round" stroke-linecap="round" />
<path d="M305.50,346.27 L306.00,346.26 L306.50,346.26 L307.00,346.26 L307.50,346.26 L308.00,346.26 L308.50,346.25 L309.00,346.25 L309.50,346.25 L310.00,346.25 L310.50,346.24 L311.00,346.24 L311.50,346.24 L312.00,346.23 L312.50,346.23 L313.00,346.23 L313.50,346.22 L314.00,346.22 L314.50,346.22 L315.00,346.21 L315.50,346.21 L316.00,346.21 L316.50,346.20 L317.00,346.20 L317.50,346.19 L318.00,346.19 L318.50,346.19 L319.00,346.18 L319.50,346.18 L320.00,346.17 L320.50,346.17 L321.00,346.16 L321.50,346.16 L322.00,346.15 L322.50,346.15 L323.00,346.15 L323.50,346.14 L324.00,346.14 L324.50,346.13 L325.00,346.13 L325.50,346.12 L326.00,346.11 L326.50,346.11 L327.00,346.10 L327.50,346.10 L328.00,346.09 L328.50,346.09 L329.00,346.08 L329.50,346.08 L330.00,346.07 L330.50,346.07 L331.00,346.06 L331.50,346.05 L332.00,346.05 L332.50,346.04 L333.00,346.04 L333.50,346.03 L334.00,346.02 L334.50,346.02 L335.00,346.01 L335.50,346.01 L336.00,346.00 L336.50,345.99 L337.00,345.99 L337.50,345.98 L338.00,345.98 L338.50,345.97 L339.00,345.96 L339.50,345.96 L340.00,345.95 L340.50,345.94 L341.00,345.94 L341.50,345.93 L342.00,345.92 L342.50,345.92 L343.00,345.91 L343.50,345.90 L344.00,345.90 L344.50,345.89 L345.00,345.88 L345.50,345.87 L346.00,345.87 L346.50,345.86 L347.00,345.85 L347.50,345.84 L348.00,345.84 L348.50,345.83 L349.00,345.82 L349.50,345.81 L350.00,345.80 L350.50,345.79 L351.00,345.79 L351.50,345.78 L352.00,345.77 L352.50,345.76 L353.00,345.75 L353.50,345.74 L354.00,345.73 L354.50,345.72 L355.00,345.71 L355.50,345.70 L356.00,345.69 L356.50,345.68 L357.00,345.67 L357.50,345.66 L358.00,345.65 L358.50,345.64 L359.00,345.63 L359.50,345.62 L360.00,345.61 L360.50,345.60 L361.00,345.59 L361.50,345.57 L362.00,345.56 L362.50,345.55 L363.00,345.54 L363.50,345.53 L364.00,345.52 L364.50,345.50 L365.00,345.49 L365.50,345.48 L366.00,345.47 L366.50,345.45 L367.00,345.44 L367.50,345.43 L368.00,345.41 L368.50,345.40 L369.00,345.39 L369.50,345.37 L370.00,345.36 L370.50,345.35 L371.00,345.33 L371.50,345.32 L372.00,345.30 L372.50,345.29 L373.00,345.28 L373.50,345.26 L374.00,345.25 L374.50,345.23 L375.00,345.22 L375.50,345.20 L376.00,345.19 L376.50,345.17 L377.00,345.15 L377.50,345.13 L378.00,345.12 L378.50,345.10 L379.00,345.08 L379.50,345.06 L380.00,345.04 L380.50,345.02 L381.00,344.99 L381.50,344.97 L382.00,344.95 L382.50,344.93 L383.00,344.91 L383.50,344.88 L384.00,344.86 L384.50,344.83 L385.00,344.81 L385.50,344.78 L386.00,344.76 L386.50,344.73 L387.00,344.71 L387.50,344.68 L388.00,344.65 L388.50,344.63 L389.00,344.60 L389.50,344.57 L390.00,344.54 L390.50,344.52 L391.00,344.49 L391.50,344.46 L392.00,344.43 L392.50,344.40 L393.00,344.37 L393.50,344.34 L394.00,344.31 L394.50,344.29 L395.00,344.26 L395.50,344.23 L396.00,344.20 L396.50,344.17 L397.00,344.14 L397.50,344.11 L398.00,344.07 L398.50,344.04 L399.00,344.01 L399.50,343.98 L400.00,343.95 L400.50,343.92 L401.00,343.89 L401.50,343.86 L402.00,343.83 L402.50,343.80 L403.00,343.77 L403.50,343.74 L404.00,343.71 L404.50,343.68 L405.00,343.65 L405.50,343.62 L406.00,343.59 L406.50,343.56 L407.00,343.53 L407.50,343.50 L408.00,343.47 L408.50,343.43 L409.00,343.40 L409.50,343.37 L410.00,343.34 L410.50,343.31 L411.00,343.27 L411.50,343.24 L412.00,343.21 L412.50,343.18 L413.00,343.14 L413.50,343.11 L414.00,343.08 L414.50,343.04 L415.00,343.01 L415.50,342.97 L416.00,342.94 L416.50,342.90 L417.00,342.87 L417.50,342.83 L418.00,342.80 L418.50,342.76 L419.00,342.73 L419.50,342.69 L420.00,342.66 L420.50,342.62 L421.00,342.58 L421.50,342.55 L422.00,342.51 L422.50,342.47 L423.00,342.44 L423.50,342.40 L424.00,342.36 L424.50,342.33 L425.00,342.29 L425.50,342.25 L426.00,342.21 L426.50,342.18 L427.00,342.14 L427.50,342.10 L428.00,342.06 L428.50,342.02 L429.00,341.98 L429.50,341.94 L430.00,341.91 L430.50,341.87 L431.00,341.83 L431.50,341.79 L432.00,341.75 L432.50,341.71 L433.00,341.67 L433.50,341.63 L434.00,341.59 L434.50,341.55 L435.00,341.51 L435.50,341.46 L436.00,341.42 L436.50,341.38 L437.00,341.34 L437.50,341.30 L438.00,341.26 L438.50,341.22 L439.00,341.17 L439.50,341.13 L440.00,341.09 L440.50,341.05 L441.00,341.00 L441.50,340.96 L442.00,340.91 L442.50,340.87 L443.00,340.82 L443.50,340.78 L444.00,340.73 L444.50,340.68 L445.00,340.64 L445.50,340.59 L446.00,340.54 L446.50,340.49 L447.00,340.44 L447.50,340.39 L448.00,340.34 L448.50,340.29 L449.00,340.24 L449.50,340.19 L450.00,340.13 L450.50,340.08 L451.00,340.03 L451.50,339.97 L452.00,339.92 L452.50,339.86 L453.00,339.80 L453.50,339.75 L454.00,339.69 L454.50,339.63 L455.00,339.57 L455.50,339.51 L456.00,339.45 L456.50,339.38 L457.00,339.32 L457.50,339.26 L458.00,339.19 L458.50,339.12 L459.00,339.05 L459.50,338.98 L460.00,338.91 L460.50,338.84 L461.00,338.76 L461.50,338.68 L462.00,338.60 L462.50,338.51 L463.00,338.42 L463.50,338.33 L464.00,338.23 L464.50,338.13 L465.00,338.02 L465.50,337.90 L466.00,337.78 L466.50,337.65 L467.00,337.51 L467.50,337.36 L468.00,337.20 L468.50,337.02 L469.00,336.83 L469.50,336.63 L470.00,336.41 L470.50,336.17 L471.00,335.90 L471.50,335.62 L472.00,335.31 L472.50,334.97 L473.00,334.61 L473.50,334.21 L474.00,333.79 L474.50,333.33 L475.00,332.83 L475.50,332.29 L476.00,331.72 L476.50,331.10 L477.00,330.45 L477.50,329.75 L478.00,329.01 L478.50,328.22 L479.00,327.40 L479.50,326.53 L480.00,325.62 L480.50,324.67 L481.00,323.69 L481.50,322.67 L482.00,321.62 L482.50,320.54 L483.00,319.44 L483.50,318.32 L484.00,317.20 L484.50,316.07 L485.00,314.94 L485.50,313.83 L486.00,312.74 L486.50,311.67 L487.00,310.66 L487.50,309.69 L488.00,308.78 L488.50,307.96 L489.00,307.21 L489.50,306.57 L490.00,306.03 L490.50,305.61 L491.00,305.31 L491.50,305.13 L492.00,305.09 L492.50,305.18 L493.00,305.40 L493.50,305.74 L494.00,306.20 L494.50,306.76 L495.00,307.43 L495.50,308.19 L496.00,309.02 L496.50,309.92 L497.00,310.87 L497.50,311.86 L498.00,312.89 L498.50,313.95 L499.00,315.01 L499.50,316.09 L500.00,317.16 L500.50,318.22 L501.00,319.26 L501.50,320.29 L502.00,321.29 L502.50,322.26 L503.00,323.19 L503.50,324.09 L504.00,324.95 L504.50,325.77 L505.00,326.55 L505.50,327.29 L506.00,327.98 L506.50,328.63 L507.00,329.23 L507.50,329.80 L508.00,330.32 L508.50,330.81 L509.00,331.25 L509.50,331.66 L510.00,332.04 L510.50,332.38 L511.00,332.69 L511.50,332.97 L512.00,333.23 L512.50,333.46 L513.00,333.67 L513.50,333.85 L514.00,334.02 L514.50,334.17 L515.00,334.30 L515.50,334.42 L516.00,334.53 L516.50,334.62 L517.00,334.70 L517.50,334.78 L518.00,334.84 L518.50,334.90 L519.00,334.95 L519.50,335.00 L520.00,335.04 L520.50,335.07 L521.00,335.10 L521.50,335.13 L522.00,335.15 L522.50,335.18 L523.00,335.19 L523.50,335.21 L524.00,335.23 L524.50,335.24 L525.00,335.25 L525.50,335.26 L526.00,335.27 L526.50,335.27 L527.00,335.28 L527.50,335.29 L528.00,335.29 L528.50,335.29 L529.00,335.30 L529.50,335.30 L530.00,335.30 L530.50,335.30 L531.00,335.30 L531.50,335.30 L532.00,335.30 L532.50,335.30 L533.00,335.30 L533.50,335.30 L534.00,335.30 L534.50,335.30 L535.00,335.29 L535.50,335.29 L536.00,335.29 L536.50,335.28 L537.00,335.28 L537.50,335.28 L538.00,335.27 L538.50,335.27 L539.00,335.27 L539.50,335.26 L540.00,335.26 L540.50,335.25 L541.00,335.25 L541.50,335.24 L542.00,335.24 L542.50,335.23 L543.00,335.23 L543.50,335.22 L544.00,335.22 L544.50,335.21" fill="none" stroke="#ff0000" stroke-width="2.4" stroke-linejoin="round" stroke-linecap="round" />
<path d="M305.50,346.30 L306.00,346.30 L306.50,346.30 L307.00,346.29 L307.50,346.29 L308.00,346.29 L308.50,346.29 L309.00,346.29 L309.50,346.28 L310.00,346.28 L310.50,346.28 L311.00,346.28 L311.50,346.27 L312.00,346.27 L312.50,346.27 L313.00,346.26 L313.50,346.26 L314.00,346.26 L314.50,346.25 L315.00,346.25 L315.50,346.25 L316.00,346.24 L316.50,346.24 L317.00,346.24 L317.50,346.23 L318.00,346.23 L318.50,346.22 L319.00,346.22 L319.50,346.22 L320.00,346.21 L320.50,346.21 L321.00,346.20 L321.50,346.20 L322.00,346.19 L322.50,346.19 L323.00,346.19 L323.50,346.18 L324.00,346.18 L324.50,346.17 L325.00,346.17 L325.50,346.16 L326.00,346.16 L326.50,346.15 L327.00,346.15 L327.50,346.14 L328.00,346.14 L328.50,346.13 L329.00,346.13 L329.50,346.12 L330.00,346.11 L330.50,346.11 L331.00,346.10 L331.50,346.10 L332.00,346.09 L332.50,346.09 L333.00,346.08 L333.50,346.08 L334.00,346.07 L334.50,346.06 L335.00,346.06 L335.50,346.05 L336.00,346.05 L336.50,346.04 L337.00,346.04 L337.50,346.03 L338.00,346.02 L338.50,346.02 L339.00,346.01 L339.50,346.01 L340.00,346.00 L340.50,345.99 L341.00,345.99 L341.50,345.98 L342.00,345.98 L342.50,345.97 L343.00,345.96 L343.50,345.96 L344.00,345.95 L344.50,345.94 L345.00,345.93 L345.50,345.93 L346.00,345.92 L346.50,345.91 L347.00,345.91 L347.50,345.90 L348.00,345.89 L348.50,345.88 L349.00,345.88 L349.50,345.87 L350.00,345.86 L350.50,345.85 L351.00,345.84 L351.50,345.83 L352.00,345.83 L352.50,345.82 L353.00,345.81 L353.50,345.80 L354.00,345.79 L354.50,345.78 L355.00,345.77 L355.50,345.76 L356.00,345.75 L356.50,345.74 L357.00,345.73 L357.50,345.72 L358.00,345.71 L358.50,345.70 L359.00,345.69 L359.50,345.68 L360.00,345.67 L360.50,345.66 L361.00,345.65 L361.50,345.64 L362.00,345.63 L362.50,345.62 L363.00,345.61 L363.50,345.60 L364.00,345.58 L364.50,345.57 L365.00,345.56 L365.50,345.55 L366.00,345.54 L366.50,345.53 L367.00,345.51 L367.50,345.50 L368.00,345.49 L368.50,345.48 L369.00,345.46 L369.50,345.45 L370.00,345.44 L370.50,345.42 L371.00,345.41 L371.50,345.40 L372.00,345.38 L372.50,345.37 L373.00,345.36 L373.50,345.34 L374.00,345.33 L374.50,345.31 L375.00,345.30 L375.50,345.29 L376.00,345.27 L376.50,345.25 L377.00,345.24 L377.50,345.22 L378.00,345.20 L378.50,345.19 L379.00,345.17 L379.50,345.15 L380.00,345.13 L380.50,345.11 L381.00,345.09 L381.50,345.07 L382.00,345.05 L382.50,345.02 L383.00,345.00 L383.50,344.98 L384.00,344.96 L384.50,344.93 L385.00,344.91 L385.50,344.88 L386.00,344.86 L386.50,344.84 L387.00,344.81 L387.50,344.78 L388.00,344.76 L388.50,344.73 L389.00,344.71 L389.50,344.68 L390.00,344.65 L390.50,344.63 L391.00,344.60 L391.50,344.57 L392.00,344.54 L392.50,344.52 L393.00,344.49 L393.50,344.46 L394.00,344.43 L394.50,344.40 L395.00,344.38 L395.50,344.35 L396.00,344.32 L396.50,344.29 L397.00,344.26 L397.50,344.23 L398.00,344.20 L398.50,344.17 L399.00,344.15 L399.50,344.12 L400.00,344.09 L400.50,344.06 L401.00,344.03 L401.50,344.00 L402.00,343.97 L402.50,343.94 L403.00,343.91 L403.50,343.89 L404.00,343.86 L404.50,343.83 L405.00,343.80 L405.50,343.77 L406.00,343.74 L406.50,343.71 L407.00,343.69 L407.50,343.66 L408.00,343.63 L408.50,343.60 L409.00,343.57 L409.50,343.54 L410.00,343.51 L410.50,343.48 L411.00,343.45 L411.50,343.42 L412.00,343.39 L412.50,343.35 L413.00,343.32 L413.50,343.29 L414.00,343.26 L414.50,343.23 L415.00,343.20 L415.50,343.17 L416.00,343.13 L416.50,343.10 L417.00,343.07 L417.50,343.04 L418.00,343.01 L418.50,342.97 L419.00,342.94 L419.50,342.91 L420.00,342.87 L420.50,342.84 L421.00,342.81 L421.50,342.78 L422.00,342.74 L422.50,342.71 L423.00,342.67 L423.50,342.64 L424.00,342.61 L424.50,342.57 L425.00,342.54 L425.50,342.51 L426.00,342.47 L426.50,342.44 L427.00,342.40 L427.50,342.37 L428.00,342.34 L428.50,342.30 L429.00,342.27 L429.50,342.23 L430.00,342.20 L430.50,342.16 L431.00,342.13 L431.50,342.09 L432.00,342.06 L432.50,342.02 L433.00,341.99 L433.50,341.95 L434.00,341.92 L434.50,341.88 L435.00,341.85 L435.50,341.81 L436.00,341.78 L436.50,341.74 L437.00,341.71 L437.50,341.67 L438.00,341.64 L438.50,341.60 L439.00,341.57 L439.50,341.53 L440.00,341.50 L440.50,341.46 L441.00,341.43 L441.50,341.39 L442.00,341.36 L442.50,341.32 L443.00,341.29 L443.50,341.25 L444.00,341.21 L444.50,341.17 L445.00,341.14 L445.50,341.10 L446.00,341.06 L446.50,341.02 L447.00,340.99 L447.50,340.95 L448.00,340.91 L448.50,340.87 L449.00,340.83 L449.50,340.79 L450.00,340.75 L450.50,340.71 L451.00,340.68 L451.50,340.64 L452.00,340.60 L452.50,340.56 L453.00,340.52 L453.50,340.48 L454.00,340.44 L454.50,340.40 L455.00,340.36 L455.50,340.32 L456.00,340.28 L456.50,340.24 L457.00,340.20 L457.50,340.16 L458.00,340.12 L458.50,340.08 L459.00,340.04 L459.50,340.00 L460.00,339.96 L460.50,339.92 L461.00,339.88 L461.50,339.84 L462.00,339.80 L462.50,339.76 L463.00,339.72 L463.50,339.68 L464.00,339.64 L464.50,339.60 L465.00,339.57 L465.50,339.53 L466.00,339.49 L466.50,339.45 L467.00,339.41 L467.50,339.37 L468.00,339.33 L468.50,339.30 L469.00,339.26 L469.50,339.22 L470.00,339.19 L470.50,339.15 L471.00,339.11 L471.50,339.07 L472.00,339.04 L472.50,339.00 L473.00,338.97 L473.50,338.93 L474.00,338.90 L474.50,338.86 L475.00,338.83 L475.50,338.79 L476.00,338.76 L476.50,338.73 L477.00,338.69 L477.50,338.66 L478.00,338.63 L478.50,338.59 L479.00,338.56 L479.50,338.53 L480.00,338.50 L480.50,338.47 L481.00,338.44 L481.50,338.41 L482.00,338.38 L482.50,338.35 L483.00,338.32 L483.50,338.29 L484.00,338.26 L484.50,338.22 L485.00,338.19 L485.50,338.16 L486.00,338.13 L486.50,338.10 L487.00,338.07 L487.50,338.04 L488.00,338.02 L488.50,337.99 L489.00,337.96 L489.50,337.93 L490.00,337.90 L490.50,337.87 L491.00,337.84 L491.50,337.81 L492.00,337.78 L492.50,337.75 L493.00,337.72 L493.50,337.70 L494.00,337.67 L494.50,337.64 L495.00,337.61 L495.50,337.58 L496.00,337.55 L496.50,337.53 L497.00,337.50 L497.50,337.47 L498.00,337.44 L498.50,337.42 L499.00,337.39 L499.50,337.36 L500.00,337.34 L500.50,337.31 L501.00,337.28 L501.50,337.26 L502.00,337.23 L502.50,337.20 L503.00,337.18 L503.50,337.15 L504.00,337.13 L504.50,337.10 L505.00,337.08 L505.50,337.05 L506.00,337.03 L506.50,337.00 L507.00,336.98 L507.50,336.95 L508.00,336.93 L508.50,336.90 L509.00,336.88 L509.50,336.86 L510.00,336.83 L510.50,336.81 L511.00,336.79 L511.50,336.76 L512.00,336.74 L512.50,336.72 L513.00,336.69 L513.50,336.67 L514.00,336.65 L514.50,336.63 L515.00,336.61 L515.50,336.58 L516.00,336.56 L516.50,336.54 L517.00,336.52 L517.50,336.50 L518.00,336.48 L518.50,336.46 L519.00,336.44 L519.50,336.42 L520.00,336.40 L520.50,336.38 L521.00,336.36 L521.50,336.34 L522.00,336.32 L522.50,336.30 L523.00,336.29 L523.50,336.27 L524.00,336.25 L524.50,336.23 L525.00,336.21 L525.50,336.19 L526.00,336.17 L526.50,336.16 L527.00,336.14 L527.50,336.12 L528.00,336.10 L528.50,336.09 L529.00,336.07 L529.50,336.05 L530.00,336.04 L530.50,336.02 L531.00,336.00 L531.50,335.99 L532.00,335.97 L532.50,335.95 L533.00,335.94 L533.50,335.92 L534.00,335.91 L534.50,335.89 L535.00,335.87 L535.50,335.86 L536.00,335.84 L536.50,335.83 L537.00,335.81 L537.50,335.80 L538.00,335.79 L538.50,335.77 L539.00,335.76 L539.50,335.74 L540.00,335.73 L540.50,335.72 L541.00,335.70 L541.50,335.69 L542.00,335.68 L542.50,335.66 L543.00,335.65 L543.50,335.64 L544.00,335.62 L544.50,335.61" fill="none" stroke="#00f000" stroke-width="2.6" stroke-linejoin="round" stroke-linecap="round" />
<line x1="326.80" y1="315.50" x2="326.80" y2="354.10" stroke="#00f000" stroke-width="1.1" stroke-dasharray="2.5,1.5"/>
<line x1="339.30" y1="328.00" x2="339.30" y2="371.00" stroke="#ff00ff" stroke-width="1.1" stroke-dasharray="2.5,1.5"/>
<line x1="352.60" y1="315.50" x2="352.60" y2="357.60" stroke="#ff0000" stroke-width="1.1" stroke-dasharray="2.5,1.5"/>
<line x1="466.10" y1="290.50" x2="466.10" y2="333.10" stroke="#00f000" stroke-width="1.1" stroke-dasharray="2.5,1.5"/>
<line x1="479.10" y1="305.80" x2="479.10" y2="345.30" stroke="#ff00ff" stroke-width="1.1" stroke-dasharray="2.5,1.5"/>
<line x1="492.30" y1="292.90" x2="492.30" y2="333.10" stroke="#ff0000" stroke-width="1.1" stroke-dasharray="2.5,1.5"/>
<text x="0" y="0" transform="translate(314.00,281.00) scale(1.04,1)" font-size="12" font-weight="bold" fill="#00f000">Mn<tspan font-size="8" dy="-4.5">4+</tspan><tspan dy="4.5"> 2p</tspan><tspan font-size="8.5" dy="3.0">1/2</tspan></text>
<text x="0" y="0" transform="translate(358.00,300.00) scale(1.04,1)" font-size="12" font-weight="bold" fill="#ff0000">Mn<tspan font-size="8" dy="-4.5">2+</tspan><tspan dy="4.5"> 2p</tspan><tspan font-size="8.5" dy="3.0">1/2</tspan></text>
<text x="0" y="0" transform="translate(413.90,273.10) scale(1.04,1)" font-size="12" font-weight="bold" fill="#00f000">Mn<tspan font-size="8" dy="-4.5">4+</tspan><tspan dy="4.5"> 2p</tspan><tspan font-size="8.5" dy="3.0">3/2</tspan></text>
<text x="0" y="0" transform="translate(485.90,260.90) scale(1.04,1)" font-size="12" font-weight="bold" fill="#ff0000">Mn<tspan font-size="8" dy="-4.5">2+</tspan><tspan dy="4.5"> 2p</tspan><tspan font-size="8.5" dy="3.0">3/2</tspan></text>
<text x="0" y="0" transform="translate(315.60,386.80) scale(1.04,1)" font-size="12" font-weight="bold" fill="#ff00ff">Mn<tspan font-size="8" dy="-4.5">3+</tspan><tspan dy="4.5"> 2p</tspan><tspan font-size="8.5" dy="3.0">1/2</tspan></text>
<text x="0" y="0" transform="translate(449.50,358.60) scale(1.04,1)" font-size="12" font-weight="bold" fill="#ff00ff">Mn<tspan font-size="8" dy="-4.5">3+</tspan><tspan dy="4.5"> 2p</tspan><tspan font-size="8.5" dy="3.0">3/2</tspan></text>
</svg>
</body></html>
